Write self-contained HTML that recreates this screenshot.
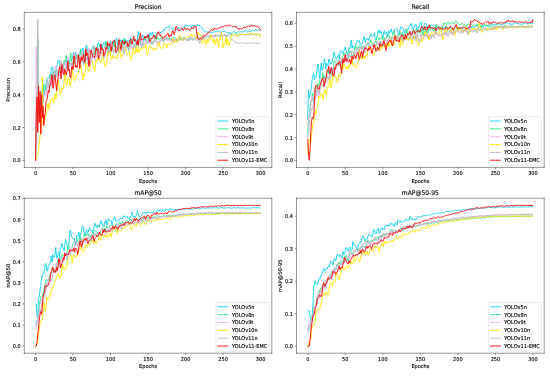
<!DOCTYPE html>
<html><head><meta charset="utf-8"><title>Training curves</title>
<style>html,body{margin:0;padding:0;background:#fff;width:550px;height:376px;overflow:hidden}svg{display:block}
text{font-family:"DejaVu Sans","Liberation Sans",sans-serif;stroke:#000;stroke-width:0.4;stroke-opacity:0.6;text-rendering:geometricPrecision}</style></head>
<body>
<svg width="550" height="376" preserveAspectRatio="none" viewBox="0 0 1100 702.80" version="1.1">
 
 <defs>
  <style type="text/css">*{stroke-linejoin: round; stroke-linecap: butt}</style>
 </defs>
 <g id="figure_1">
  <g id="patch_1">
   <path d="M 0 702.80 
L 1100 702.80 
L 1100 0 
L 0 0 
z
" style="fill: #ffffff"/>
  </g>
  <g id="axes_1">
   <g id="patch_2">
    <path d="M 48.6 312.89 
L 543.6 312.89 
L 543.6 23.17 
L 48.6 23.17 
z
" style="fill: #ffffff"/>
   </g>
   <g id="matplotlib.axis_1">
    <g id="xtick_1">
     <g id="line2d_1">
      
      <g>
       <path d="M 71.10 312.90 L 71.10 316.40" style="stroke: #000000; stroke-width: 0.8"/>
      </g>
     </g>
     <g id="text_1">
      <text style="font-size: 10px; font-family: 'DejaVu Sans'; text-anchor: middle" x="71.1" y="327.49" transform="rotate(-0 71.1 327.49)">0</text>
     </g>
    </g>
    <g id="xtick_2">
     <g id="line2d_2">
      <g>
       <path d="M 146.10 312.90 L 146.10 316.40" style="stroke: #000000; stroke-width: 0.8"/>
      </g>
     </g>
     <g id="text_2">
      <text style="font-size: 10px; font-family: 'DejaVu Sans'; text-anchor: middle" x="146.1" y="327.49" transform="rotate(-0 146.1 327.49)">50</text>
     </g>
    </g>
    <g id="xtick_3">
     <g id="line2d_3">
      <g>
       <path d="M 221.10 312.90 L 221.10 316.40" style="stroke: #000000; stroke-width: 0.8"/>
      </g>
     </g>
     <g id="text_3">
      <text style="font-size: 10px; font-family: 'DejaVu Sans'; text-anchor: middle" x="221.1" y="327.49" transform="rotate(-0 221.1 327.49)">100</text>
     </g>
    </g>
    <g id="xtick_4">
     <g id="line2d_4">
      <g>
       <path d="M 296.10 312.90 L 296.10 316.40" style="stroke: #000000; stroke-width: 0.8"/>
      </g>
     </g>
     <g id="text_4">
      <text style="font-size: 10px; font-family: 'DejaVu Sans'; text-anchor: middle" x="296.1" y="327.49" transform="rotate(-0 296.1 327.49)">150</text>
     </g>
    </g>
    <g id="xtick_5">
     <g id="line2d_5">
      <g>
       <path d="M 371.10 312.90 L 371.10 316.40" style="stroke: #000000; stroke-width: 0.8"/>
      </g>
     </g>
     <g id="text_5">
      <text style="font-size: 10px; font-family: 'DejaVu Sans'; text-anchor: middle" x="371.1" y="327.49" transform="rotate(-0 371.1 327.49)">200</text>
     </g>
    </g>
    <g id="xtick_6">
     <g id="line2d_6">
      <g>
       <path d="M 446.10 312.90 L 446.10 316.40" style="stroke: #000000; stroke-width: 0.8"/>
      </g>
     </g>
     <g id="text_6">
      <text style="font-size: 10px; font-family: 'DejaVu Sans'; text-anchor: middle" x="446.1" y="327.49" transform="rotate(-0 446.1 327.49)">250</text>
     </g>
    </g>
    <g id="xtick_7">
     <g id="line2d_7">
      <g>
       <path d="M 521.10 312.90 L 521.10 316.40" style="stroke: #000000; stroke-width: 0.8"/>
      </g>
     </g>
     <g id="text_7">
      <text style="font-size: 10px; font-family: 'DejaVu Sans'; text-anchor: middle" x="521.1" y="327.49" transform="rotate(-0 521.1 327.49)">300</text>
     </g>
    </g>
    <g id="text_8">
     <text style="font-size: 10px; font-family: 'DejaVu Sans'; text-anchor: middle" x="296.1" y="341.17" transform="rotate(-0 296.1 341.17)">Epochs</text>
    </g>
   </g>
   <g id="matplotlib.axis_2">
    <g id="ytick_1">
     <g id="line2d_8">
      
      <g>
       <path d="M 48.60 299.73 L 45.10 299.73" style="stroke: #000000; stroke-width: 0.8"/>
      </g>
     </g>
     <g id="text_9">
      <text style="font-size: 10px; font-family: 'DejaVu Sans'; text-anchor: end" x="41.6" y="303.52" transform="rotate(-0 41.6 303.52)">0.0</text>
     </g>
    </g>
    <g id="ytick_2">
     <g id="line2d_9">
      <g>
       <path d="M 48.60 238.33 L 45.10 238.33" style="stroke: #000000; stroke-width: 0.8"/>
      </g>
     </g>
     <g id="text_10">
      <text style="font-size: 10px; font-family: 'DejaVu Sans'; text-anchor: end" x="41.6" y="242.13" transform="rotate(-0 41.6 242.13)">0.2</text>
     </g>
    </g>
    <g id="ytick_3">
     <g id="line2d_10">
      <g>
       <path d="M 48.60 176.94 L 45.10 176.94" style="stroke: #000000; stroke-width: 0.8"/>
      </g>
     </g>
     <g id="text_11">
      <text style="font-size: 10px; font-family: 'DejaVu Sans'; text-anchor: end" x="41.6" y="180.73" transform="rotate(-0 41.6 180.73)">0.4</text>
     </g>
    </g>
    <g id="ytick_4">
     <g id="line2d_11">
      <g>
       <path d="M 48.60 115.55 L 45.10 115.55" style="stroke: #000000; stroke-width: 0.8"/>
      </g>
     </g>
     <g id="text_12">
      <text style="font-size: 10px; font-family: 'DejaVu Sans'; text-anchor: end" x="41.6" y="119.34" transform="rotate(-0 41.6 119.34)">0.6</text>
     </g>
    </g>
    <g id="ytick_5">
     <g id="line2d_12">
      <g>
       <path d="M 48.60 54.15 L 45.10 54.15" style="stroke: #000000; stroke-width: 0.8"/>
      </g>
     </g>
     <g id="text_13">
      <text style="font-size: 10px; font-family: 'DejaVu Sans'; text-anchor: end" x="41.6" y="57.95" transform="rotate(-0 41.6 57.95)">0.8</text>
     </g>
    </g>
    <g id="text_14">
     <text style="font-size: 10px; font-family: 'DejaVu Sans'; text-anchor: middle" x="19.61" y="168.03" transform="rotate(-90 19.61 168.03)">Precision</text>
    </g>
   </g>
   <g id="line2d_13">
    <path d="M 71.1 299.72 
L 72.6 232.19 
L 74.1 219.91 
L 75.6 212.38 
L 77.1 213.98 
L 80.1 190.12 
L 81.6 178.21 
L 83.1 170.88 
L 84.6 178.92 
L 86.1 181.10 
L 87.6 179.61 
L 89.1 173.97 
L 90.6 163.55 
L 92.1 157.21 
L 93.6 148.35 
L 95.1 145.93 
L 96.6 146.21 
L 98.1 144.68 
L 99.6 139.70 
L 101.1 145.01 
L 102.6 129.06 
L 104.1 124.77 
L 105.6 126.11 
L 107.1 137.60 
L 108.6 148.13 
L 110.1 144.58 
L 111.6 136.79 
L 113.1 123.91 
L 114.6 120.75 
L 116.1 113.97 
L 117.6 111.85 
L 119.1 115.96 
L 120.6 127.17 
L 122.1 125.28 
L 123.6 126.23 
L 125.1 125.66 
L 126.6 119.36 
L 128.1 119.11 
L 129.6 119.73 
L 131.1 120.21 
L 132.6 114.46 
L 134.1 110.14 
L 135.6 109.88 
L 137.1 114.11 
L 138.6 113.77 
L 140.1 111.36 
L 141.6 112.63 
L 143.1 112.04 
L 144.6 110.87 
L 146.1 101.69 
L 147.6 98.14 
L 149.1 104.78 
L 150.6 97.97 
L 152.1 103.05 
L 155.1 114.64 
L 156.6 114.21 
L 158.1 102.96 
L 159.6 103.44 
L 161.1 93.40 
L 162.6 96.27 
L 164.1 94.36 
L 165.6 89.51 
L 167.1 97.41 
L 168.6 115.83 
L 170.1 104.65 
L 171.6 87.63 
L 173.1 83.82 
L 174.6 92.09 
L 176.1 97.14 
L 177.6 94.24 
L 179.1 93.42 
L 180.6 97.27 
L 182.1 95.87 
L 183.6 92.61 
L 185.1 87.82 
L 186.6 85.39 
L 188.1 85.92 
L 189.6 91.05 
L 191.1 96.79 
L 192.6 93.03 
L 195.6 83.55 
L 197.1 79.34 
L 198.6 83.05 
L 200.1 87.24 
L 201.6 87.66 
L 203.1 83.23 
L 204.6 90.87 
L 206.1 83.83 
L 207.6 79.34 
L 209.1 80.97 
L 210.6 77.58 
L 212.1 85.99 
L 213.6 81.97 
L 215.1 80.51 
L 216.6 90.77 
L 218.1 91.40 
L 221.1 76.49 
L 222.6 79.72 
L 224.1 84.22 
L 225.6 82.15 
L 227.1 76.51 
L 228.6 78.00 
L 230.1 81.44 
L 231.6 78.79 
L 233.1 70.95 
L 234.6 79.24 
L 236.1 85.07 
L 237.6 82.98 
L 239.1 78.25 
L 240.6 77.55 
L 242.1 74.08 
L 243.6 81.69 
L 245.1 83.18 
L 246.6 76.45 
L 248.1 72.38 
L 249.6 71.47 
L 251.1 82.14 
L 252.6 78.84 
L 254.1 75.17 
L 255.6 76.17 
L 257.1 75.60 
L 258.6 77.46 
L 260.1 74.74 
L 261.6 70.67 
L 263.1 74.52 
L 264.6 76.43 
L 266.1 74.37 
L 267.6 73.48 
L 269.1 77.79 
L 270.6 78.17 
L 272.1 77.48 
L 273.6 82.24 
L 275.1 68.17 
L 276.6 58.66 
L 278.1 66.46 
L 279.6 76.03 
L 281.1 70.45 
L 282.6 68.08 
L 284.1 69.40 
L 285.6 65.00 
L 287.1 74.15 
L 288.6 74.81 
L 290.1 70.68 
L 291.6 71.46 
L 293.1 69.66 
L 294.6 66.29 
L 296.1 68.58 
L 297.6 71.39 
L 299.1 65.46 
L 300.6 60.92 
L 302.1 66.29 
L 303.6 64.33 
L 305.1 60.65 
L 306.6 67.72 
L 308.1 69.47 
L 309.6 67.88 
L 311.1 68.21 
L 312.6 62.26 
L 314.1 62.44 
L 315.6 60.78 
L 317.1 61.31 
L 320.1 61.30 
L 321.6 60.65 
L 323.1 59.25 
L 324.6 60.49 
L 327.6 55.17 
L 329.1 56.47 
L 330.6 52.02 
L 332.1 51.72 
L 333.6 51.59 
L 335.1 50.99 
L 336.6 48.86 
L 338.1 50.71 
L 339.6 49.63 
L 341.1 52.01 
L 342.6 53.53 
L 345.6 53.30 
L 347.1 55.09 
L 348.6 55.56 
L 350.1 55.24 
L 351.6 56.39 
L 354.6 54.45 
L 356.1 52.22 
L 357.6 50.67 
L 359.1 52.35 
L 360.6 53.41 
L 362.1 51.95 
L 365.1 54.37 
L 366.6 53.24 
L 368.1 51.46 
L 369.6 48.10 
L 371.1 45.94 
L 372.6 47.64 
L 374.1 48.79 
L 375.6 47.31 
L 377.1 47.53 
L 378.6 47.94 
L 380.1 48.90 
L 381.6 50.69 
L 383.1 49.55 
L 384.6 47.02 
L 386.1 47.24 
L 387.6 48.01 
L 389.1 48.21 
L 390.6 47.29 
L 392.1 47.65 
L 393.6 46.19 
L 395.1 46.15 
L 396.6 48.10 
L 398.1 47.77 
L 399.6 47.89 
L 401.1 48.59 
L 402.6 49.90 
L 404.1 52.24 
L 407.1 57.58 
L 408.6 58.26 
L 410.1 59.07 
L 411.6 59.45 
L 413.1 59.54 
L 414.6 59.97 
L 416.1 59.62 
L 417.6 59.94 
L 419.1 60.61 
L 420.6 61.04 
L 422.1 60.72 
L 423.6 60.14 
L 425.1 60.78 
L 426.6 59.99 
L 428.1 60.00 
L 429.6 59.62 
L 431.1 58.96 
L 432.6 58.60 
L 434.1 58.10 
L 435.6 57.76 
L 438.6 58.61 
L 440.1 59.34 
L 441.6 60.43 
L 443.1 60.25 
L 444.6 58.20 
L 446.1 59.11 
L 447.6 59.12 
L 449.1 58.18 
L 450.6 59.69 
L 452.1 60.02 
L 453.6 61.01 
L 455.1 61.70 
L 456.6 60.35 
L 458.1 60.76 
L 459.6 60.79 
L 461.1 61.56 
L 462.6 62.11 
L 464.1 61.83 
L 465.6 60.56 
L 467.1 58.81 
L 468.6 59.04 
L 470.1 60.73 
L 471.6 61.50 
L 473.1 60.99 
L 474.6 60.16 
L 476.1 60.15 
L 477.6 59.73 
L 479.1 60.11 
L 480.6 59.12 
L 482.1 59.73 
L 483.6 59.87 
L 486.6 59.24 
L 488.1 58.17 
L 489.6 58.38 
L 491.1 57.34 
L 492.6 57.15 
L 494.1 59.62 
L 495.6 60.29 
L 497.1 59.15 
L 498.6 58.43 
L 500.1 58.42 
L 501.6 58.69 
L 503.1 57.71 
L 504.6 56.36 
L 506.1 56.65 
L 507.6 58.50 
L 509.1 57.62 
L 510.6 55.73 
L 512.1 54.98 
L 513.6 56.88 
L 515.1 56.86 
L 516.6 55.54 
L 518.1 55.93 
L 519.6 56.74 
L 521.1 55.64 
L 521.1 55.64 
" clip-path="url(#p830c4c7120)" style="fill: none; stroke: #10d0f0; stroke-width: 1.75; stroke-linecap: square"/>
   </g>
   <g id="line2d_14">
    <path d="M 71.1 299.72 
L 72.6 238.33 
L 74.1 222.98 
L 75.6 72.56 
L 77.1 213.77 
L 78.6 210.63 
L 80.1 209.39 
L 81.6 210.62 
L 83.1 204.55 
L 84.6 203.78 
L 86.1 178.69 
L 87.6 156.80 
L 89.1 158.26 
L 90.6 168.20 
L 92.1 163.25 
L 93.6 166.16 
L 95.1 159.37 
L 96.6 155.65 
L 98.1 159.94 
L 99.6 160.64 
L 101.1 143.12 
L 102.6 138.25 
L 104.1 147.64 
L 105.6 136.16 
L 107.1 133.16 
L 108.6 147.50 
L 110.1 131.79 
L 111.6 132.75 
L 113.1 134.55 
L 114.6 130.31 
L 119.1 134.93 
L 120.6 133.05 
L 122.1 134.64 
L 123.6 130.01 
L 125.1 133.55 
L 126.6 131.71 
L 128.1 112.62 
L 129.6 117.34 
L 131.1 110.90 
L 132.6 103.09 
L 135.6 119.84 
L 137.1 123.43 
L 138.6 114.10 
L 140.1 110.87 
L 141.6 98.87 
L 143.1 114.21 
L 144.6 121.33 
L 146.1 126.87 
L 147.6 115.63 
L 149.1 118.38 
L 152.1 107.35 
L 153.6 105.38 
L 155.1 105.35 
L 156.6 109.37 
L 158.1 115.52 
L 159.6 106.74 
L 161.1 92.23 
L 162.6 100.46 
L 164.1 105.74 
L 165.6 100.86 
L 167.1 103.58 
L 168.6 114.29 
L 170.1 116.30 
L 171.6 102.12 
L 173.1 96.57 
L 174.6 98.57 
L 176.1 102.11 
L 177.6 95.43 
L 179.1 94.16 
L 180.6 96.58 
L 182.1 98.76 
L 183.6 99.71 
L 185.1 108.44 
L 186.6 98.22 
L 188.1 103.05 
L 189.6 96.24 
L 191.1 90.25 
L 192.6 97.15 
L 194.1 100.84 
L 195.6 90.66 
L 197.1 94.25 
L 198.6 99.32 
L 200.1 98.46 
L 201.6 91.80 
L 203.1 89.14 
L 204.6 93.58 
L 206.1 97.28 
L 207.6 91.70 
L 209.1 90.84 
L 210.6 80.63 
L 212.1 78.27 
L 213.6 79.37 
L 215.1 94.63 
L 216.6 97.12 
L 218.1 92.33 
L 219.6 98.83 
L 221.1 92.15 
L 222.6 88.84 
L 224.1 94.95 
L 225.6 88.09 
L 227.1 78.27 
L 228.6 87.87 
L 230.1 82.95 
L 231.6 86.05 
L 233.1 90.92 
L 234.6 88.36 
L 236.1 89.03 
L 237.6 88.38 
L 239.1 90.08 
L 240.6 89.13 
L 242.1 85.45 
L 243.6 77.55 
L 245.1 85.12 
L 246.6 91.09 
L 248.1 85.18 
L 249.6 72.36 
L 251.1 76.50 
L 252.6 85.74 
L 254.1 85.61 
L 255.6 86.86 
L 257.1 95.66 
L 258.6 84.48 
L 260.1 75.54 
L 261.6 80.28 
L 263.1 80.47 
L 264.6 78.34 
L 266.1 81.96 
L 267.6 82.22 
L 269.1 84.09 
L 270.6 81.99 
L 272.1 82.95 
L 273.6 85.69 
L 275.1 79.60 
L 276.6 74.36 
L 278.1 71.28 
L 279.6 77.78 
L 282.6 79.15 
L 284.1 85.56 
L 285.6 82.57 
L 287.1 77.81 
L 288.6 69.84 
L 290.1 69.12 
L 291.6 76.35 
L 293.1 78.13 
L 294.6 77.65 
L 296.1 74.23 
L 297.6 71.39 
L 299.1 68.10 
L 300.6 73.43 
L 302.1 76.68 
L 303.6 81.92 
L 305.1 79.01 
L 306.6 76.38 
L 308.1 78.00 
L 309.6 73.34 
L 311.1 67.87 
L 312.6 74.19 
L 314.1 73.99 
L 315.6 70.52 
L 317.1 74.09 
L 318.6 73.08 
L 320.1 73.30 
L 321.6 70.71 
L 323.1 69.72 
L 324.6 74.42 
L 326.1 76.71 
L 327.6 74.79 
L 329.1 71.11 
L 332.1 73.35 
L 333.6 70.14 
L 335.1 71.91 
L 336.6 72.39 
L 338.1 70.86 
L 339.6 74.35 
L 341.1 75.73 
L 342.6 71.98 
L 344.1 70.66 
L 345.6 70.18 
L 347.1 70.61 
L 348.6 70.04 
L 350.1 70.07 
L 351.6 72.43 
L 353.1 77.53 
L 354.6 78.45 
L 356.1 74.96 
L 357.6 69.22 
L 359.1 70.08 
L 360.6 74.62 
L 362.1 72.98 
L 363.6 75.40 
L 365.1 72.38 
L 366.6 69.79 
L 368.1 71.05 
L 369.6 70.62 
L 371.1 71.54 
L 372.6 75.19 
L 374.1 72.64 
L 375.6 72.76 
L 377.1 73.12 
L 378.6 73.96 
L 380.1 71.53 
L 381.6 71.15 
L 383.1 73.50 
L 384.6 74.81 
L 386.1 71.40 
L 387.6 71.36 
L 389.1 72.62 
L 390.6 71.63 
L 392.1 71.51 
L 393.6 72.69 
L 395.1 71.72 
L 396.6 72.72 
L 398.1 73.47 
L 399.6 73.44 
L 401.1 69.64 
L 402.6 68.11 
L 404.1 68.81 
L 405.6 70.98 
L 407.1 70.45 
L 408.6 70.37 
L 411.6 71.33 
L 413.1 69.61 
L 414.6 68.09 
L 416.1 69.36 
L 417.6 67.90 
L 419.1 68.16 
L 420.6 68.14 
L 422.1 67.70 
L 425.1 69.37 
L 426.6 68.69 
L 428.1 68.79 
L 429.6 67.23 
L 431.1 66.50 
L 432.6 66.83 
L 434.1 66.31 
L 435.6 67.16 
L 438.6 67.86 
L 440.1 66.93 
L 441.6 66.47 
L 443.1 66.80 
L 446.1 66.47 
L 447.6 66.48 
L 449.1 65.07 
L 450.6 65.86 
L 452.1 66.98 
L 453.6 67.02 
L 455.1 66.52 
L 456.6 65.36 
L 458.1 63.22 
L 459.6 65.28 
L 461.1 65.85 
L 462.6 63.51 
L 464.1 66.17 
L 465.6 65.64 
L 467.1 64.89 
L 468.6 64.47 
L 470.1 64.40 
L 471.6 62.39 
L 473.1 61.66 
L 474.6 63.69 
L 476.1 65.07 
L 477.6 64.63 
L 479.1 65.68 
L 480.6 65.89 
L 482.1 63.97 
L 483.6 64.93 
L 485.1 64.17 
L 486.6 64.93 
L 488.1 64.92 
L 489.6 64.50 
L 491.1 65.39 
L 492.6 64.83 
L 494.1 65.08 
L 495.6 64.46 
L 497.1 65.21 
L 498.6 64.29 
L 500.1 65.20 
L 501.6 64.21 
L 503.1 62.92 
L 504.6 63.63 
L 506.1 65.14 
L 509.1 63.77 
L 510.6 64.91 
L 512.1 65.42 
L 513.6 63.69 
L 515.1 64.74 
L 516.6 63.73 
L 518.1 65.32 
L 519.6 65.57 
L 521.1 64.71 
L 521.1 64.71 
" clip-path="url(#p830c4c7120)" style="fill: none; stroke: #30e880; stroke-width: 1.75; stroke-linecap: square"/>
   </g>
   <g id="line2d_15">
    <path d="M 71.1 299.72 
L 72.6 87.91 
L 74.1 213.77 
L 75.6 216.84 
L 77.1 215.63 
L 78.6 212.54 
L 80.1 212.95 
L 81.6 209.95 
L 83.1 196.29 
L 84.6 181.18 
L 86.1 176.61 
L 87.6 178.33 
L 89.1 172.31 
L 90.6 173.48 
L 92.1 178.89 
L 93.6 169.89 
L 95.1 165.18 
L 96.6 152.45 
L 98.1 151.59 
L 99.6 152.64 
L 101.1 146.95 
L 102.6 161.24 
L 104.1 149.90 
L 105.6 146.92 
L 107.1 154.55 
L 108.6 145.49 
L 110.1 123.70 
L 111.6 123.47 
L 113.1 132.42 
L 114.6 130.74 
L 116.1 130.89 
L 117.6 143.69 
L 119.1 138.53 
L 120.6 138.71 
L 122.1 132.37 
L 123.6 120.55 
L 125.1 131.73 
L 126.6 136.53 
L 128.1 117.47 
L 129.6 115.89 
L 131.1 116.33 
L 132.6 128.21 
L 134.1 124.30 
L 135.6 106.05 
L 137.1 119.02 
L 138.6 127.16 
L 140.1 122.73 
L 141.6 118.91 
L 143.1 126.72 
L 144.6 125.01 
L 146.1 114.59 
L 147.6 100.83 
L 149.1 101.59 
L 150.6 111.69 
L 152.1 119.15 
L 153.6 117.26 
L 155.1 116.78 
L 156.6 113.58 
L 158.1 104.82 
L 159.6 105.00 
L 161.1 116.36 
L 162.6 102.05 
L 164.1 97.17 
L 165.6 103.73 
L 167.1 115.26 
L 168.6 111.89 
L 170.1 106.25 
L 171.6 111.93 
L 173.1 114.04 
L 174.6 101.55 
L 176.1 100.99 
L 177.6 89.35 
L 180.6 103.88 
L 182.1 106.26 
L 183.6 109.53 
L 185.1 102.17 
L 186.6 94.17 
L 188.1 101.83 
L 189.6 114.23 
L 191.1 108.60 
L 192.6 96.55 
L 194.1 99.85 
L 195.6 95.19 
L 197.1 89.96 
L 198.6 93.77 
L 200.1 101.16 
L 201.6 93.57 
L 203.1 92.16 
L 204.6 102.51 
L 206.1 106.73 
L 207.6 97.64 
L 209.1 87.10 
L 210.6 86.49 
L 212.1 86.25 
L 213.6 87.32 
L 215.1 100.17 
L 216.6 101.98 
L 218.1 99.13 
L 219.6 95.66 
L 221.1 87.21 
L 222.6 80.49 
L 224.1 81.41 
L 227.1 92.38 
L 228.6 92.99 
L 230.1 94.95 
L 231.6 98.92 
L 233.1 96.64 
L 234.6 86.99 
L 236.1 87.17 
L 237.6 88.28 
L 239.1 97.98 
L 240.6 88.10 
L 242.1 84.93 
L 243.6 85.72 
L 245.1 84.61 
L 246.6 89.62 
L 248.1 87.98 
L 249.6 88.94 
L 251.1 92.13 
L 252.6 80.84 
L 254.1 83.04 
L 255.6 84.08 
L 257.1 86.73 
L 258.6 91.36 
L 260.1 93.24 
L 261.6 90.49 
L 263.1 79.31 
L 264.6 82.26 
L 266.1 83.08 
L 267.6 90.18 
L 269.1 86.27 
L 270.6 83.84 
L 272.1 84.39 
L 273.6 79.92 
L 275.1 84.13 
L 278.1 77.17 
L 279.6 74.95 
L 281.1 78.76 
L 282.6 85.39 
L 284.1 80.39 
L 285.6 75.98 
L 287.1 82.89 
L 288.6 84.81 
L 290.1 81.74 
L 291.6 75.30 
L 293.1 76.27 
L 294.6 82.38 
L 296.1 80.45 
L 297.6 77.44 
L 299.1 77.42 
L 300.6 81.78 
L 302.1 79.83 
L 303.6 77.65 
L 305.1 78.30 
L 306.6 77.24 
L 308.1 77.81 
L 309.6 77.75 
L 311.1 73.11 
L 314.1 81.24 
L 315.6 78.59 
L 317.1 77.51 
L 318.6 77.77 
L 321.6 73.92 
L 323.1 75.96 
L 324.6 74.53 
L 326.1 72.50 
L 327.6 73.52 
L 329.1 76.39 
L 330.6 72.22 
L 332.1 74.62 
L 333.6 73.28 
L 335.1 75.96 
L 336.6 76.01 
L 338.1 76.51 
L 339.6 77.53 
L 341.1 75.55 
L 342.6 73.12 
L 344.1 73.99 
L 345.6 77.53 
L 347.1 75.08 
L 348.6 76.28 
L 350.1 74.93 
L 353.1 74.91 
L 354.6 73.29 
L 356.1 76.60 
L 357.6 69.75 
L 359.1 66.36 
L 360.6 69.25 
L 362.1 73.11 
L 363.6 75.83 
L 365.1 72.20 
L 366.6 74.09 
L 368.1 74.49 
L 369.6 74.40 
L 371.1 71.04 
L 372.6 72.49 
L 374.1 75.00 
L 375.6 74.18 
L 377.1 74.83 
L 378.6 72.51 
L 380.1 73.86 
L 383.1 71.32 
L 384.6 72.49 
L 386.1 75.12 
L 387.6 74.62 
L 389.1 74.77 
L 390.6 69.58 
L 392.1 71.12 
L 393.6 76.61 
L 395.1 74.75 
L 396.6 69.10 
L 398.1 69.40 
L 399.6 71.43 
L 401.1 69.33 
L 402.6 69.62 
L 404.1 70.10 
L 405.6 70.12 
L 407.1 67.38 
L 408.6 69.63 
L 410.1 71.22 
L 411.6 70.44 
L 413.1 69.97 
L 414.6 68.26 
L 416.1 67.97 
L 417.6 69.23 
L 420.6 68.42 
L 422.1 68.46 
L 423.6 67.72 
L 425.1 69.19 
L 426.6 69.34 
L 428.1 68.98 
L 429.6 69.41 
L 431.1 67.45 
L 432.6 66.35 
L 434.1 67.11 
L 435.6 66.31 
L 437.1 66.86 
L 438.6 66.30 
L 440.1 67.53 
L 441.6 67.42 
L 443.1 69.27 
L 444.6 68.15 
L 446.1 66.65 
L 447.6 67.41 
L 449.1 65.10 
L 450.6 64.21 
L 452.1 67.50 
L 453.6 66.77 
L 455.1 65.74 
L 456.6 63.81 
L 458.1 62.90 
L 459.6 63.99 
L 461.1 63.61 
L 462.6 64.52 
L 464.1 66.48 
L 467.1 65.40 
L 468.6 64.89 
L 470.1 63.74 
L 471.6 65.85 
L 473.1 65.07 
L 474.6 65.01 
L 476.1 64.08 
L 477.6 65.45 
L 479.1 64.42 
L 480.6 63.94 
L 482.1 63.68 
L 483.6 63.88 
L 485.1 65.41 
L 486.6 66.55 
L 488.1 67.94 
L 489.6 67.00 
L 491.1 65.17 
L 492.6 65.60 
L 494.1 64.77 
L 495.6 63.78 
L 497.1 64.91 
L 498.6 64.65 
L 500.1 63.62 
L 501.6 64.18 
L 503.1 63.77 
L 504.6 64.02 
L 506.1 65.16 
L 507.6 64.65 
L 509.1 65.68 
L 510.6 65.13 
L 512.1 64.91 
L 513.6 65.11 
L 515.1 64.68 
L 518.1 65.12 
L 521.1 64.95 
L 521.1 64.95 
" clip-path="url(#p830c4c7120)" style="fill: none; stroke: #f0b0f0; stroke-width: 1.75; stroke-linecap: square"/>
   </g>
   <g id="line2d_16">
    <path d="M 71.1 299.72 
L 72.6 296.65 
L 74.1 290.51 
L 75.6 287.90 
L 77.1 282.11 
L 78.6 269.03 
L 80.1 254.05 
L 81.6 241.92 
L 83.1 240.63 
L 84.6 144.09 
L 86.1 231.52 
L 87.6 230.58 
L 90.6 217.76 
L 92.1 212.15 
L 93.6 208.14 
L 95.1 194.08 
L 96.6 193.27 
L 98.1 204.50 
L 99.6 194.65 
L 101.1 186.50 
L 102.6 184.43 
L 104.1 182.59 
L 105.6 186.09 
L 107.1 191.23 
L 108.6 186.98 
L 110.1 175.25 
L 111.6 185.02 
L 113.1 181.18 
L 114.6 154.21 
L 116.1 148.37 
L 120.6 176.63 
L 122.1 174.58 
L 123.6 163.61 
L 125.1 167.69 
L 126.6 164.84 
L 128.1 154.11 
L 129.6 135.62 
L 131.1 144.90 
L 132.6 158.85 
L 134.1 158.24 
L 135.6 146.43 
L 137.1 145.74 
L 138.6 148.65 
L 140.1 160.93 
L 141.6 158.79 
L 143.1 148.55 
L 144.6 130.66 
L 147.6 147.89 
L 149.1 151.72 
L 150.6 142.45 
L 152.1 144.69 
L 153.6 139.23 
L 155.1 139.84 
L 156.6 137.24 
L 158.1 129.49 
L 159.6 125.24 
L 161.1 121.56 
L 162.6 126.76 
L 164.1 141.01 
L 165.6 150.00 
L 167.1 137.28 
L 168.6 143.14 
L 170.1 137.33 
L 171.6 117.12 
L 173.1 119.60 
L 174.6 126.28 
L 176.1 130.21 
L 177.6 133.82 
L 179.1 130.95 
L 180.6 119.33 
L 182.1 115.69 
L 183.6 113.23 
L 185.1 114.42 
L 189.6 133.66 
L 191.1 119.22 
L 192.6 110.87 
L 194.1 114.88 
L 195.6 105.56 
L 198.6 112.64 
L 200.1 112.37 
L 201.6 116.78 
L 203.1 115.26 
L 204.6 104.92 
L 206.1 100.90 
L 207.6 113.17 
L 209.1 123.63 
L 210.6 124.77 
L 212.1 120.11 
L 213.6 112.78 
L 215.1 100.10 
L 216.6 97.85 
L 218.1 102.45 
L 219.6 93.81 
L 221.1 101.85 
L 222.6 111.18 
L 225.6 103.49 
L 227.1 108.97 
L 228.6 109.19 
L 230.1 106.23 
L 231.6 106.75 
L 233.1 110.15 
L 234.6 106.65 
L 236.1 99.85 
L 237.6 100.69 
L 239.1 91.62 
L 240.6 94.82 
L 242.1 108.23 
L 243.6 103.14 
L 245.1 103.92 
L 246.6 101.42 
L 248.1 90.58 
L 249.6 88.13 
L 251.1 88.47 
L 252.6 95.11 
L 254.1 102.27 
L 255.6 101.88 
L 257.1 98.56 
L 258.6 97.24 
L 260.1 106.19 
L 261.6 112.22 
L 263.1 108.03 
L 264.6 100.30 
L 266.1 88.44 
L 267.6 93.27 
L 269.1 101.44 
L 270.6 95.25 
L 272.1 86.99 
L 273.6 96.95 
L 275.1 98.81 
L 276.6 87.08 
L 278.1 98.12 
L 279.6 92.92 
L 281.1 90.74 
L 282.6 90.66 
L 284.1 93.92 
L 285.6 89.99 
L 287.1 87.63 
L 288.6 89.43 
L 290.1 89.62 
L 291.6 83.04 
L 293.1 96.04 
L 294.6 103.08 
L 296.1 98.32 
L 297.6 88.19 
L 299.1 85.43 
L 300.6 88.23 
L 302.1 87.66 
L 303.6 90.35 
L 305.1 92.16 
L 306.6 94.41 
L 308.1 89.26 
L 309.6 91.22 
L 311.1 91.53 
L 312.6 93.40 
L 314.1 89.08 
L 315.6 86.29 
L 317.1 81.71 
L 318.6 79.05 
L 320.1 88.39 
L 321.6 88.23 
L 323.1 90.74 
L 324.6 90.99 
L 326.1 88.82 
L 327.6 83.00 
L 329.1 80.40 
L 330.6 81.96 
L 332.1 84.15 
L 333.6 89.85 
L 335.1 83.39 
L 336.6 81.79 
L 338.1 82.41 
L 339.6 82.37 
L 341.1 82.75 
L 342.6 82.46 
L 344.1 79.30 
L 345.6 72.17 
L 348.6 79.07 
L 350.1 79.39 
L 351.6 75.19 
L 353.1 72.02 
L 354.6 79.66 
L 356.1 74.40 
L 357.6 69.88 
L 359.1 66.01 
L 360.6 67.06 
L 362.1 71.83 
L 363.6 76.09 
L 365.1 75.99 
L 366.6 72.30 
L 368.1 71.93 
L 369.6 72.05 
L 371.1 72.72 
L 372.6 69.34 
L 374.1 68.80 
L 375.6 67.89 
L 377.1 69.14 
L 378.6 70.85 
L 380.1 67.66 
L 381.6 63.49 
L 383.1 67.08 
L 384.6 68.96 
L 386.1 64.74 
L 387.6 65.90 
L 389.1 65.22 
L 390.6 69.58 
L 392.1 69.80 
L 393.6 71.55 
L 395.1 64.16 
L 396.6 59.91 
L 398.1 66.14 
L 399.6 64.93 
L 401.1 66.09 
L 402.6 66.10 
L 404.1 79.76 
L 405.6 80.91 
L 407.1 74.40 
L 408.6 74.04 
L 410.1 74.87 
L 411.6 83.00 
L 413.1 79.25 
L 414.6 73.36 
L 416.1 80.68 
L 417.6 76.01 
L 419.1 69.73 
L 420.6 73.45 
L 422.1 64.70 
L 425.1 73.36 
L 426.6 80.20 
L 428.1 73.15 
L 429.6 81.62 
L 431.1 83.31 
L 432.6 72.48 
L 434.1 72.08 
L 435.6 80.25 
L 437.1 87.66 
L 438.6 72.69 
L 440.1 74.34 
L 443.1 59.53 
L 444.6 67.06 
L 446.1 89.51 
L 447.6 84.84 
L 449.1 79.03 
L 450.6 79.51 
L 452.1 68.70 
L 453.6 84.84 
L 455.1 72.47 
L 456.6 83.31 
L 458.1 85.06 
L 459.6 78.51 
L 461.1 75.03 
L 462.6 66.44 
L 464.1 65.70 
L 465.6 66.44 
L 467.1 64.63 
L 468.6 63.56 
L 470.1 66.35 
L 471.6 67.91 
L 473.1 67.39 
L 474.6 67.50 
L 476.1 68.06 
L 477.6 63.47 
L 479.1 62.59 
L 480.6 63.03 
L 482.1 65.50 
L 485.1 64.00 
L 486.6 64.50 
L 488.1 64.01 
L 489.6 64.64 
L 491.1 64.41 
L 492.6 63.51 
L 494.1 64.57 
L 495.6 65.02 
L 497.1 64.21 
L 498.6 62.90 
L 500.1 61.20 
L 501.6 62.79 
L 503.1 61.35 
L 504.6 63.33 
L 506.1 65.02 
L 507.6 63.62 
L 509.1 64.30 
L 510.6 63.36 
L 512.1 63.60 
L 513.6 64.38 
L 515.1 63.72 
L 518.1 63.40 
L 519.6 65.42 
L 521.1 69.86 
L 521.1 69.86 
" clip-path="url(#p830c4c7120)" style="fill: none; stroke: #ffe600; stroke-width: 1.75; stroke-linecap: square"/>
   </g>
   <g id="line2d_17">
    <path d="M 71.1 299.72 
L 72.6 238.33 
L 74.1 207.63 
L 75.6 36.34 
L 77.1 207.63 
L 78.6 213.77 
L 80.1 209.45 
L 84.6 192.46 
L 86.1 192.16 
L 87.6 177.34 
L 90.6 168.51 
L 92.1 170.37 
L 93.6 162.20 
L 95.1 150.18 
L 96.6 160.46 
L 98.1 166.22 
L 99.6 150.42 
L 101.1 140.28 
L 102.6 144.60 
L 104.1 147.38 
L 105.6 146.72 
L 107.1 132.87 
L 108.6 134.68 
L 110.1 137.55 
L 111.6 136.71 
L 113.1 143.32 
L 114.6 133.90 
L 116.1 137.52 
L 117.6 137.68 
L 119.1 130.97 
L 120.6 126.24 
L 122.1 114.04 
L 123.6 123.12 
L 125.1 119.18 
L 126.6 125.02 
L 128.1 128.98 
L 129.6 131.70 
L 131.1 129.10 
L 134.1 119.62 
L 135.6 121.35 
L 137.1 127.24 
L 138.6 118.51 
L 140.1 116.43 
L 141.6 123.68 
L 143.1 118.05 
L 144.6 118.64 
L 146.1 113.83 
L 147.6 104.69 
L 149.1 112.30 
L 150.6 103.23 
L 152.1 100.49 
L 153.6 109.02 
L 155.1 111.86 
L 156.6 103.80 
L 158.1 112.65 
L 159.6 118.70 
L 161.1 119.10 
L 162.6 109.63 
L 164.1 117.44 
L 165.6 109.98 
L 167.1 122.51 
L 168.6 114.00 
L 170.1 93.81 
L 171.6 90.70 
L 173.1 99.17 
L 174.6 101.62 
L 176.1 120.28 
L 177.6 107.50 
L 179.1 108.59 
L 180.6 121.48 
L 182.1 115.70 
L 183.6 111.42 
L 186.6 94.99 
L 188.1 85.82 
L 189.6 91.14 
L 191.1 97.69 
L 192.6 103.66 
L 194.1 107.36 
L 195.6 102.13 
L 197.1 98.86 
L 198.6 98.25 
L 200.1 97.48 
L 201.6 99.80 
L 203.1 100.08 
L 204.6 93.96 
L 206.1 99.12 
L 207.6 108.54 
L 209.1 108.11 
L 210.6 99.22 
L 212.1 98.93 
L 213.6 96.65 
L 215.1 92.77 
L 216.6 98.32 
L 218.1 96.97 
L 219.6 93.23 
L 221.1 91.51 
L 222.6 92.42 
L 224.1 84.69 
L 225.6 87.34 
L 227.1 99.62 
L 228.6 92.50 
L 230.1 93.29 
L 231.6 97.38 
L 233.1 98.86 
L 234.6 99.17 
L 236.1 99.21 
L 237.6 88.77 
L 239.1 81.37 
L 240.6 82.30 
L 242.1 93.05 
L 243.6 96.01 
L 245.1 90.81 
L 246.6 89.55 
L 248.1 100.78 
L 249.6 97.45 
L 251.1 85.62 
L 252.6 88.42 
L 254.1 81.06 
L 255.6 85.96 
L 257.1 93.20 
L 260.1 80.02 
L 261.6 86.51 
L 263.1 88.21 
L 264.6 88.36 
L 266.1 90.05 
L 267.6 86.89 
L 269.1 84.50 
L 270.6 89.24 
L 272.1 85.16 
L 273.6 83.18 
L 275.1 76.54 
L 276.6 80.94 
L 278.1 82.94 
L 279.6 70.47 
L 281.1 78.83 
L 282.6 89.53 
L 284.1 87.63 
L 285.6 86.38 
L 287.1 82.82 
L 288.6 83.19 
L 290.1 81.81 
L 291.6 80.02 
L 294.6 79.65 
L 296.1 81.15 
L 297.6 74.71 
L 299.1 72.02 
L 300.6 73.49 
L 302.1 79.75 
L 303.6 80.92 
L 305.1 83.23 
L 306.6 80.23 
L 308.1 75.42 
L 309.6 71.30 
L 311.1 72.59 
L 312.6 77.84 
L 314.1 77.72 
L 315.6 78.52 
L 317.1 78.28 
L 318.6 76.89 
L 320.1 77.85 
L 321.6 76.86 
L 323.1 73.00 
L 324.6 73.09 
L 326.1 77.55 
L 327.6 77.94 
L 329.1 77.11 
L 330.6 70.93 
L 332.1 68.88 
L 333.6 71.48 
L 335.1 75.02 
L 336.6 74.35 
L 338.1 72.30 
L 339.6 72.51 
L 342.6 73.48 
L 344.1 78.81 
L 345.6 80.15 
L 347.1 75.07 
L 348.6 73.56 
L 353.1 74.04 
L 354.6 75.76 
L 356.1 74.90 
L 357.6 75.70 
L 359.1 76.33 
L 360.6 71.11 
L 362.1 70.96 
L 363.6 72.18 
L 365.1 72.04 
L 366.6 75.89 
L 368.1 74.10 
L 369.6 73.02 
L 372.6 74.02 
L 374.1 76.60 
L 375.6 74.16 
L 377.1 76.78 
L 378.6 74.11 
L 380.1 67.04 
L 381.6 70.40 
L 383.1 72.98 
L 384.6 73.94 
L 386.1 74.24 
L 387.6 74.38 
L 389.1 74.04 
L 390.6 70.42 
L 392.1 68.28 
L 393.6 66.94 
L 395.1 66.18 
L 396.6 71.00 
L 398.1 76.28 
L 399.6 81.16 
L 401.1 73.94 
L 402.6 71.13 
L 404.1 67.46 
L 405.6 66.47 
L 407.1 64.07 
L 408.6 66.58 
L 410.1 68.12 
L 411.6 67.71 
L 413.1 66.86 
L 414.6 65.72 
L 416.1 66.90 
L 417.6 69.43 
L 419.1 69.41 
L 420.6 67.56 
L 422.1 65.50 
L 425.1 66.00 
L 426.6 64.74 
L 428.1 66.20 
L 429.6 68.68 
L 431.1 64.03 
L 432.6 65.47 
L 434.1 67.62 
L 435.6 66.13 
L 437.1 67.38 
L 438.6 67.57 
L 440.1 66.09 
L 441.6 64.05 
L 443.1 66.31 
L 444.6 67.10 
L 446.1 67.22 
L 447.6 65.50 
L 449.1 64.46 
L 450.6 67.80 
L 452.1 68.10 
L 453.6 67.82 
L 455.1 68.09 
L 456.6 67.47 
L 458.1 67.95 
L 459.6 70.10 
L 461.1 71.93 
L 462.6 73.15 
L 464.1 73.99 
L 465.6 74.44 
L 467.1 76.01 
L 468.6 76.50 
L 470.1 78.34 
L 473.1 79.65 
L 474.6 79.92 
L 477.6 81.10 
L 479.1 80.83 
L 480.6 81.01 
L 482.1 80.25 
L 483.6 79.86 
L 485.1 79.27 
L 486.6 79.69 
L 488.1 80.89 
L 489.6 80.60 
L 491.1 80.94 
L 494.1 80.58 
L 495.6 81.03 
L 498.6 79.84 
L 500.1 80.85 
L 501.6 80.35 
L 503.1 79.98 
L 506.1 80.84 
L 507.6 80.77 
L 509.1 81.20 
L 510.6 81.05 
L 512.1 80.61 
L 513.6 81.15 
L 515.1 81.39 
L 518.1 80.32 
L 519.6 80.15 
L 521.1 81.01 
L 521.1 81.01 
" clip-path="url(#p830c4c7120)" style="fill: none; stroke: #b8b8b8; stroke-width: 1.75; stroke-linecap: square"/>
   </g>
   <g id="line2d_18">
    <path d="M 71.1 299.72 
L 72.6 207.63 
L 74.1 181.23 
L 75.6 247.54 
L 77.1 161.59 
L 78.6 229.12 
L 80.1 170.80 
L 81.6 250.61 
L 83.1 176.93 
L 84.6 219.91 
L 86.1 198.42 
L 87.6 235.26 
L 89.1 216.84 
L 90.6 210.70 
L 92.1 189.85 
L 93.6 187.94 
L 95.1 179.34 
L 96.6 168.54 
L 98.1 172.86 
L 99.6 160.19 
L 101.1 159.39 
L 104.1 139.68 
L 105.6 164.27 
L 107.1 165.05 
L 108.6 141.92 
L 110.1 140.53 
L 113.1 169.41 
L 114.6 155.01 
L 117.6 133.62 
L 119.1 124.86 
L 120.6 131.70 
L 122.1 147.69 
L 123.6 120.64 
L 125.1 128.02 
L 126.6 138.67 
L 128.1 139.60 
L 129.6 129.18 
L 131.1 134.91 
L 132.6 139.83 
L 134.1 132.63 
L 135.6 113.66 
L 137.1 132.29 
L 138.6 129.38 
L 140.1 143.93 
L 141.6 145.24 
L 143.1 126.75 
L 144.6 123.32 
L 146.1 130.56 
L 147.6 104.95 
L 149.1 104.63 
L 150.6 125.49 
L 152.1 121.86 
L 153.6 126.37 
L 155.1 125.21 
L 156.6 101.92 
L 158.1 108.52 
L 159.6 127.80 
L 161.1 112.45 
L 162.6 105.85 
L 164.1 113.10 
L 165.6 108.30 
L 167.1 100.75 
L 168.6 115.62 
L 170.1 116.91 
L 171.6 91.75 
L 173.1 104.39 
L 174.6 99.01 
L 176.1 101.90 
L 177.6 124.27 
L 179.1 122.35 
L 180.6 95.93 
L 182.1 93.11 
L 183.6 98.98 
L 185.1 105.63 
L 186.6 105.68 
L 188.1 107.92 
L 189.6 106.72 
L 191.1 94.50 
L 192.6 88.07 
L 194.1 94.25 
L 195.6 91.07 
L 197.1 110.63 
L 198.6 106.12 
L 200.1 102.13 
L 201.6 82.09 
L 203.1 93.27 
L 204.6 90.53 
L 206.1 92.32 
L 207.6 104.32 
L 209.1 103.07 
L 210.6 96.29 
L 212.1 88.17 
L 213.6 91.87 
L 215.1 77.99 
L 216.6 86.09 
L 218.1 84.35 
L 219.6 80.63 
L 221.1 90.88 
L 222.6 96.01 
L 224.1 83.38 
L 225.6 77.26 
L 227.1 75.78 
L 228.6 74.98 
L 230.1 79.09 
L 231.6 97.62 
L 233.1 96.07 
L 234.6 94.73 
L 236.1 88.16 
L 237.6 73.98 
L 239.1 74.37 
L 240.6 88.33 
L 242.1 92.54 
L 243.6 81.57 
L 245.1 75.66 
L 246.6 79.59 
L 248.1 83.16 
L 249.6 77.41 
L 251.1 76.37 
L 252.6 80.58 
L 254.1 78.14 
L 255.6 87.03 
L 257.1 86.36 
L 258.6 78.74 
L 260.1 75.32 
L 261.6 73.27 
L 263.1 81.08 
L 264.6 81.89 
L 266.1 72.39 
L 267.6 67.92 
L 269.1 76.65 
L 270.6 73.52 
L 272.1 77.32 
L 273.6 83.11 
L 275.1 75.44 
L 276.6 84.76 
L 278.1 73.14 
L 279.6 67.06 
L 281.1 62.28 
L 282.6 75.39 
L 284.1 72.21 
L 285.6 73.13 
L 287.1 72.68 
L 288.6 71.65 
L 290.1 67.14 
L 291.6 71.51 
L 293.1 68.56 
L 294.6 70.08 
L 296.1 64.39 
L 297.6 67.68 
L 299.1 77.11 
L 300.6 77.22 
L 302.1 73.04 
L 303.6 70.82 
L 305.1 72.55 
L 306.6 67.64 
L 308.1 65.29 
L 309.6 69.74 
L 311.1 71.44 
L 312.6 71.84 
L 314.1 65.00 
L 315.6 61.37 
L 317.1 59.02 
L 318.6 65.37 
L 320.1 64.24 
L 321.6 67.90 
L 323.1 67.51 
L 324.6 68.77 
L 326.1 72.45 
L 327.6 70.81 
L 329.1 67.51 
L 330.6 67.43 
L 332.1 66.86 
L 333.6 65.94 
L 335.1 62.04 
L 336.6 63.42 
L 338.1 69.36 
L 339.6 65.53 
L 341.1 66.12 
L 342.6 67.68 
L 344.1 60.40 
L 345.6 57.00 
L 347.1 62.48 
L 348.6 64.50 
L 350.1 58.74 
L 351.6 50.41 
L 353.1 49.37 
L 354.6 53.74 
L 356.1 56.17 
L 357.6 57.59 
L 359.1 55.43 
L 360.6 56.46 
L 362.1 55.08 
L 363.6 52.64 
L 366.6 57.02 
L 369.6 51.35 
L 371.1 52.85 
L 372.6 55.78 
L 374.1 53.93 
L 375.6 53.84 
L 377.1 54.10 
L 378.6 56.66 
L 380.1 57.18 
L 381.6 54.66 
L 383.1 50.92 
L 384.6 52.41 
L 386.1 54.10 
L 389.1 48.47 
L 390.6 50.31 
L 392.1 49.74 
L 393.6 63.28 
L 395.1 70.83 
L 396.6 71.79 
L 398.1 73.61 
L 399.6 72.70 
L 401.1 72.02 
L 402.6 72.95 
L 404.1 73.35 
L 405.6 71.89 
L 407.1 67.07 
L 408.6 67.12 
L 410.1 67.03 
L 411.6 64.95 
L 413.1 64.08 
L 414.6 61.52 
L 416.1 62.05 
L 419.1 59.99 
L 420.6 57.10 
L 422.1 55.86 
L 423.6 54.79 
L 425.1 56.85 
L 426.6 56.52 
L 428.1 53.20 
L 429.6 53.47 
L 431.1 53.50 
L 432.6 54.87 
L 434.1 54.55 
L 435.6 52.81 
L 437.1 52.38 
L 438.6 52.55 
L 440.1 51.99 
L 441.6 49.78 
L 443.1 50.44 
L 444.6 50.63 
L 446.1 48.77 
L 447.6 50.13 
L 449.1 48.19 
L 450.6 47.66 
L 452.1 48.60 
L 453.6 48.10 
L 455.1 47.99 
L 456.6 46.97 
L 458.1 47.82 
L 459.6 46.55 
L 461.1 47.31 
L 462.6 48.34 
L 464.1 49.96 
L 465.6 50.62 
L 467.1 49.47 
L 468.6 49.24 
L 470.1 50.00 
L 471.6 48.69 
L 473.1 51.95 
L 474.6 52.50 
L 476.1 53.46 
L 477.6 55.67 
L 479.1 53.22 
L 480.6 53.35 
L 482.1 54.53 
L 483.6 54.08 
L 485.1 52.57 
L 486.6 51.96 
L 488.1 50.94 
L 489.6 50.77 
L 491.1 51.36 
L 492.6 49.94 
L 494.1 50.40 
L 495.6 50.09 
L 497.1 48.78 
L 498.6 48.44 
L 500.1 50.06 
L 501.6 47.58 
L 503.1 46.39 
L 504.6 48.82 
L 506.1 48.22 
L 509.1 47.77 
L 510.6 49.03 
L 512.1 50.11 
L 513.6 48.77 
L 515.1 49.23 
L 516.6 50.09 
L 518.1 52.85 
L 521.1 56.33 
L 521.1 56.33 
" clip-path="url(#p830c4c7120)" style="fill: none; stroke: #ff0000; stroke-width: 1.75; stroke-linecap: square"/>
   </g>
   <g id="patch_3">
    <path d="M 48.6 312.89 
L 48.6 23.17 
" style="fill: none; stroke: #000000; stroke-width: 0.8; stroke-linejoin: miter; stroke-linecap: square"/>
   </g>
   <g id="patch_4">
    <path d="M 543.6 312.89 
L 543.6 23.17 
" style="fill: none; stroke: #000000; stroke-width: 0.8; stroke-linejoin: miter; stroke-linecap: square"/>
   </g>
   <g id="patch_5">
    <path d="M 48.6 312.89 
L 543.6 312.89 
" style="fill: none; stroke: #000000; stroke-width: 0.8; stroke-linejoin: miter; stroke-linecap: square"/>
   </g>
   <g id="patch_6">
    <path d="M 48.6 23.17 
L 543.6 23.17 
" style="fill: none; stroke: #000000; stroke-width: 0.8; stroke-linejoin: miter; stroke-linecap: square"/>
   </g>
   <g id="text_15">
    <text style="font-size: 12px; font-family: 'DejaVu Sans'; text-anchor: middle" x="296.1" y="17.17" transform="rotate(-0 296.1 17.17)">Precision</text>
   </g>
   <g id="legend_1">
    <g id="patch_7">
     <path d="M 433.90 309.11 
L 536.6 309.11 
Q 538.6 309.11 538.6 307.11 
L 538.6 220.04 
Q 538.6 218.04 536.6 218.04 
L 433.90 218.04 
Q 431.90 218.04 431.90 220.04 
L 431.90 307.11 
Q 431.90 309.11 433.90 309.11 
z
" style="fill: #ffffff; opacity: 0.8; stroke: #cccccc; stroke-linejoin: miter"/>
    </g>
    <g id="line2d_19">
     <path d="M 435.90 226.14 
L 445.90 226.14 
L 455.90 226.14 
" style="fill: none; stroke: #10d0f0; stroke-width: 1.75; stroke-linecap: square"/>
    </g>
    <g id="text_16">
     <text style="font-size: 10px; font-family: 'DejaVu Sans'; text-anchor: start" x="463.90" y="229.64" transform="rotate(-0 463.90 229.64)">YOLOv5n</text>
    </g>
    <g id="line2d_20">
     <path d="M 435.90 240.81 
L 445.90 240.81 
L 455.90 240.81 
" style="fill: none; stroke: #30e880; stroke-width: 1.75; stroke-linecap: square"/>
    </g>
    <g id="text_17">
     <text style="font-size: 10px; font-family: 'DejaVu Sans'; text-anchor: start" x="463.90" y="244.31" transform="rotate(-0 463.90 244.31)">YOLOv8n</text>
    </g>
    <g id="line2d_21">
     <path d="M 435.90 255.49 
L 445.90 255.49 
L 455.90 255.49 
" style="fill: none; stroke: #f0b0f0; stroke-width: 1.75; stroke-linecap: square"/>
    </g>
    <g id="text_18">
     <text style="font-size: 10px; font-family: 'DejaVu Sans'; text-anchor: start" x="463.90" y="258.99" transform="rotate(-0 463.90 258.99)">YOLOv9t</text>
    </g>
    <g id="line2d_22">
     <path d="M 435.90 270.17 
L 445.90 270.17 
L 455.90 270.17 
" style="fill: none; stroke: #ffe600; stroke-width: 1.75; stroke-linecap: square"/>
    </g>
    <g id="text_19">
     <text style="font-size: 10px; font-family: 'DejaVu Sans'; text-anchor: start" x="463.90" y="273.67" transform="rotate(-0 463.90 273.67)">YOLOv10n</text>
    </g>
    <g id="line2d_23">
     <path d="M 435.90 284.85 
L 445.90 284.85 
L 455.90 284.85 
" style="fill: none; stroke: #b8b8b8; stroke-width: 1.75; stroke-linecap: square"/>
    </g>
    <g id="text_20">
     <text style="font-size: 10px; font-family: 'DejaVu Sans'; text-anchor: start" x="463.90" y="288.35" transform="rotate(-0 463.90 288.35)">YOLOv11n</text>
    </g>
    <g id="line2d_24">
     <path d="M 435.90 299.53 
L 445.90 299.53 
L 455.90 299.53 
" style="fill: none; stroke: #ff0000; stroke-width: 1.75; stroke-linecap: square"/>
    </g>
    <g id="text_21">
     <text style="font-size: 10px; font-family: 'DejaVu Sans'; text-anchor: start" x="463.90" y="303.03" transform="rotate(-0 463.90 303.03)">YOLOv11-EMC</text>
    </g>
   </g>
  </g>
  <g id="axes_2">
   <g id="patch_8">
    <path d="M 593 312.89 
L 1088.4 312.89 
L 1088.4 23.17 
L 593 23.17 
z
" style="fill: #ffffff"/>
   </g>
   <g id="matplotlib.axis_3">
    <g id="xtick_8">
     <g id="line2d_25">
      <g>
       <path d="M 615.52 312.90 L 615.52 316.40" style="stroke: #000000; stroke-width: 0.8"/>
      </g>
     </g>
     <g id="text_22">
      <text style="font-size: 10px; font-family: 'DejaVu Sans'; text-anchor: middle" x="615.51" y="327.49" transform="rotate(-0 615.51 327.49)">0</text>
     </g>
    </g>
    <g id="xtick_9">
     <g id="line2d_26">
      <g>
       <path d="M 690.58 312.90 L 690.58 316.40" style="stroke: #000000; stroke-width: 0.8"/>
      </g>
     </g>
     <g id="text_23">
      <text style="font-size: 10px; font-family: 'DejaVu Sans'; text-anchor: middle" x="690.57" y="327.49" transform="rotate(-0 690.57 327.49)">50</text>
     </g>
    </g>
    <g id="xtick_10">
     <g id="line2d_27">
      <g>
       <path d="M 765.64 312.90 L 765.64 316.40" style="stroke: #000000; stroke-width: 0.8"/>
      </g>
     </g>
     <g id="text_24">
      <text style="font-size: 10px; font-family: 'DejaVu Sans'; text-anchor: middle" x="765.63" y="327.49" transform="rotate(-0 765.63 327.49)">100</text>
     </g>
    </g>
    <g id="xtick_11">
     <g id="line2d_28">
      <g>
       <path d="M 840.70 312.90 L 840.70 316.40" style="stroke: #000000; stroke-width: 0.8"/>
      </g>
     </g>
     <g id="text_25">
      <text style="font-size: 10px; font-family: 'DejaVu Sans'; text-anchor: middle" x="840.7" y="327.49" transform="rotate(-0 840.7 327.49)">150</text>
     </g>
    </g>
    <g id="xtick_12">
     <g id="line2d_29">
      <g>
       <path d="M 915.76 312.90 L 915.76 316.40" style="stroke: #000000; stroke-width: 0.8"/>
      </g>
     </g>
     <g id="text_26">
      <text style="font-size: 10px; font-family: 'DejaVu Sans'; text-anchor: middle" x="915.76" y="327.49" transform="rotate(-0 915.76 327.49)">200</text>
     </g>
    </g>
    <g id="xtick_13">
     <g id="line2d_30">
      <g>
       <path d="M 990.82 312.90 L 990.82 316.40" style="stroke: #000000; stroke-width: 0.8"/>
      </g>
     </g>
     <g id="text_27">
      <text style="font-size: 10px; font-family: 'DejaVu Sans'; text-anchor: middle" x="990.82" y="327.49" transform="rotate(-0 990.82 327.49)">250</text>
     </g>
    </g>
    <g id="xtick_14">
     <g id="line2d_31">
      <g>
       <path d="M 1065.88 312.90 L 1065.88 316.40" style="stroke: #000000; stroke-width: 0.8"/>
      </g>
     </g>
     <g id="text_28">
      <text style="font-size: 10px; font-family: 'DejaVu Sans'; text-anchor: middle" x="1065.88" y="327.49" transform="rotate(-0 1065.88 327.49)">300</text>
     </g>
    </g>
    <g id="text_29">
     <text style="font-size: 10px; font-family: 'DejaVu Sans'; text-anchor: middle" x="840.7" y="341.17" transform="rotate(-0 840.7 341.17)">Epochs</text>
    </g>
   </g>
   <g id="matplotlib.axis_4">
    <g id="ytick_6">
     <g id="line2d_32">
      <g>
       <path d="M 593.00 299.73 L 589.50 299.73" style="stroke: #000000; stroke-width: 0.8"/>
      </g>
     </g>
     <g id="text_30">
      <text style="font-size: 10px; font-family: 'DejaVu Sans'; text-anchor: end" x="586" y="303.52" transform="rotate(-0 586 303.52)">0.0</text>
     </g>
    </g>
    <g id="ytick_7">
     <g id="line2d_33">
      <g>
       <path d="M 593.00 257.04 L 589.50 257.04" style="stroke: #000000; stroke-width: 0.8"/>
      </g>
     </g>
     <g id="text_31">
      <text style="font-size: 10px; font-family: 'DejaVu Sans'; text-anchor: end" x="586" y="260.83" transform="rotate(-0 586 260.83)">0.1</text>
     </g>
    </g>
    <g id="ytick_8">
     <g id="line2d_34">
      <g>
       <path d="M 593.00 214.35 L 589.50 214.35" style="stroke: #000000; stroke-width: 0.8"/>
      </g>
     </g>
     <g id="text_32">
      <text style="font-size: 10px; font-family: 'DejaVu Sans'; text-anchor: end" x="586" y="218.15" transform="rotate(-0 586 218.15)">0.2</text>
     </g>
    </g>
    <g id="ytick_9">
     <g id="line2d_35">
      <g>
       <path d="M 593.00 171.67 L 589.50 171.67" style="stroke: #000000; stroke-width: 0.8"/>
      </g>
     </g>
     <g id="text_33">
      <text style="font-size: 10px; font-family: 'DejaVu Sans'; text-anchor: end" x="586" y="175.46" transform="rotate(-0 586 175.46)">0.3</text>
     </g>
    </g>
    <g id="ytick_10">
     <g id="line2d_36">
      <g>
       <path d="M 593.00 128.98 L 589.50 128.98" style="stroke: #000000; stroke-width: 0.8"/>
      </g>
     </g>
     <g id="text_34">
      <text style="font-size: 10px; font-family: 'DejaVu Sans'; text-anchor: end" x="586" y="132.77" transform="rotate(-0 586 132.77)">0.4</text>
     </g>
    </g>
    <g id="ytick_11">
     <g id="line2d_37">
      <g>
       <path d="M 593.00 86.29 L 589.50 86.29" style="stroke: #000000; stroke-width: 0.8"/>
      </g>
     </g>
     <g id="text_35">
      <text style="font-size: 10px; font-family: 'DejaVu Sans'; text-anchor: end" x="586" y="90.09" transform="rotate(-0 586 90.09)">0.5</text>
     </g>
    </g>
    <g id="ytick_12">
     <g id="line2d_38">
      <g>
       <path d="M 593.00 43.60 L 589.50 43.60" style="stroke: #000000; stroke-width: 0.8"/>
      </g>
     </g>
     <g id="text_36">
      <text style="font-size: 10px; font-family: 'DejaVu Sans'; text-anchor: end" x="586" y="47.40" transform="rotate(-0 586 47.40)">0.6</text>
     </g>
    </g>
    <g id="text_37">
     <text style="font-size: 10px; font-family: 'DejaVu Sans'; text-anchor: middle" x="564.01" y="168.03" transform="rotate(-90 564.01 168.03)">Recall</text>
    </g>
   </g>
   <g id="line2d_39">
    <path d="M 615.51 222.89 
L 617.01 167.39 
L 618.52 183.75 
L 620.02 175.93 
L 621.52 171.18 
L 623.02 159.96 
L 624.52 147.74 
L 626.02 140.69 
L 627.52 136.40 
L 629.02 148.91 
L 630.53 144.47 
L 632.03 143.52 
L 633.53 134.36 
L 635.03 122.74 
L 636.53 119.54 
L 638.03 134.91 
L 639.53 147.88 
L 641.03 129.94 
L 642.54 117.49 
L 644.04 131.84 
L 645.54 129.87 
L 647.04 122.52 
L 648.54 110.57 
L 650.04 115.27 
L 651.54 128.70 
L 653.04 117.65 
L 656.05 123.52 
L 657.55 110.23 
L 659.05 114.00 
L 660.55 118.96 
L 662.05 118.67 
L 663.55 118.90 
L 665.05 109.21 
L 666.55 109.54 
L 668.06 96.73 
L 669.56 102.66 
L 671.06 108.10 
L 672.56 111.11 
L 675.56 103.67 
L 677.06 102.52 
L 678.56 110.22 
L 680.07 96.91 
L 681.57 95.12 
L 683.07 94.71 
L 684.57 98.84 
L 686.07 100.82 
L 687.57 95.85 
L 689.07 90.25 
L 690.57 88.01 
L 692.08 94.41 
L 693.58 97.29 
L 695.08 100.51 
L 696.58 98.93 
L 698.08 88.99 
L 699.58 90.45 
L 701.08 84.54 
L 702.58 74.81 
L 704.08 89.76 
L 705.59 85.52 
L 707.09 86.65 
L 708.59 90.05 
L 710.09 90.80 
L 711.59 83.92 
L 713.09 80.38 
L 714.59 74.98 
L 716.09 75.14 
L 717.60 78.53 
L 719.10 75.95 
L 720.60 83.59 
L 722.10 82.47 
L 723.60 82.27 
L 725.10 79.62 
L 726.60 72.71 
L 728.10 67.87 
L 729.61 76.02 
L 731.11 79.33 
L 732.61 72.50 
L 734.11 73.43 
L 735.61 71.13 
L 737.11 75.77 
L 738.61 72.22 
L 740.11 66.61 
L 741.62 63.14 
L 743.12 67.93 
L 744.62 67.84 
L 746.12 67.60 
L 747.62 66.11 
L 749.12 61.10 
L 750.62 74.81 
L 752.12 74.66 
L 753.62 70.01 
L 756.63 56.57 
L 758.13 62.70 
L 759.63 57.34 
L 761.13 60.99 
L 762.63 58.68 
L 764.13 65.45 
L 765.63 71.04 
L 767.14 61.26 
L 768.64 57.58 
L 770.14 63.81 
L 771.64 62.21 
L 773.14 59.43 
L 774.64 69.20 
L 777.64 57.81 
L 779.15 61.87 
L 780.65 58.64 
L 782.15 54.15 
L 783.65 60.43 
L 785.15 63.54 
L 786.65 59.27 
L 788.15 57.68 
L 789.65 54.07 
L 791.16 53.55 
L 792.66 52.38 
L 794.16 53.31 
L 795.66 58.32 
L 797.16 64.50 
L 798.66 60.59 
L 801.66 49.97 
L 803.16 52.29 
L 804.67 51.15 
L 806.17 52.70 
L 807.67 57.04 
L 809.17 62.13 
L 810.67 54.78 
L 812.17 56.11 
L 813.67 54.15 
L 815.17 53.66 
L 816.68 54.94 
L 818.18 49.12 
L 819.68 48.97 
L 821.18 45.98 
L 822.68 43.66 
L 824.18 53.81 
L 825.68 52.13 
L 827.18 53.08 
L 828.69 50.26 
L 830.19 45.52 
L 831.69 46.72 
L 833.19 50.90 
L 834.69 57.34 
L 836.19 53.79 
L 837.69 49.67 
L 839.19 47.68 
L 840.7 41.95 
L 842.20 40.79 
L 843.70 50.64 
L 845.20 56.60 
L 846.70 57.00 
L 848.20 46.61 
L 849.70 43.03 
L 851.20 45.07 
L 852.70 44.80 
L 854.21 53.35 
L 855.71 49.98 
L 857.21 49.89 
L 858.71 51.75 
L 860.21 51.69 
L 861.71 47.43 
L 863.21 47.39 
L 864.71 46.70 
L 866.22 48.46 
L 867.72 49.12 
L 869.22 51.24 
L 870.72 52.89 
L 872.22 49.86 
L 873.72 49.89 
L 875.22 50.95 
L 876.72 51.09 
L 879.73 50.59 
L 881.23 51.43 
L 882.73 52.95 
L 884.23 55.03 
L 887.23 51.05 
L 888.73 51.88 
L 890.24 51.13 
L 891.74 48.24 
L 893.24 51.21 
L 894.74 51.23 
L 896.24 50.87 
L 897.74 54.14 
L 899.24 52.95 
L 900.74 48.86 
L 902.24 51.50 
L 903.75 52.98 
L 905.25 51.04 
L 906.75 53.74 
L 908.25 52.94 
L 909.75 51.79 
L 911.25 48.74 
L 912.75 51.43 
L 914.25 53.77 
L 915.76 52.16 
L 917.26 52.39 
L 918.76 52.19 
L 920.26 52.44 
L 921.76 53.29 
L 923.26 52.07 
L 924.76 53.25 
L 926.26 52.43 
L 927.77 51.25 
L 929.27 50.52 
L 930.77 51.76 
L 932.27 49.95 
L 933.77 50.11 
L 935.27 51.08 
L 936.77 50.66 
L 938.27 51.44 
L 939.78 49.71 
L 941.28 49.66 
L 942.78 51.94 
L 944.28 50.28 
L 945.78 49.97 
L 947.28 52.38 
L 948.78 50.94 
L 950.28 49.95 
L 951.78 48.17 
L 953.29 45.87 
L 954.79 47.24 
L 956.29 50.94 
L 957.79 51.43 
L 959.29 50.62 
L 960.79 49.03 
L 962.29 48.50 
L 963.79 49.54 
L 966.80 47.68 
L 968.30 45.60 
L 969.80 46.32 
L 971.30 47.93 
L 972.80 47.33 
L 974.30 48.84 
L 977.31 46.70 
L 978.81 46.35 
L 980.31 47.53 
L 981.81 47.46 
L 983.31 46.80 
L 984.81 45.49 
L 986.31 44.50 
L 987.81 46.29 
L 989.32 46.47 
L 990.82 45.04 
L 992.32 45.08 
L 993.82 45.83 
L 995.32 45.39 
L 996.82 44.21 
L 998.32 45.16 
L 999.82 45.09 
L 1001.32 46.62 
L 1002.83 46.52 
L 1004.33 44.69 
L 1005.83 44.83 
L 1007.33 44.80 
L 1008.83 44.31 
L 1010.33 44.22 
L 1011.83 42.77 
L 1013.33 41.57 
L 1014.84 43.67 
L 1017.84 45.32 
L 1019.34 43.38 
L 1020.84 44.77 
L 1022.34 45.20 
L 1023.84 46.29 
L 1025.34 45.22 
L 1026.85 44.60 
L 1028.35 43.63 
L 1029.85 42.43 
L 1031.35 42.91 
L 1032.85 44.00 
L 1034.35 44.43 
L 1035.85 43.29 
L 1037.35 44.60 
L 1040.36 44.57 
L 1041.86 45.80 
L 1043.36 45.56 
L 1044.86 44.99 
L 1049.36 42.98 
L 1050.86 42.88 
L 1052.37 43.79 
L 1053.87 44.25 
L 1055.37 44.47 
L 1056.87 44.25 
L 1058.37 43.73 
L 1059.87 42.94 
L 1061.37 43.57 
L 1062.87 44.41 
L 1064.38 43.14 
L 1065.88 44.29 
L 1065.88 44.29 
" clip-path="url(#p3be8a313bc)" style="fill: none; stroke: #10d0f0; stroke-width: 1.75; stroke-linecap: square"/>
   </g>
   <g id="line2d_40">
    <path d="M 615.51 248.50 
L 617.01 222.70 
L 618.52 214.35 
L 621.52 189.46 
L 623.02 189.63 
L 624.52 174.11 
L 626.02 189.44 
L 627.52 183.32 
L 629.02 167.55 
L 630.53 162.93 
L 632.03 166.33 
L 633.53 164.20 
L 635.03 156.25 
L 636.53 161.23 
L 638.03 156.94 
L 639.53 150.26 
L 641.03 153.83 
L 642.54 155.61 
L 644.04 147.34 
L 645.54 135.86 
L 647.04 146.62 
L 648.54 141.81 
L 650.04 155.39 
L 651.54 150.33 
L 653.04 139.43 
L 654.54 131.70 
L 656.05 131.43 
L 657.55 136.77 
L 659.05 140.08 
L 660.55 138.96 
L 662.05 126.46 
L 663.55 126.69 
L 665.05 129.41 
L 666.55 131.31 
L 668.06 113.08 
L 669.56 113.56 
L 671.06 116.72 
L 672.56 118.67 
L 674.06 122.91 
L 675.56 114.98 
L 677.06 112.09 
L 678.56 119.80 
L 680.07 123.59 
L 681.57 123.93 
L 683.07 113.57 
L 684.57 109.72 
L 686.07 104.86 
L 687.57 98.49 
L 689.07 101.92 
L 690.57 105.67 
L 692.08 97.51 
L 693.58 97.73 
L 695.08 99.90 
L 696.58 109.01 
L 698.08 99.22 
L 699.58 94.99 
L 701.08 96.21 
L 702.58 100.19 
L 704.08 105.51 
L 705.59 102.93 
L 707.09 103.73 
L 708.59 96.61 
L 710.09 88.28 
L 711.59 85.09 
L 713.09 90.58 
L 714.59 92.87 
L 716.09 89.59 
L 717.60 85.86 
L 719.10 85.42 
L 720.60 88.49 
L 722.10 90.08 
L 723.60 85.19 
L 725.10 89.17 
L 726.60 85.94 
L 728.10 88.86 
L 729.61 87.21 
L 731.11 84.96 
L 734.11 81.87 
L 735.61 79.72 
L 737.11 81.03 
L 738.61 81.80 
L 740.11 78.94 
L 741.62 74.85 
L 743.12 79.10 
L 744.62 84.00 
L 746.12 84.35 
L 747.62 80.17 
L 749.12 78.41 
L 750.62 78.27 
L 752.12 75.35 
L 753.62 68.49 
L 755.13 70.18 
L 756.63 72.51 
L 758.13 75.10 
L 759.63 70.77 
L 761.13 70.44 
L 762.63 71.36 
L 764.13 70.00 
L 765.63 74.90 
L 767.14 68.25 
L 770.14 74.43 
L 771.64 72.93 
L 773.14 68.59 
L 774.64 67.10 
L 776.14 64.80 
L 777.64 64.60 
L 779.15 69.11 
L 780.65 70.49 
L 782.15 69.04 
L 783.65 70.87 
L 785.15 66.69 
L 786.65 59.77 
L 788.15 57.02 
L 789.65 67.57 
L 791.16 66.37 
L 792.66 67.95 
L 794.16 68.25 
L 795.66 65.25 
L 797.16 63.66 
L 798.66 66.76 
L 800.16 60.40 
L 801.66 63.06 
L 803.16 67.05 
L 804.67 60.13 
L 806.17 62.99 
L 807.67 66.91 
L 809.17 64.89 
L 810.67 63.81 
L 812.17 62.55 
L 813.67 54.82 
L 815.17 62.51 
L 816.68 64.86 
L 818.18 60.16 
L 819.68 60.99 
L 821.18 64.77 
L 822.68 64.16 
L 824.18 60.27 
L 825.68 60.70 
L 827.18 54.67 
L 828.69 59.70 
L 830.19 58.19 
L 831.69 56.24 
L 833.19 53.32 
L 834.69 60.82 
L 836.19 62.11 
L 837.69 56.81 
L 839.19 60.67 
L 840.7 62.26 
L 842.20 59.94 
L 843.70 55.37 
L 845.20 61.83 
L 846.70 65.91 
L 848.20 56.13 
L 849.70 54.41 
L 852.70 60.75 
L 854.21 57.65 
L 855.71 62.41 
L 857.21 53.59 
L 860.21 56.39 
L 861.71 53.57 
L 863.21 51.57 
L 864.71 55.28 
L 867.72 57.54 
L 870.72 50.69 
L 872.22 45.05 
L 873.72 51.63 
L 875.22 52.55 
L 878.23 51.09 
L 879.73 51.44 
L 881.23 51.65 
L 882.73 53.78 
L 884.23 53.12 
L 885.73 47.74 
L 887.23 43.07 
L 888.73 44.22 
L 890.24 43.07 
L 891.74 45.43 
L 893.24 45.72 
L 894.74 42.23 
L 896.24 41.00 
L 897.74 43.64 
L 899.24 45.15 
L 900.74 43.14 
L 902.24 43.33 
L 903.75 42.53 
L 905.25 42.12 
L 906.75 44.04 
L 908.25 44.48 
L 909.75 40.80 
L 911.25 38.80 
L 912.75 39.21 
L 914.25 42.37 
L 915.76 43.37 
L 917.26 44.68 
L 918.76 45.48 
L 920.26 46.43 
L 921.76 45.74 
L 923.26 43.12 
L 924.76 45.07 
L 926.26 46.68 
L 927.77 46.08 
L 929.27 46.29 
L 930.77 48.06 
L 932.27 47.02 
L 933.77 47.42 
L 935.27 44.82 
L 936.77 43.57 
L 938.27 45.99 
L 939.78 45.43 
L 941.28 45.70 
L 942.78 44.85 
L 944.28 46.10 
L 945.78 48.22 
L 947.28 46.24 
L 948.78 47.41 
L 950.28 49.11 
L 951.78 47.18 
L 953.29 47.46 
L 954.79 46.30 
L 956.29 46.96 
L 957.79 46.29 
L 959.29 46.78 
L 960.79 47.04 
L 962.29 46.50 
L 963.79 48.88 
L 965.30 51.56 
L 966.80 49.23 
L 968.30 47.83 
L 969.80 47.06 
L 971.30 49.04 
L 972.80 47.77 
L 974.30 47.21 
L 975.80 48.17 
L 977.31 50.98 
L 978.81 49.87 
L 980.31 50.01 
L 981.81 47.73 
L 983.31 46.27 
L 984.81 47.79 
L 986.31 50.39 
L 987.81 50.13 
L 989.32 48.39 
L 990.82 48.62 
L 992.32 49.90 
L 993.82 47.89 
L 995.32 49.03 
L 996.82 50.76 
L 998.32 49.38 
L 999.82 50.59 
L 1001.32 48.30 
L 1002.83 49.71 
L 1004.33 50.14 
L 1005.83 52.61 
L 1007.33 49.40 
L 1008.83 48.87 
L 1010.33 46.95 
L 1011.83 48.20 
L 1014.84 51.23 
L 1016.34 51.28 
L 1017.84 50.44 
L 1019.34 48.96 
L 1020.84 49.69 
L 1022.34 48.10 
L 1023.84 48.63 
L 1025.34 49.68 
L 1026.85 48.20 
L 1028.35 49.79 
L 1029.85 49.77 
L 1031.35 50.92 
L 1032.85 49.67 
L 1034.35 49.02 
L 1035.85 49.62 
L 1037.35 49.49 
L 1038.86 50.49 
L 1040.36 49.64 
L 1041.86 49.05 
L 1043.36 48.88 
L 1044.86 48.91 
L 1046.36 49.57 
L 1047.86 48.43 
L 1049.36 50.60 
L 1050.86 51.62 
L 1052.37 50.15 
L 1053.87 49.42 
L 1055.37 47.99 
L 1056.87 48.46 
L 1058.37 50.21 
L 1059.87 50.60 
L 1061.37 48.87 
L 1062.87 48.88 
L 1064.38 50.08 
L 1065.88 49.83 
L 1065.88 49.83 
" clip-path="url(#p3be8a313bc)" style="fill: none; stroke: #30e880; stroke-width: 1.75; stroke-linecap: square"/>
   </g>
   <g id="line2d_41">
    <path d="M 615.51 235.69 
L 617.01 219.13 
L 618.52 214.35 
L 620.02 206.90 
L 621.52 203.02 
L 623.02 181.45 
L 624.52 179.66 
L 626.02 187.47 
L 627.52 186.26 
L 629.02 179.03 
L 630.53 166.69 
L 632.03 175.82 
L 633.53 181.26 
L 635.03 167.67 
L 636.53 162.06 
L 638.03 178.84 
L 639.53 173.85 
L 641.03 160.04 
L 642.54 151.47 
L 644.04 154.19 
L 645.54 156.60 
L 647.04 154.32 
L 648.54 150.23 
L 650.04 144.99 
L 653.04 154.61 
L 654.54 152.65 
L 656.05 149.81 
L 657.55 144.06 
L 659.05 139.41 
L 660.55 133.41 
L 662.05 128.28 
L 663.55 134.67 
L 665.05 128.55 
L 666.55 135.83 
L 668.06 131.86 
L 669.56 137.14 
L 671.06 128.46 
L 672.56 128.52 
L 674.06 122.55 
L 675.56 122.56 
L 677.06 120.86 
L 678.56 113.77 
L 680.07 117.80 
L 681.57 120.34 
L 683.07 114.83 
L 684.57 118.16 
L 686.07 115.62 
L 687.57 110.26 
L 689.07 109.23 
L 690.57 113.70 
L 692.08 109.76 
L 693.58 101.46 
L 695.08 104.94 
L 696.58 105.76 
L 698.08 105.31 
L 699.58 100.45 
L 701.08 98.20 
L 702.58 99.48 
L 704.08 102.12 
L 705.59 102.33 
L 707.09 101.94 
L 708.59 100.39 
L 710.09 95.53 
L 711.59 93.85 
L 713.09 93.63 
L 714.59 93.23 
L 716.09 90.81 
L 717.60 93.08 
L 719.10 107.04 
L 720.60 104.60 
L 722.10 93.61 
L 723.60 86.96 
L 725.10 88.61 
L 726.60 93.09 
L 728.10 94.21 
L 729.61 90.90 
L 731.11 86.29 
L 732.61 88.83 
L 734.11 92.26 
L 735.61 91.42 
L 737.11 86.31 
L 740.11 85.21 
L 741.62 89.13 
L 743.12 87.88 
L 744.62 84.02 
L 746.12 86.43 
L 747.62 89.94 
L 749.12 88.74 
L 750.62 84.12 
L 752.12 81.57 
L 753.62 80.11 
L 755.13 78.40 
L 756.63 82.25 
L 758.13 82.94 
L 759.63 78.23 
L 761.13 81.91 
L 762.63 77.86 
L 764.13 79.71 
L 765.63 83.60 
L 767.14 77.58 
L 768.64 75.28 
L 770.14 76.27 
L 771.64 75.21 
L 773.14 78.15 
L 774.64 77.51 
L 776.14 75.00 
L 777.64 76.23 
L 779.15 77.21 
L 780.65 76.38 
L 782.15 72.23 
L 783.65 72.59 
L 785.15 81.14 
L 786.65 85.41 
L 788.15 77.30 
L 789.65 73.35 
L 791.16 69.06 
L 792.66 70.38 
L 794.16 66.98 
L 795.66 67.14 
L 797.16 72.52 
L 798.66 70.44 
L 800.16 72.86 
L 801.66 72.56 
L 803.16 72.99 
L 804.67 70.40 
L 806.17 73.11 
L 807.67 76.91 
L 809.17 69.32 
L 810.67 69.93 
L 812.17 71.80 
L 813.67 75.25 
L 815.17 74.12 
L 816.68 71.45 
L 818.18 67.24 
L 819.68 65.70 
L 821.18 64.82 
L 822.68 60.33 
L 824.18 68.80 
L 825.68 75.72 
L 827.18 68.88 
L 830.19 71.47 
L 831.69 68.60 
L 833.19 73.10 
L 834.69 70.09 
L 836.19 67.37 
L 837.69 65.97 
L 839.19 65.13 
L 840.7 66.70 
L 842.20 65.10 
L 843.70 74.01 
L 845.20 74.89 
L 846.70 70.49 
L 848.20 68.60 
L 849.70 67.18 
L 851.20 64.30 
L 852.70 65.96 
L 854.21 63.42 
L 855.71 69.81 
L 857.21 72.36 
L 858.71 64.22 
L 860.21 62.77 
L 861.71 69.16 
L 863.21 70.26 
L 864.71 67.77 
L 866.22 66.95 
L 867.72 65.02 
L 869.22 61.96 
L 870.72 64.53 
L 872.22 60.39 
L 875.22 64.38 
L 876.72 62.90 
L 878.23 64.71 
L 881.23 67.46 
L 882.73 68.10 
L 884.23 66.56 
L 885.73 64.14 
L 887.23 61.22 
L 888.73 60.30 
L 890.24 64.35 
L 891.74 66.87 
L 893.24 63.97 
L 894.74 63.59 
L 896.24 61.77 
L 897.74 58.58 
L 899.24 57.26 
L 900.74 59.41 
L 902.24 58.78 
L 903.75 60.71 
L 905.25 64.94 
L 906.75 62.16 
L 908.25 62.69 
L 909.75 61.81 
L 911.25 56.70 
L 912.75 58.75 
L 914.25 60.34 
L 915.76 59.48 
L 917.26 58.83 
L 918.76 57.64 
L 920.26 57.09 
L 921.76 59.49 
L 923.26 59.15 
L 924.76 60.26 
L 926.26 61.08 
L 927.77 59.68 
L 929.27 55.78 
L 930.77 57.94 
L 932.27 55.97 
L 933.77 58.76 
L 935.27 60.12 
L 936.77 57.88 
L 938.27 54.44 
L 939.78 54.25 
L 941.28 57.37 
L 942.78 58.27 
L 944.28 56.24 
L 945.78 58.06 
L 947.28 56.91 
L 948.78 56.77 
L 950.28 57.34 
L 951.78 55.51 
L 953.29 56.54 
L 954.79 55.45 
L 956.29 53.12 
L 957.79 56.05 
L 959.29 54.54 
L 960.79 55.06 
L 962.29 55.88 
L 963.79 57.12 
L 965.30 56.53 
L 966.80 54.74 
L 968.30 55.89 
L 969.80 56.53 
L 971.30 52.74 
L 972.80 52.80 
L 974.30 53.77 
L 975.80 54.27 
L 977.31 54.11 
L 978.81 53.60 
L 980.31 51.46 
L 981.81 51.53 
L 983.31 54.50 
L 984.81 53.91 
L 986.31 54.66 
L 987.81 51.96 
L 989.32 48.04 
L 990.82 50.01 
L 992.32 50.13 
L 993.82 50.48 
L 995.32 52.40 
L 996.82 52.51 
L 998.32 50.82 
L 999.82 50.96 
L 1001.32 50.08 
L 1002.83 49.61 
L 1004.33 47.29 
L 1005.83 47.06 
L 1007.33 49.94 
L 1008.83 51.63 
L 1011.83 52.25 
L 1014.84 51.39 
L 1016.34 50.26 
L 1017.84 49.90 
L 1020.84 47.23 
L 1022.34 48.58 
L 1023.84 49.42 
L 1025.34 49.96 
L 1026.85 51.56 
L 1028.35 51.00 
L 1029.85 49.33 
L 1031.35 51.11 
L 1032.85 50.24 
L 1034.35 50.30 
L 1035.85 48.44 
L 1038.86 49.78 
L 1040.36 49.43 
L 1041.86 48.95 
L 1043.36 50.96 
L 1044.86 51.50 
L 1046.36 50.69 
L 1047.86 50.59 
L 1049.36 49.78 
L 1050.86 50.74 
L 1052.37 50.34 
L 1053.87 51.43 
L 1055.37 50.59 
L 1056.87 50.88 
L 1058.37 52.11 
L 1059.87 49.66 
L 1061.37 50.07 
L 1062.87 49.12 
L 1064.38 49.81 
L 1065.88 51.25 
L 1065.88 51.25 
" clip-path="url(#p3be8a313bc)" style="fill: none; stroke: #f0b0f0; stroke-width: 1.75; stroke-linecap: square"/>
   </g>
   <g id="line2d_42">
    <path d="M 615.51 286.92 
L 617.01 271.39 
L 618.52 258.66 
L 620.02 262.45 
L 621.52 268.38 
L 623.02 251.76 
L 624.52 242.00 
L 626.02 229.51 
L 627.52 228.28 
L 629.02 218.83 
L 630.53 207.70 
L 632.03 212.53 
L 633.53 202.88 
L 635.03 200.71 
L 636.53 190.76 
L 638.03 179.46 
L 639.53 183.21 
L 641.03 178.19 
L 642.54 174.30 
L 644.04 175.01 
L 645.54 184.89 
L 647.04 186.17 
L 648.54 169.05 
L 650.04 166.52 
L 651.54 172.63 
L 653.04 177.75 
L 654.54 161.91 
L 656.05 161.07 
L 657.55 163.23 
L 659.05 146.97 
L 660.55 150.62 
L 662.05 164.66 
L 663.55 160.10 
L 665.05 142.80 
L 666.55 140.05 
L 668.06 144.06 
L 669.56 144.48 
L 671.06 143.03 
L 672.56 145.42 
L 674.06 151.22 
L 675.56 153.93 
L 677.06 139.73 
L 680.07 143.37 
L 681.57 135.20 
L 683.07 133.58 
L 684.57 119.64 
L 686.07 129.28 
L 687.57 118.82 
L 689.07 120.62 
L 690.57 127.45 
L 692.08 127.61 
L 693.58 127.98 
L 695.08 123.32 
L 696.58 129.68 
L 698.08 121.09 
L 699.58 125.25 
L 701.08 118.76 
L 702.58 109.18 
L 704.08 107.69 
L 705.59 121.66 
L 707.09 118.54 
L 708.59 120.70 
L 710.09 125.47 
L 713.09 125.78 
L 716.09 115.05 
L 717.60 102.03 
L 719.10 91.67 
L 720.60 103.40 
L 722.10 102.38 
L 723.60 111.23 
L 725.10 102.22 
L 726.60 109.97 
L 728.10 104.67 
L 729.61 110.03 
L 731.11 103.70 
L 732.61 100.31 
L 734.11 103.90 
L 735.61 94.53 
L 737.11 87.00 
L 738.61 89.20 
L 740.11 88.73 
L 741.62 89.10 
L 743.12 96.77 
L 744.62 97.97 
L 746.12 103.78 
L 747.62 105.20 
L 749.12 99.50 
L 750.62 94.56 
L 752.12 84.87 
L 753.62 84.50 
L 755.13 88.24 
L 756.63 93.87 
L 758.13 95.63 
L 759.63 95.30 
L 761.13 84.28 
L 762.63 88.56 
L 764.13 91.49 
L 765.63 84.61 
L 767.14 82.04 
L 770.14 88.43 
L 771.64 81.65 
L 773.14 85.45 
L 774.64 88.22 
L 776.14 79.47 
L 777.64 87.76 
L 779.15 84.19 
L 780.65 71.66 
L 782.15 80.71 
L 783.65 84.66 
L 785.15 80.73 
L 786.65 85.46 
L 788.15 82.83 
L 789.65 77.21 
L 791.16 68.06 
L 792.66 66.90 
L 794.16 73.02 
L 795.66 74.71 
L 797.16 76.96 
L 798.66 83.52 
L 800.16 88.30 
L 801.66 74.23 
L 803.16 70.72 
L 804.67 83.47 
L 806.17 80.23 
L 807.67 72.56 
L 809.17 69.41 
L 810.67 72.90 
L 812.17 74.28 
L 813.67 71.14 
L 815.17 69.95 
L 816.68 76.00 
L 818.18 72.95 
L 819.68 65.45 
L 821.18 68.24 
L 822.68 74.54 
L 824.18 82.62 
L 825.68 78.16 
L 827.18 67.61 
L 828.69 72.00 
L 830.19 65.24 
L 831.69 65.88 
L 833.19 69.38 
L 834.69 80.76 
L 836.19 82.01 
L 837.69 84.90 
L 839.19 74.97 
L 840.7 73.20 
L 842.20 73.73 
L 843.70 78.67 
L 845.20 76.19 
L 846.70 68.31 
L 848.20 67.84 
L 849.70 59.22 
L 851.20 63.59 
L 852.70 61.91 
L 854.21 64.21 
L 855.71 63.17 
L 857.21 75.17 
L 858.71 73.77 
L 860.21 66.54 
L 861.71 62.84 
L 863.21 60.27 
L 864.71 62.00 
L 866.22 63.28 
L 867.72 65.27 
L 869.22 62.33 
L 870.72 57.25 
L 872.22 58.17 
L 873.72 60.63 
L 875.22 64.12 
L 876.72 61.96 
L 878.23 62.32 
L 879.73 56.96 
L 881.23 50.32 
L 884.23 68.70 
L 885.73 73.88 
L 887.23 66.43 
L 888.73 59.88 
L 890.24 54.52 
L 891.74 56.28 
L 893.24 59.07 
L 894.74 58.45 
L 896.24 50.87 
L 897.74 53.99 
L 899.24 53.10 
L 902.24 62.18 
L 903.75 53.37 
L 905.25 51.42 
L 906.75 58.60 
L 908.25 63.50 
L 909.75 66.56 
L 911.25 57.50 
L 914.25 49.55 
L 915.76 58.87 
L 917.26 55.21 
L 918.76 53.82 
L 920.26 56.72 
L 921.76 54.97 
L 923.26 53.87 
L 924.76 61.24 
L 926.26 58.36 
L 927.77 55.09 
L 929.27 58.63 
L 930.77 54.33 
L 932.27 49.33 
L 933.77 51.94 
L 935.27 52.96 
L 936.77 58.25 
L 938.27 62.72 
L 939.78 58.42 
L 941.28 55.31 
L 942.78 55.01 
L 944.28 53.24 
L 945.78 56.09 
L 947.28 54.46 
L 948.78 54.08 
L 950.28 54.38 
L 951.78 56.79 
L 953.29 53.72 
L 954.79 54.90 
L 956.29 54.68 
L 957.79 43.27 
L 959.29 46.03 
L 960.79 52.60 
L 962.29 57.33 
L 963.79 60.70 
L 965.30 56.74 
L 966.80 53.50 
L 968.30 55.41 
L 969.80 54.49 
L 971.30 52.33 
L 972.80 52.95 
L 974.30 52.27 
L 975.80 56.23 
L 977.31 53.60 
L 978.81 56.29 
L 980.31 54.06 
L 981.81 52.27 
L 983.31 56.21 
L 984.81 54.86 
L 986.31 52.94 
L 987.81 54.75 
L 989.32 51.46 
L 990.82 51.26 
L 992.32 55.93 
L 993.82 51.01 
L 995.32 49.85 
L 996.82 53.79 
L 998.32 48.73 
L 999.82 50.46 
L 1001.32 51.58 
L 1002.83 53.09 
L 1004.33 55.16 
L 1005.83 55.14 
L 1007.33 52.94 
L 1008.83 48.79 
L 1010.33 51.65 
L 1011.83 52.86 
L 1013.33 53.06 
L 1014.84 51.36 
L 1016.34 52.22 
L 1017.84 52.26 
L 1019.34 51.83 
L 1020.84 52.07 
L 1022.34 51.56 
L 1023.84 52.03 
L 1025.34 53.07 
L 1026.85 51.13 
L 1028.35 49.74 
L 1029.85 49.86 
L 1031.35 51.56 
L 1032.85 52.65 
L 1034.35 50.84 
L 1035.85 50.95 
L 1037.35 52.14 
L 1038.86 50.06 
L 1040.36 48.73 
L 1041.86 51.04 
L 1044.86 50.55 
L 1046.36 49.91 
L 1047.86 50.01 
L 1049.36 51.27 
L 1050.86 52.91 
L 1052.37 51.49 
L 1055.37 48.97 
L 1056.87 48.61 
L 1058.37 48.69 
L 1059.87 48.95 
L 1061.37 50.41 
L 1064.38 48.69 
L 1065.88 49.89 
L 1065.88 49.89 
" clip-path="url(#p3be8a313bc)" style="fill: none; stroke: #ffe600; stroke-width: 1.75; stroke-linecap: square"/>
   </g>
   <g id="line2d_43">
    <path d="M 615.51 257.04 
L 617.01 248.80 
L 618.52 229.42 
L 620.02 222.89 
L 621.52 210.10 
L 623.02 203.03 
L 624.52 204.27 
L 626.02 199.13 
L 627.52 189.58 
L 629.02 181.87 
L 630.53 185.28 
L 632.03 178.37 
L 633.53 166.88 
L 635.03 167.56 
L 636.53 173.40 
L 638.03 174.41 
L 639.53 167.78 
L 641.03 154.93 
L 642.54 158.44 
L 644.04 161.24 
L 645.54 158.18 
L 647.04 161.92 
L 648.54 156.25 
L 650.04 153.84 
L 651.54 145.52 
L 653.04 144.59 
L 654.54 142.91 
L 656.05 147.90 
L 657.55 147.48 
L 659.05 140.75 
L 660.55 146.64 
L 662.05 144.36 
L 663.55 135.35 
L 665.05 139.39 
L 666.55 138.68 
L 668.06 124.14 
L 669.56 129.16 
L 671.06 125.34 
L 672.56 119.06 
L 674.06 118.94 
L 675.56 121.83 
L 677.06 122.13 
L 678.56 123.17 
L 680.07 115.42 
L 681.57 109.06 
L 683.07 116.47 
L 684.57 120.16 
L 686.07 114.86 
L 687.57 113.42 
L 690.57 98.84 
L 693.58 112.66 
L 695.08 110.37 
L 696.58 101.56 
L 698.08 103.07 
L 699.58 105.82 
L 701.08 107.19 
L 702.58 99.44 
L 704.08 95.22 
L 705.59 95.29 
L 707.09 101.87 
L 708.59 98.23 
L 711.59 99.10 
L 713.09 93.95 
L 714.59 87.88 
L 716.09 94.59 
L 717.60 98.37 
L 719.10 88.28 
L 720.60 90.47 
L 722.10 89.84 
L 723.60 92.03 
L 725.10 90.16 
L 726.60 92.30 
L 728.10 94.99 
L 729.61 99.07 
L 731.11 95.07 
L 732.61 87.17 
L 734.11 86.00 
L 735.61 78.60 
L 737.11 86.14 
L 738.61 85.19 
L 740.11 83.88 
L 741.62 86.08 
L 743.12 85.02 
L 744.62 84.33 
L 746.12 80.99 
L 747.62 81.05 
L 749.12 83.65 
L 750.62 87.62 
L 752.12 85.57 
L 753.62 76.44 
L 756.63 84.44 
L 758.13 84.18 
L 759.63 77.04 
L 761.13 78.30 
L 762.63 77.99 
L 764.13 85.11 
L 765.63 82.19 
L 767.14 87.38 
L 768.64 77.70 
L 770.14 70.36 
L 771.64 73.43 
L 773.14 78.28 
L 774.64 82.38 
L 776.14 77.89 
L 777.64 71.04 
L 779.15 71.85 
L 780.65 74.02 
L 782.15 75.33 
L 783.65 69.80 
L 785.15 71.83 
L 786.65 72.92 
L 788.15 69.62 
L 789.65 64.67 
L 791.16 66.39 
L 792.66 77.29 
L 794.16 76.34 
L 795.66 67.67 
L 797.16 70.19 
L 798.66 78.20 
L 800.16 69.86 
L 801.66 63.56 
L 803.16 66.56 
L 804.67 73.16 
L 806.17 77.35 
L 807.67 74.91 
L 809.17 69.21 
L 810.67 68.37 
L 812.17 68.78 
L 813.67 67.37 
L 815.17 66.58 
L 816.68 71.15 
L 818.18 72.56 
L 819.68 72.28 
L 821.18 64.74 
L 822.68 65.05 
L 824.18 69.78 
L 825.68 71.90 
L 827.18 70.13 
L 828.69 60.64 
L 830.19 65.34 
L 831.69 76.21 
L 834.69 57.73 
L 836.19 69.98 
L 837.69 77.91 
L 839.19 78.98 
L 840.7 70.23 
L 842.20 63.14 
L 843.70 64.22 
L 845.20 66.46 
L 846.70 66.64 
L 848.20 64.59 
L 849.70 67.89 
L 851.20 64.73 
L 854.21 69.75 
L 855.71 69.51 
L 857.21 67.33 
L 858.71 65.42 
L 860.21 65.42 
L 861.71 72.62 
L 863.21 68.02 
L 864.71 64.16 
L 866.22 68.57 
L 867.72 71.08 
L 869.22 69.75 
L 870.72 60.03 
L 872.22 56.28 
L 873.72 62.85 
L 875.22 66.26 
L 876.72 66.67 
L 878.23 67.88 
L 879.73 66.88 
L 881.23 64.77 
L 882.73 65.10 
L 884.23 64.29 
L 885.73 61.72 
L 887.23 64.30 
L 888.73 61.99 
L 890.24 60.42 
L 891.74 64.43 
L 893.24 59.87 
L 894.74 64.54 
L 896.24 67.77 
L 897.74 63.96 
L 899.24 63.71 
L 900.74 56.64 
L 902.24 57.87 
L 903.75 64.00 
L 905.25 65.31 
L 906.75 58.52 
L 908.25 59.83 
L 909.75 59.57 
L 911.25 59.57 
L 912.75 57.15 
L 914.25 55.44 
L 915.76 56.44 
L 917.26 60.79 
L 918.76 62.35 
L 920.26 62.41 
L 921.76 61.30 
L 923.26 56.95 
L 924.76 61.86 
L 926.26 61.23 
L 927.77 54.77 
L 929.27 57.47 
L 930.77 57.75 
L 932.27 56.63 
L 933.77 60.01 
L 935.27 65.53 
L 936.77 60.80 
L 938.27 54.16 
L 939.78 51.95 
L 941.28 57.06 
L 944.28 59.26 
L 945.78 60.18 
L 947.28 59.38 
L 948.78 59.08 
L 950.28 54.93 
L 951.78 57.93 
L 953.29 61.98 
L 954.79 60.52 
L 956.29 53.14 
L 957.79 55.22 
L 959.29 57.80 
L 960.79 56.01 
L 962.29 54.92 
L 963.79 53.36 
L 965.30 52.77 
L 966.80 54.83 
L 968.30 56.04 
L 969.80 53.11 
L 971.30 53.97 
L 972.80 56.50 
L 974.30 56.55 
L 975.80 56.99 
L 977.31 55.27 
L 978.81 53.89 
L 980.31 53.56 
L 981.81 55.55 
L 983.31 55.46 
L 984.81 50.72 
L 986.31 50.32 
L 987.81 53.24 
L 989.32 52.92 
L 990.82 52.33 
L 992.32 49.19 
L 993.82 48.15 
L 995.32 48.28 
L 996.82 50.82 
L 998.32 51.09 
L 999.82 52.33 
L 1001.32 51.05 
L 1002.83 48.88 
L 1004.33 52.75 
L 1005.83 48.39 
L 1007.33 50.06 
L 1008.83 52.61 
L 1010.33 49.93 
L 1011.83 49.19 
L 1013.33 48.33 
L 1014.84 51.10 
L 1016.34 50.43 
L 1019.34 50.50 
L 1020.84 49.29 
L 1022.34 50.02 
L 1023.84 50.34 
L 1025.34 49.96 
L 1026.85 48.90 
L 1028.35 48.87 
L 1029.85 50.11 
L 1031.35 50.72 
L 1032.85 50.19 
L 1034.35 50.92 
L 1035.85 50.36 
L 1037.35 49.11 
L 1038.86 49.11 
L 1040.36 50.67 
L 1041.86 50.57 
L 1043.36 50.16 
L 1044.86 50.38 
L 1046.36 50.16 
L 1049.36 49.22 
L 1050.86 50.35 
L 1052.37 49.94 
L 1053.87 50.54 
L 1055.37 50.53 
L 1056.87 50.76 
L 1058.37 51.55 
L 1059.87 50.76 
L 1061.37 51.06 
L 1062.87 49.86 
L 1064.38 49.70 
L 1065.88 50.15 
L 1065.88 50.15 
" clip-path="url(#p3be8a313bc)" style="fill: none; stroke: #b8b8b8; stroke-width: 1.75; stroke-linecap: square"/>
   </g>
   <g id="line2d_44">
    <path d="M 615.51 260.45 
L 617.01 289.66 
L 618.52 299.72 
L 620.02 282.39 
L 621.52 248.23 
L 623.02 227.47 
L 624.52 219.48 
L 626.02 221.69 
L 627.52 215.13 
L 629.02 191.02 
L 630.53 163.63 
L 632.03 159.46 
L 633.53 159.76 
L 635.03 165.04 
L 636.53 165.23 
L 638.03 167.29 
L 639.53 161.26 
L 641.03 155.73 
L 642.54 152.76 
L 644.04 147.83 
L 645.54 145.24 
L 647.04 153.83 
L 648.54 161.73 
L 650.04 153.59 
L 651.54 147.54 
L 653.04 142.77 
L 654.54 130.20 
L 656.05 132.22 
L 657.55 123.62 
L 659.05 137.73 
L 660.55 137.57 
L 662.05 126.66 
L 663.55 127.28 
L 665.05 136.40 
L 666.55 141.90 
L 668.06 141.86 
L 669.56 126.74 
L 671.06 129.36 
L 672.56 120.16 
L 674.06 120.44 
L 675.56 118.23 
L 677.06 120.49 
L 678.56 115.65 
L 680.07 115.43 
L 683.07 136.99 
L 684.57 120.85 
L 686.07 109.35 
L 687.57 117.30 
L 689.07 113.98 
L 690.57 102.82 
L 692.08 114.83 
L 693.58 109.77 
L 695.08 110.86 
L 696.58 116.55 
L 698.08 115.03 
L 699.58 110.72 
L 701.08 120.17 
L 702.58 117.55 
L 704.08 104.80 
L 705.59 110.26 
L 707.09 110.35 
L 708.59 102.55 
L 710.09 103.37 
L 711.59 109.49 
L 713.09 104.92 
L 714.59 98.35 
L 716.09 98.11 
L 717.60 107.22 
L 719.10 110.87 
L 720.60 105.28 
L 722.10 97.97 
L 723.60 95.54 
L 725.10 107.13 
L 728.10 93.15 
L 729.61 88.85 
L 731.11 89.24 
L 732.61 91.69 
L 734.11 93.25 
L 735.61 95.34 
L 737.11 89.72 
L 738.61 93.09 
L 740.11 87.41 
L 741.62 89.68 
L 743.12 99.20 
L 744.62 99.54 
L 747.62 84.00 
L 749.12 84.40 
L 752.12 96.15 
L 753.62 92.39 
L 755.13 88.24 
L 756.63 93.99 
L 758.13 91.17 
L 759.63 81.30 
L 761.13 84.17 
L 762.63 86.45 
L 764.13 82.91 
L 765.63 83.97 
L 767.14 76.13 
L 768.64 78.11 
L 770.14 85.91 
L 771.64 94.39 
L 773.14 88.54 
L 774.64 80.56 
L 776.14 81.31 
L 777.64 78.55 
L 779.15 75.23 
L 780.65 77.58 
L 782.15 75.58 
L 783.65 83.42 
L 785.15 85.22 
L 786.65 77.53 
L 788.15 74.66 
L 789.65 67.84 
L 791.16 68.64 
L 792.66 76.87 
L 794.16 76.87 
L 795.66 75.52 
L 797.16 75.21 
L 798.66 78.41 
L 800.16 69.59 
L 801.66 69.25 
L 803.16 67.98 
L 804.67 64.89 
L 806.17 68.95 
L 807.67 73.57 
L 809.17 71.26 
L 810.67 64.23 
L 812.17 72.43 
L 813.67 66.41 
L 815.17 62.34 
L 816.68 65.52 
L 818.18 63.69 
L 819.68 58.49 
L 821.18 63.66 
L 822.68 64.64 
L 824.18 65.06 
L 825.68 57.75 
L 827.18 56.46 
L 828.69 58.05 
L 830.19 62.96 
L 831.69 59.58 
L 833.19 58.39 
L 834.69 58.38 
L 836.19 58.05 
L 837.69 56.29 
L 839.19 59.80 
L 840.7 58.89 
L 842.20 50.37 
L 843.70 48.99 
L 845.20 50.97 
L 846.70 54.99 
L 848.20 54.96 
L 849.70 49.25 
L 851.20 52.84 
L 852.70 56.76 
L 854.21 56.11 
L 855.71 50.07 
L 857.21 52.80 
L 858.71 46.52 
L 860.21 52.47 
L 861.71 53.15 
L 863.21 51.45 
L 864.71 51.30 
L 866.22 53.97 
L 867.72 52.21 
L 869.22 51.75 
L 870.72 53.52 
L 872.22 57.56 
L 873.72 52.52 
L 875.22 51.88 
L 876.72 50.01 
L 878.23 54.60 
L 879.73 53.67 
L 881.23 53.17 
L 882.73 51.01 
L 884.23 52.16 
L 885.73 55.42 
L 887.23 55.25 
L 888.73 53.25 
L 890.24 54.28 
L 891.74 51.17 
L 893.24 51.61 
L 894.74 54.53 
L 896.24 54.06 
L 897.74 52.71 
L 900.74 49.26 
L 902.24 50.20 
L 903.75 51.64 
L 906.75 56.55 
L 911.25 46.51 
L 912.75 45.80 
L 914.25 52.20 
L 915.76 52.58 
L 917.26 54.09 
L 918.76 51.50 
L 920.26 51.94 
L 921.76 52.95 
L 923.26 53.76 
L 924.76 52.51 
L 926.26 50.10 
L 927.77 50.09 
L 930.77 52.50 
L 932.27 54.55 
L 933.77 52.20 
L 935.27 53.95 
L 936.77 52.84 
L 938.27 50.88 
L 939.78 51.35 
L 941.28 39.55 
L 942.78 40.88 
L 944.28 40.37 
L 945.78 40.73 
L 947.28 38.09 
L 948.78 36.34 
L 950.28 38.36 
L 951.78 38.72 
L 953.29 38.04 
L 954.79 38.99 
L 956.29 41.66 
L 957.79 41.39 
L 959.29 42.47 
L 960.79 43.27 
L 962.29 43.03 
L 963.79 45.02 
L 965.30 45.68 
L 966.80 43.82 
L 968.30 43.23 
L 969.80 42.11 
L 971.30 40.81 
L 972.80 41.16 
L 974.30 40.84 
L 975.80 40.35 
L 977.31 40.74 
L 978.81 45.45 
L 980.31 43.04 
L 981.81 41.51 
L 983.31 43.82 
L 984.81 43.42 
L 986.31 40.98 
L 987.81 40.42 
L 989.32 42.14 
L 990.82 41.66 
L 992.32 43.35 
L 993.82 42.97 
L 995.32 44.08 
L 996.82 42.15 
L 998.32 42.39 
L 999.82 43.20 
L 1001.32 43.69 
L 1002.83 41.74 
L 1004.33 41.80 
L 1005.83 42.68 
L 1007.33 43.76 
L 1008.83 41.70 
L 1010.33 42.40 
L 1013.33 39.86 
L 1014.84 40.31 
L 1016.34 37.33 
L 1017.84 40.13 
L 1019.34 41.06 
L 1020.84 39.36 
L 1022.34 40.24 
L 1023.84 39.48 
L 1025.34 38.36 
L 1026.85 41.72 
L 1028.35 39.75 
L 1029.85 40.79 
L 1031.35 40.50 
L 1032.85 41.53 
L 1034.35 41.24 
L 1035.85 40.59 
L 1037.35 41.50 
L 1038.86 40.54 
L 1040.36 41.86 
L 1041.86 41.59 
L 1043.36 42.02 
L 1044.86 40.93 
L 1046.36 41.04 
L 1047.86 42.18 
L 1049.36 41.06 
L 1050.86 39.79 
L 1052.37 40.49 
L 1053.87 42.88 
L 1055.37 42.87 
L 1056.87 42.22 
L 1058.37 42.73 
L 1059.87 41.87 
L 1061.37 42.04 
L 1062.87 40.02 
L 1064.38 41.71 
L 1065.88 36.39 
L 1065.88 36.39 
" clip-path="url(#p3be8a313bc)" style="fill: none; stroke: #ff0000; stroke-width: 1.75; stroke-linecap: square"/>
   </g>
   <g id="patch_9">
    <path d="M 593 312.89 
L 593 23.17 
" style="fill: none; stroke: #000000; stroke-width: 0.8; stroke-linejoin: miter; stroke-linecap: square"/>
   </g>
   <g id="patch_10">
    <path d="M 1088.4 312.89 
L 1088.4 23.17 
" style="fill: none; stroke: #000000; stroke-width: 0.8; stroke-linejoin: miter; stroke-linecap: square"/>
   </g>
   <g id="patch_11">
    <path d="M 593 312.89 
L 1088.4 312.89 
" style="fill: none; stroke: #000000; stroke-width: 0.8; stroke-linejoin: miter; stroke-linecap: square"/>
   </g>
   <g id="patch_12">
    <path d="M 593 23.17 
L 1088.4 23.17 
" style="fill: none; stroke: #000000; stroke-width: 0.8; stroke-linejoin: miter; stroke-linecap: square"/>
   </g>
   <g id="text_38">
    <text style="font-size: 12px; font-family: 'DejaVu Sans'; text-anchor: middle" x="840.7" y="17.17" transform="rotate(-0 840.7 17.17)">Recall</text>
   </g>
   <g id="legend_2">
    <g id="patch_13">
     <path d="M 978.70 309.11 
L 1081.4 309.11 
Q 1083.4 309.11 1083.4 307.11 
L 1083.4 220.04 
Q 1083.4 218.04 1081.4 218.04 
L 978.70 218.04 
Q 976.70 218.04 976.70 220.04 
L 976.70 307.11 
Q 976.70 309.11 978.70 309.11 
z
" style="fill: #ffffff; opacity: 0.8; stroke: #cccccc; stroke-linejoin: miter"/>
    </g>
    <g id="line2d_45">
     <path d="M 980.70 226.14 
L 990.70 226.14 
L 1000.70 226.14 
" style="fill: none; stroke: #10d0f0; stroke-width: 1.75; stroke-linecap: square"/>
    </g>
    <g id="text_39">
     <text style="font-size: 10px; font-family: 'DejaVu Sans'; text-anchor: start" x="1008.70" y="229.64" transform="rotate(-0 1008.70 229.64)">YOLOv5n</text>
    </g>
    <g id="line2d_46">
     <path d="M 980.70 240.81 
L 990.70 240.81 
L 1000.70 240.81 
" style="fill: none; stroke: #30e880; stroke-width: 1.75; stroke-linecap: square"/>
    </g>
    <g id="text_40">
     <text style="font-size: 10px; font-family: 'DejaVu Sans'; text-anchor: start" x="1008.70" y="244.31" transform="rotate(-0 1008.70 244.31)">YOLOv8n</text>
    </g>
    <g id="line2d_47">
     <path d="M 980.70 255.49 
L 990.70 255.49 
L 1000.70 255.49 
" style="fill: none; stroke: #f0b0f0; stroke-width: 1.75; stroke-linecap: square"/>
    </g>
    <g id="text_41">
     <text style="font-size: 10px; font-family: 'DejaVu Sans'; text-anchor: start" x="1008.70" y="258.99" transform="rotate(-0 1008.70 258.99)">YOLOv9t</text>
    </g>
    <g id="line2d_48">
     <path d="M 980.70 270.17 
L 990.70 270.17 
L 1000.70 270.17 
" style="fill: none; stroke: #ffe600; stroke-width: 1.75; stroke-linecap: square"/>
    </g>
    <g id="text_42">
     <text style="font-size: 10px; font-family: 'DejaVu Sans'; text-anchor: start" x="1008.70" y="273.67" transform="rotate(-0 1008.70 273.67)">YOLOv10n</text>
    </g>
    <g id="line2d_49">
     <path d="M 980.70 284.85 
L 990.70 284.85 
L 1000.70 284.85 
" style="fill: none; stroke: #b8b8b8; stroke-width: 1.75; stroke-linecap: square"/>
    </g>
    <g id="text_43">
     <text style="font-size: 10px; font-family: 'DejaVu Sans'; text-anchor: start" x="1008.70" y="288.35" transform="rotate(-0 1008.70 288.35)">YOLOv11n</text>
    </g>
    <g id="line2d_50">
     <path d="M 980.70 299.53 
L 990.70 299.53 
L 1000.70 299.53 
" style="fill: none; stroke: #ff0000; stroke-width: 1.75; stroke-linecap: square"/>
    </g>
    <g id="text_44">
     <text style="font-size: 10px; font-family: 'DejaVu Sans'; text-anchor: start" x="1008.70" y="303.03" transform="rotate(-0 1008.70 303.03)">YOLOv11-EMC</text>
    </g>
   </g>
  </g>
  <g id="axes_3">
   <g id="patch_14">
    <path d="M 48.6 660.18 
L 543.6 660.18 
L 543.6 370.65 
L 48.6 370.65 
z
" style="fill: #ffffff"/>
   </g>
   <g id="matplotlib.axis_5">
    <g id="xtick_15">
     <g id="line2d_51">
      <g>
       <path d="M 71.10 660.19 L 71.10 663.69" style="stroke: #000000; stroke-width: 0.8"/>
      </g>
     </g>
     <g id="text_45">
      <text style="font-size: 10px; font-family: 'DejaVu Sans'; text-anchor: middle" x="71.1" y="674.78" transform="rotate(-0 71.1 674.78)">0</text>
     </g>
    </g>
    <g id="xtick_16">
     <g id="line2d_52">
      <g>
       <path d="M 146.10 660.19 L 146.10 663.69" style="stroke: #000000; stroke-width: 0.8"/>
      </g>
     </g>
     <g id="text_46">
      <text style="font-size: 10px; font-family: 'DejaVu Sans'; text-anchor: middle" x="146.1" y="674.78" transform="rotate(-0 146.1 674.78)">50</text>
     </g>
    </g>
    <g id="xtick_17">
     <g id="line2d_53">
      <g>
       <path d="M 221.10 660.19 L 221.10 663.69" style="stroke: #000000; stroke-width: 0.8"/>
      </g>
     </g>
     <g id="text_47">
      <text style="font-size: 10px; font-family: 'DejaVu Sans'; text-anchor: middle" x="221.1" y="674.78" transform="rotate(-0 221.1 674.78)">100</text>
     </g>
    </g>
    <g id="xtick_18">
     <g id="line2d_54">
      <g>
       <path d="M 296.10 660.19 L 296.10 663.69" style="stroke: #000000; stroke-width: 0.8"/>
      </g>
     </g>
     <g id="text_48">
      <text style="font-size: 10px; font-family: 'DejaVu Sans'; text-anchor: middle" x="296.1" y="674.78" transform="rotate(-0 296.1 674.78)">150</text>
     </g>
    </g>
    <g id="xtick_19">
     <g id="line2d_55">
      <g>
       <path d="M 371.10 660.19 L 371.10 663.69" style="stroke: #000000; stroke-width: 0.8"/>
      </g>
     </g>
     <g id="text_49">
      <text style="font-size: 10px; font-family: 'DejaVu Sans'; text-anchor: middle" x="371.1" y="674.78" transform="rotate(-0 371.1 674.78)">200</text>
     </g>
    </g>
    <g id="xtick_20">
     <g id="line2d_56">
      <g>
       <path d="M 446.10 660.19 L 446.10 663.69" style="stroke: #000000; stroke-width: 0.8"/>
      </g>
     </g>
     <g id="text_50">
      <text style="font-size: 10px; font-family: 'DejaVu Sans'; text-anchor: middle" x="446.1" y="674.78" transform="rotate(-0 446.1 674.78)">250</text>
     </g>
    </g>
    <g id="xtick_21">
     <g id="line2d_57">
      <g>
       <path d="M 521.10 660.19 L 521.10 663.69" style="stroke: #000000; stroke-width: 0.8"/>
      </g>
     </g>
     <g id="text_51">
      <text style="font-size: 10px; font-family: 'DejaVu Sans'; text-anchor: middle" x="521.1" y="674.78" transform="rotate(-0 521.1 674.78)">300</text>
     </g>
    </g>
    <g id="text_52">
     <text style="font-size: 10px; font-family: 'DejaVu Sans'; text-anchor: middle" x="296.1" y="688.46" transform="rotate(-0 296.1 688.46)">Epochs</text>
    </g>
   </g>
   <g id="matplotlib.axis_6">
    <g id="ytick_13">
     <g id="line2d_58">
      <g>
       <path d="M 48.60 647.03 L 45.10 647.03" style="stroke: #000000; stroke-width: 0.8"/>
      </g>
     </g>
     <g id="text_53">
      <text style="font-size: 10px; font-family: 'DejaVu Sans'; text-anchor: end" x="41.6" y="650.82" transform="rotate(-0 41.6 650.82)">0.0</text>
     </g>
    </g>
    <g id="ytick_14">
     <g id="line2d_59">
      <g>
       <path d="M 48.60 607.56 L 45.10 607.56" style="stroke: #000000; stroke-width: 0.8"/>
      </g>
     </g>
     <g id="text_54">
      <text style="font-size: 10px; font-family: 'DejaVu Sans'; text-anchor: end" x="41.6" y="611.36" transform="rotate(-0 41.6 611.36)">0.1</text>
     </g>
    </g>
    <g id="ytick_15">
     <g id="line2d_60">
      <g>
       <path d="M 48.60 568.10 L 45.10 568.10" style="stroke: #000000; stroke-width: 0.8"/>
      </g>
     </g>
     <g id="text_55">
      <text style="font-size: 10px; font-family: 'DejaVu Sans'; text-anchor: end" x="41.6" y="571.90" transform="rotate(-0 41.6 571.90)">0.2</text>
     </g>
    </g>
    <g id="ytick_16">
     <g id="line2d_61">
      <g>
       <path d="M 48.60 528.64 L 45.10 528.64" style="stroke: #000000; stroke-width: 0.8"/>
      </g>
     </g>
     <g id="text_56">
      <text style="font-size: 10px; font-family: 'DejaVu Sans'; text-anchor: end" x="41.6" y="532.43" transform="rotate(-0 41.6 532.43)">0.3</text>
     </g>
    </g>
    <g id="ytick_17">
     <g id="line2d_62">
      <g>
       <path d="M 48.60 489.18 L 45.10 489.18" style="stroke: #000000; stroke-width: 0.8"/>
      </g>
     </g>
     <g id="text_57">
      <text style="font-size: 10px; font-family: 'DejaVu Sans'; text-anchor: end" x="41.6" y="492.97" transform="rotate(-0 41.6 492.97)">0.4</text>
     </g>
    </g>
    <g id="ytick_18">
     <g id="line2d_63">
      <g>
       <path d="M 48.60 449.72 L 45.10 449.72" style="stroke: #000000; stroke-width: 0.8"/>
      </g>
     </g>
     <g id="text_58">
      <text style="font-size: 10px; font-family: 'DejaVu Sans'; text-anchor: end" x="41.6" y="453.51" transform="rotate(-0 41.6 453.51)">0.5</text>
     </g>
    </g>
    <g id="ytick_19">
     <g id="line2d_64">
      <g>
       <path d="M 48.60 410.25 L 45.10 410.25" style="stroke: #000000; stroke-width: 0.8"/>
      </g>
     </g>
     <g id="text_59">
      <text style="font-size: 10px; font-family: 'DejaVu Sans'; text-anchor: end" x="41.6" y="414.05" transform="rotate(-0 41.6 414.05)">0.6</text>
     </g>
    </g>
    <g id="ytick_20">
     <g id="line2d_65">
      <g>
       <path d="M 48.60 370.79 L 45.10 370.79" style="stroke: #000000; stroke-width: 0.8"/>
      </g>
     </g>
     <g id="text_60">
      <text style="font-size: 10px; font-family: 'DejaVu Sans'; text-anchor: end" x="41.6" y="374.59" transform="rotate(-0 41.6 374.59)">0.7</text>
     </g>
    </g>
    <g id="text_61">
     <text style="font-size: 10px; font-family: 'DejaVu Sans'; text-anchor: middle" x="19.61" y="515.42" transform="rotate(-90 19.61 515.42)">mAP@50</text>
    </g>
   </g>
   <g id="line2d_66">
    <path d="M 71.1 568.10 
L 72.6 568.10 
L 74.1 593.17 
L 75.6 589.43 
L 77.1 559.82 
L 78.6 553.12 
L 80.1 540.68 
L 81.6 535.29 
L 83.1 516.96 
L 84.6 518.48 
L 86.1 510.72 
L 87.6 511.79 
L 89.1 504.11 
L 90.6 492.81 
L 92.1 492.64 
L 93.6 506.25 
L 95.1 506.33 
L 96.6 495.78 
L 98.1 495.11 
L 99.6 492.46 
L 101.1 488.66 
L 102.6 478.93 
L 104.1 489.59 
L 105.6 476.26 
L 107.1 479.88 
L 108.6 480.68 
L 110.1 473.96 
L 111.6 462.67 
L 113.1 481.86 
L 114.6 482.22 
L 116.1 474.32 
L 117.6 470.17 
L 119.1 481.43 
L 120.6 466.07 
L 122.1 462.39 
L 123.6 454.95 
L 125.1 460.92 
L 126.6 465.21 
L 128.1 468.74 
L 129.6 457.58 
L 131.1 447.63 
L 132.6 451.45 
L 134.1 456.88 
L 135.6 466.52 
L 137.1 461.44 
L 138.6 448.77 
L 140.1 429.95 
L 141.6 434.79 
L 143.1 440.84 
L 144.6 444.42 
L 146.1 445.67 
L 147.6 446.68 
L 149.1 444.87 
L 150.6 457.72 
L 152.1 450.79 
L 153.6 440.41 
L 155.1 442.96 
L 158.1 433.98 
L 159.6 447.00 
L 161.1 437.88 
L 162.6 434.16 
L 164.1 423.23 
L 165.6 421.87 
L 167.1 429.94 
L 168.6 434.77 
L 170.1 440.55 
L 171.6 435.36 
L 173.1 429.28 
L 174.6 435.54 
L 176.1 434.22 
L 177.6 429.17 
L 179.1 425.41 
L 180.6 429.83 
L 182.1 431.48 
L 183.6 429.87 
L 185.1 434.60 
L 186.6 429.47 
L 188.1 422.67 
L 189.6 416.86 
L 191.1 420.52 
L 192.6 425.17 
L 194.1 421.32 
L 195.6 425.17 
L 197.1 420.84 
L 198.6 423.83 
L 200.1 418.53 
L 201.6 411.98 
L 203.1 418.04 
L 204.6 417.81 
L 206.1 423.32 
L 207.6 424.75 
L 209.1 415.21 
L 210.6 416.62 
L 212.1 411.42 
L 213.6 420.41 
L 215.1 418.93 
L 216.6 408.24 
L 218.1 410.62 
L 219.6 412.56 
L 221.1 410.96 
L 222.6 412.43 
L 224.1 419.77 
L 225.6 413.80 
L 227.1 412.35 
L 228.6 406.01 
L 230.1 406.93 
L 231.6 411.95 
L 233.1 414.13 
L 234.6 412.43 
L 236.1 412.53 
L 237.6 411.33 
L 239.1 411.27 
L 240.6 407.54 
L 242.1 408.13 
L 245.1 408.23 
L 246.6 404.89 
L 248.1 403.08 
L 249.6 405.91 
L 251.1 405.76 
L 252.6 404.45 
L 254.1 404.11 
L 255.6 407.61 
L 257.1 409.84 
L 258.6 409.88 
L 260.1 406.21 
L 261.6 404.00 
L 263.1 400.63 
L 264.6 396.40 
L 266.1 405.59 
L 267.6 405.31 
L 269.1 403.53 
L 270.6 406.88 
L 275.1 393.92 
L 276.6 399.83 
L 278.1 405.03 
L 279.6 404.74 
L 282.6 403.63 
L 284.1 401.32 
L 285.6 397.56 
L 287.1 397.68 
L 290.1 397.30 
L 291.6 399.52 
L 293.1 400.19 
L 294.6 396.61 
L 296.1 396.93 
L 297.6 396.91 
L 299.1 397.19 
L 300.6 397.14 
L 302.1 396.78 
L 303.6 397.68 
L 305.1 398.24 
L 306.6 396.00 
L 308.1 394.87 
L 309.6 396.54 
L 311.1 396.30 
L 312.6 396.36 
L 314.1 393.05 
L 315.6 392.71 
L 317.1 394.54 
L 318.6 394.16 
L 320.1 391.71 
L 321.6 393.75 
L 323.1 395.37 
L 324.6 394.66 
L 326.1 391.68 
L 327.6 393.03 
L 329.1 395.50 
L 330.6 391.91 
L 332.1 390.72 
L 333.6 391.39 
L 335.1 392.74 
L 336.6 392.47 
L 338.1 391.80 
L 339.6 391.78 
L 341.1 389.70 
L 342.6 392.41 
L 344.1 391.42 
L 347.1 392.01 
L 348.6 392.15 
L 350.1 391.77 
L 351.6 391.52 
L 353.1 391.45 
L 354.6 391.96 
L 356.1 390.84 
L 357.6 390.86 
L 359.1 391.28 
L 360.6 392.37 
L 363.6 391.42 
L 365.1 390.31 
L 366.6 389.98 
L 368.1 390.54 
L 369.6 391.26 
L 371.1 390.98 
L 372.6 390.51 
L 374.1 389.77 
L 375.6 389.70 
L 377.1 390.34 
L 378.6 389.89 
L 380.1 391.02 
L 381.6 391.49 
L 383.1 391.08 
L 384.6 390.79 
L 386.1 390.99 
L 387.6 389.74 
L 389.1 388.65 
L 390.6 388.88 
L 392.1 390.05 
L 395.1 388.83 
L 396.6 389.19 
L 398.1 389.10 
L 399.6 388.81 
L 401.1 389.56 
L 402.6 389.55 
L 404.1 388.82 
L 405.6 388.51 
L 407.1 388.45 
L 408.6 388.56 
L 410.1 390.10 
L 411.6 389.14 
L 413.1 388.86 
L 414.6 388.09 
L 416.1 388.77 
L 419.1 389.01 
L 420.6 388.28 
L 422.1 388.37 
L 423.6 388.90 
L 425.1 388.97 
L 426.6 388.63 
L 428.1 387.96 
L 431.1 388.68 
L 432.6 387.86 
L 434.1 389.13 
L 435.6 388.48 
L 437.1 388.61 
L 438.6 389.12 
L 440.1 388.72 
L 441.6 388.72 
L 443.1 387.63 
L 444.6 387.83 
L 446.1 388.43 
L 447.6 389.65 
L 449.1 388.83 
L 450.6 388.86 
L 453.6 388.43 
L 455.1 387.86 
L 456.6 388.25 
L 458.1 389.19 
L 459.6 388.05 
L 461.1 388.31 
L 462.6 389.28 
L 464.1 389.54 
L 465.6 388.56 
L 468.6 387.55 
L 470.1 388.80 
L 471.6 389.20 
L 473.1 388.58 
L 474.6 387.43 
L 476.1 387.54 
L 477.6 388.86 
L 479.1 388.66 
L 480.6 388.71 
L 483.6 388.59 
L 485.1 387.65 
L 486.6 388.34 
L 488.1 388.69 
L 489.6 388.65 
L 492.6 388.80 
L 494.1 389.13 
L 495.6 389.23 
L 497.1 388.55 
L 498.6 388.61 
L 501.6 389.06 
L 503.1 388.86 
L 504.6 387.80 
L 506.1 388.11 
L 507.6 388.09 
L 509.1 387.73 
L 510.6 388.44 
L 512.1 388.80 
L 516.6 388.25 
L 518.1 389.15 
L 519.6 388.94 
L 521.1 388.60 
L 521.1 388.60 
" clip-path="url(#pecb8b56a60)" style="fill: none; stroke: #10d0f0; stroke-width: 1.75; stroke-linecap: square"/>
   </g>
   <g id="line2d_67">
    <path d="M 71.1 607.56 
L 72.6 601.23 
L 74.1 599.67 
L 75.6 595.54 
L 77.1 590.09 
L 80.1 562.02 
L 81.6 556.21 
L 83.1 552.97 
L 84.6 554.68 
L 86.1 547.27 
L 87.6 543.94 
L 89.1 535.53 
L 92.1 524.05 
L 93.6 522.47 
L 95.1 527.16 
L 96.6 523.42 
L 98.1 518.75 
L 99.6 513.07 
L 101.1 513.67 
L 102.6 507.96 
L 104.1 507.21 
L 105.6 501.51 
L 107.1 506.16 
L 108.6 508.25 
L 110.1 506.20 
L 111.6 502.23 
L 113.1 495.91 
L 114.6 490.09 
L 116.1 486.91 
L 117.6 488.74 
L 119.1 489.00 
L 120.6 480.49 
L 122.1 483.21 
L 123.6 477.02 
L 125.1 475.25 
L 126.6 478.67 
L 128.1 478.53 
L 129.6 475.03 
L 131.1 476.48 
L 132.6 476.20 
L 134.1 470.67 
L 135.6 461.09 
L 137.1 458.62 
L 138.6 465.80 
L 140.1 470.81 
L 141.6 467.43 
L 143.1 469.33 
L 144.6 460.04 
L 146.1 455.03 
L 147.6 452.69 
L 149.1 450.64 
L 150.6 454.06 
L 152.1 453.36 
L 153.6 454.92 
L 155.1 448.83 
L 156.6 445.94 
L 158.1 448.00 
L 159.6 454.28 
L 161.1 444.24 
L 162.6 451.51 
L 164.1 446.52 
L 165.6 446.94 
L 167.1 444.59 
L 168.6 439.98 
L 170.1 436.99 
L 171.6 440.79 
L 173.1 436.57 
L 174.6 438.00 
L 176.1 440.71 
L 177.6 436.66 
L 179.1 440.17 
L 180.6 444.54 
L 182.1 438.93 
L 183.6 439.04 
L 185.1 440.45 
L 186.6 436.78 
L 188.1 431.37 
L 189.6 430.23 
L 191.1 432.31 
L 192.6 432.34 
L 194.1 433.81 
L 195.6 436.06 
L 197.1 436.04 
L 198.6 435.37 
L 200.1 435.37 
L 201.6 430.58 
L 203.1 430.18 
L 204.6 426.57 
L 206.1 426.38 
L 207.6 429.07 
L 209.1 426.45 
L 210.6 431.46 
L 212.1 427.88 
L 213.6 421.97 
L 215.1 423.55 
L 216.6 425.65 
L 218.1 423.65 
L 219.6 423.13 
L 221.1 421.27 
L 222.6 421.14 
L 224.1 420.74 
L 225.6 420.54 
L 227.1 423.26 
L 228.6 423.82 
L 230.1 423.78 
L 231.6 419.71 
L 233.1 418.18 
L 234.6 421.37 
L 236.1 422.12 
L 237.6 419.10 
L 239.1 414.69 
L 240.6 415.97 
L 242.1 419.79 
L 243.6 417.68 
L 245.1 413.19 
L 246.6 416.37 
L 248.1 419.16 
L 249.6 416.25 
L 251.1 416.19 
L 252.6 411.70 
L 254.1 412.19 
L 255.6 412.96 
L 257.1 413.98 
L 258.6 412.26 
L 260.1 411.47 
L 261.6 409.87 
L 263.1 413.93 
L 264.6 416.48 
L 266.1 415.82 
L 267.6 412.42 
L 269.1 412.25 
L 270.6 411.39 
L 272.1 408.83 
L 273.6 408.85 
L 275.1 410.40 
L 276.6 409.55 
L 278.1 409.59 
L 279.6 410.17 
L 281.1 409.06 
L 282.6 410.87 
L 284.1 413.86 
L 285.6 412.57 
L 287.1 408.38 
L 288.6 405.90 
L 290.1 406.33 
L 291.6 405.30 
L 293.1 405.39 
L 294.6 405.88 
L 296.1 408.35 
L 297.6 407.64 
L 299.1 407.48 
L 300.6 407.87 
L 302.1 407.00 
L 303.6 405.02 
L 305.1 406.38 
L 306.6 406.34 
L 308.1 405.95 
L 309.6 404.19 
L 311.1 405.15 
L 312.6 405.87 
L 314.1 406.81 
L 315.6 405.19 
L 317.1 403.19 
L 318.6 404.65 
L 320.1 406.35 
L 321.6 405.42 
L 323.1 403.95 
L 324.6 404.84 
L 326.1 404.46 
L 327.6 402.49 
L 329.1 402.63 
L 330.6 404.16 
L 332.1 403.03 
L 333.6 402.29 
L 335.1 403.17 
L 336.6 403.59 
L 338.1 403.27 
L 339.6 403.59 
L 341.1 403.15 
L 342.6 404.20 
L 344.1 404.12 
L 345.6 402.22 
L 347.1 403.08 
L 348.6 402.47 
L 350.1 402.10 
L 351.6 403.46 
L 353.1 401.83 
L 354.6 400.85 
L 356.1 401.42 
L 357.6 401.80 
L 359.1 401.45 
L 360.6 401.36 
L 362.1 400.90 
L 363.6 400.96 
L 365.1 400.30 
L 369.6 401.21 
L 372.6 401.46 
L 374.1 400.32 
L 375.6 399.34 
L 377.1 399.69 
L 378.6 400.25 
L 380.1 399.98 
L 381.6 400.98 
L 383.1 400.21 
L 384.6 399.94 
L 386.1 400.49 
L 387.6 399.89 
L 389.1 399.57 
L 390.6 399.70 
L 392.1 400.29 
L 393.6 400.57 
L 395.1 400.51 
L 396.6 399.96 
L 398.1 398.85 
L 399.6 398.49 
L 401.1 399.73 
L 402.6 400.26 
L 404.1 399.48 
L 405.6 399.22 
L 407.1 399.70 
L 408.6 399.51 
L 410.1 399.45 
L 413.1 398.66 
L 414.6 399.00 
L 416.1 399.70 
L 417.6 399.83 
L 419.1 399.11 
L 420.6 399.26 
L 422.1 398.81 
L 423.6 399.43 
L 425.1 399.64 
L 426.6 398.68 
L 428.1 398.64 
L 429.6 399.86 
L 431.1 399.35 
L 432.6 399.03 
L 435.6 399.23 
L 437.1 399.09 
L 438.6 398.76 
L 440.1 398.67 
L 441.6 399.60 
L 443.1 399.04 
L 444.6 397.71 
L 446.1 398.19 
L 447.6 399.10 
L 449.1 399.40 
L 450.6 398.90 
L 452.1 398.91 
L 453.6 398.76 
L 455.1 399.21 
L 456.6 399.38 
L 459.6 397.81 
L 464.1 399.09 
L 465.6 399.98 
L 467.1 398.69 
L 468.6 397.91 
L 470.1 397.59 
L 471.6 398.01 
L 473.1 398.55 
L 474.6 399.62 
L 476.1 399.10 
L 477.6 399.52 
L 479.1 398.77 
L 482.1 398.04 
L 483.6 397.97 
L 485.1 398.16 
L 486.6 397.90 
L 488.1 398.77 
L 489.6 398.99 
L 491.1 399.62 
L 492.6 399.15 
L 494.1 398.02 
L 495.6 398.46 
L 497.1 399.08 
L 498.6 398.58 
L 500.1 397.65 
L 501.6 397.49 
L 504.6 399.04 
L 506.1 398.72 
L 507.6 398.67 
L 509.1 398.27 
L 510.6 397.68 
L 512.1 398.43 
L 513.6 398.99 
L 515.1 398.38 
L 516.6 398.51 
L 518.1 398.81 
L 521.1 398.22 
L 521.1 398.22 
" clip-path="url(#pecb8b56a60)" style="fill: none; stroke: #30e880; stroke-width: 1.75; stroke-linecap: square"/>
   </g>
   <g id="line2d_68">
    <path d="M 71.1 607.56 
L 72.6 603.90 
L 74.1 603.61 
L 75.6 589.14 
L 77.1 588.63 
L 78.6 582.57 
L 80.1 569.44 
L 83.1 561.30 
L 84.6 558.73 
L 86.1 555.54 
L 87.6 551.39 
L 89.1 542.15 
L 90.6 548.54 
L 93.6 532.90 
L 95.1 524.55 
L 96.6 518.49 
L 98.1 517.54 
L 99.6 519.20 
L 101.1 517.10 
L 102.6 516.49 
L 104.1 510.72 
L 105.6 507.03 
L 107.1 510.99 
L 108.6 507.27 
L 110.1 503.89 
L 111.6 500.07 
L 113.1 490.69 
L 114.6 500.34 
L 116.1 494.13 
L 117.6 491.47 
L 119.1 487.37 
L 120.6 490.33 
L 122.1 488.13 
L 123.6 488.13 
L 125.1 489.77 
L 126.6 488.66 
L 128.1 479.40 
L 129.6 471.28 
L 131.1 474.82 
L 132.6 478.89 
L 134.1 475.18 
L 137.1 473.84 
L 138.6 467.02 
L 140.1 466.17 
L 141.6 470.94 
L 143.1 465.33 
L 144.6 463.47 
L 146.1 465.63 
L 147.6 464.25 
L 149.1 455.12 
L 150.6 449.88 
L 152.1 450.19 
L 153.6 458.51 
L 155.1 459.65 
L 156.6 457.20 
L 158.1 455.40 
L 159.6 456.86 
L 161.1 456.71 
L 162.6 448.99 
L 164.1 445.24 
L 165.6 450.38 
L 167.1 452.46 
L 168.6 450.69 
L 170.1 454.13 
L 171.6 448.10 
L 173.1 446.10 
L 174.6 448.03 
L 176.1 441.78 
L 177.6 442.79 
L 179.1 442.02 
L 180.6 441.51 
L 182.1 440.45 
L 183.6 446.40 
L 185.1 444.51 
L 186.6 445.30 
L 188.1 439.85 
L 189.6 437.81 
L 191.1 439.00 
L 192.6 435.05 
L 194.1 439.82 
L 195.6 443.35 
L 197.1 438.88 
L 198.6 435.72 
L 200.1 433.81 
L 201.6 428.73 
L 203.1 429.02 
L 204.6 427.15 
L 206.1 429.54 
L 207.6 435.51 
L 209.1 437.49 
L 210.6 440.75 
L 212.1 434.51 
L 213.6 426.56 
L 215.1 431.86 
L 216.6 432.01 
L 218.1 427.68 
L 219.6 424.43 
L 221.1 428.01 
L 222.6 427.37 
L 224.1 426.56 
L 225.6 427.09 
L 227.1 426.74 
L 228.6 426.08 
L 230.1 424.90 
L 231.6 424.21 
L 233.1 419.79 
L 234.6 423.31 
L 236.1 426.23 
L 237.6 421.86 
L 239.1 423.25 
L 240.6 419.23 
L 242.1 421.97 
L 243.6 421.28 
L 245.1 419.69 
L 246.6 417.61 
L 248.1 416.80 
L 249.6 419.17 
L 251.1 422.20 
L 252.6 419.06 
L 254.1 419.14 
L 255.6 420.51 
L 258.6 415.46 
L 260.1 414.71 
L 261.6 413.25 
L 263.1 415.06 
L 264.6 416.64 
L 266.1 417.21 
L 267.6 415.69 
L 269.1 416.89 
L 270.6 415.11 
L 272.1 415.03 
L 273.6 414.65 
L 275.1 413.24 
L 276.6 411.54 
L 278.1 411.82 
L 281.1 415.24 
L 282.6 413.60 
L 284.1 413.57 
L 285.6 412.02 
L 287.1 409.93 
L 288.6 408.77 
L 290.1 409.14 
L 291.6 409.91 
L 293.1 412.60 
L 294.6 410.76 
L 297.6 409.46 
L 299.1 409.84 
L 300.6 409.32 
L 302.1 407.91 
L 303.6 407.39 
L 305.1 408.77 
L 306.6 407.34 
L 308.1 407.45 
L 309.6 406.90 
L 311.1 407.35 
L 312.6 407.22 
L 314.1 406.94 
L 317.1 408.74 
L 318.6 407.64 
L 320.1 405.55 
L 321.6 406.41 
L 323.1 405.62 
L 324.6 404.44 
L 326.1 405.20 
L 327.6 404.38 
L 329.1 404.52 
L 330.6 405.85 
L 332.1 404.78 
L 333.6 404.17 
L 335.1 405.14 
L 336.6 404.83 
L 338.1 404.28 
L 339.6 405.62 
L 342.6 404.99 
L 344.1 404.11 
L 345.6 402.75 
L 347.1 401.56 
L 348.6 401.91 
L 350.1 402.70 
L 351.6 403.92 
L 353.1 404.21 
L 354.6 402.46 
L 356.1 400.96 
L 359.1 402.29 
L 360.6 401.53 
L 362.1 401.46 
L 365.1 401.80 
L 366.6 401.38 
L 368.1 402.13 
L 369.6 402.03 
L 371.1 400.41 
L 372.6 400.57 
L 374.1 399.93 
L 375.6 399.12 
L 377.1 399.43 
L 378.6 400.26 
L 380.1 399.67 
L 381.6 400.06 
L 383.1 399.81 
L 384.6 399.02 
L 386.1 399.71 
L 387.6 401.20 
L 389.1 400.69 
L 390.6 399.19 
L 392.1 398.17 
L 393.6 398.11 
L 395.1 398.89 
L 396.6 399.24 
L 398.1 399.36 
L 399.6 399.64 
L 401.1 398.41 
L 402.6 397.92 
L 404.1 398.33 
L 405.6 398.27 
L 407.1 398.41 
L 408.6 398.20 
L 411.6 398.22 
L 413.1 397.27 
L 414.6 397.57 
L 416.1 398.87 
L 417.6 399.52 
L 419.1 398.09 
L 420.6 397.28 
L 422.1 397.82 
L 423.6 397.65 
L 425.1 397.90 
L 426.6 398.60 
L 428.1 398.59 
L 431.1 398.19 
L 434.1 396.88 
L 437.1 397.92 
L 438.6 397.69 
L 440.1 398.20 
L 441.6 398.53 
L 443.1 398.34 
L 444.6 397.66 
L 446.1 397.25 
L 447.6 397.36 
L 449.1 397.70 
L 452.1 397.89 
L 453.6 397.29 
L 455.1 398.02 
L 456.6 398.31 
L 458.1 397.91 
L 459.6 398.23 
L 461.1 397.86 
L 462.6 397.18 
L 464.1 397.44 
L 465.6 398.23 
L 467.1 397.89 
L 468.6 397.97 
L 470.1 398.39 
L 471.6 397.90 
L 474.6 397.58 
L 476.1 397.80 
L 477.6 397.24 
L 479.1 397.39 
L 480.6 397.33 
L 482.1 397.89 
L 483.6 397.15 
L 488.1 397.60 
L 489.6 398.20 
L 491.1 398.33 
L 494.1 397.56 
L 495.6 397.36 
L 497.1 397.80 
L 498.6 397.60 
L 500.1 398.19 
L 501.6 397.63 
L 503.1 397.39 
L 506.1 397.35 
L 507.6 397.49 
L 509.1 396.91 
L 510.6 397.04 
L 512.1 397.44 
L 513.6 397.58 
L 516.6 398.25 
L 518.1 397.93 
L 519.6 397.46 
L 521.1 397.77 
L 521.1 397.77 
" clip-path="url(#pecb8b56a60)" style="fill: none; stroke: #f0b0f0; stroke-width: 1.75; stroke-linecap: square"/>
   </g>
   <g id="line2d_69">
    <path d="M 71.1 647.02 
L 72.6 647.02 
L 74.1 642.07 
L 80.1 606.28 
L 81.6 600.81 
L 83.1 597.71 
L 84.6 597.39 
L 86.1 583.62 
L 87.6 566.75 
L 89.1 568.73 
L 90.6 581.52 
L 92.1 573.25 
L 93.6 555.77 
L 95.1 559.04 
L 96.6 557.32 
L 98.1 558.07 
L 99.6 557.89 
L 101.1 547.06 
L 102.6 540.81 
L 104.1 540.65 
L 105.6 539.93 
L 107.1 536.33 
L 108.6 529.24 
L 110.1 525.77 
L 111.6 523.55 
L 113.1 515.90 
L 114.6 513.07 
L 116.1 511.24 
L 117.6 514.39 
L 119.1 521.71 
L 120.6 515.49 
L 122.1 516.78 
L 123.6 504.41 
L 125.1 493.53 
L 126.6 496.99 
L 128.1 504.40 
L 129.6 501.67 
L 131.1 503.22 
L 132.6 499.12 
L 134.1 492.68 
L 135.6 485.27 
L 137.1 484.96 
L 138.6 481.81 
L 140.1 478.02 
L 141.6 476.29 
L 143.1 480.39 
L 144.6 491.78 
L 146.1 480.90 
L 147.6 476.21 
L 149.1 479.81 
L 150.6 480.06 
L 152.1 479.99 
L 153.6 479.78 
L 155.1 475.84 
L 156.6 472.91 
L 158.1 464.44 
L 159.6 464.68 
L 161.1 465.52 
L 162.6 455.99 
L 164.1 468.36 
L 165.6 470.59 
L 167.1 470.58 
L 168.6 467.69 
L 170.1 461.10 
L 171.6 457.15 
L 174.6 462.28 
L 176.1 458.64 
L 177.6 456.46 
L 179.1 456.80 
L 180.6 456.87 
L 182.1 449.71 
L 183.6 450.72 
L 185.1 449.92 
L 186.6 452.75 
L 188.1 454.96 
L 189.6 449.00 
L 191.1 452.46 
L 192.6 455.61 
L 194.1 451.42 
L 195.6 448.77 
L 197.1 448.63 
L 198.6 440.88 
L 200.1 442.74 
L 201.6 449.52 
L 203.1 437.40 
L 204.6 439.06 
L 206.1 441.36 
L 207.6 439.14 
L 209.1 442.20 
L 210.6 440.59 
L 212.1 443.45 
L 213.6 438.57 
L 215.1 438.01 
L 216.6 443.83 
L 218.1 441.92 
L 219.6 435.34 
L 221.1 439.29 
L 222.6 443.72 
L 224.1 434.31 
L 225.6 430.32 
L 227.1 428.78 
L 228.6 431.01 
L 230.1 429.36 
L 231.6 425.71 
L 233.1 435.14 
L 234.6 436.17 
L 236.1 426.98 
L 237.6 430.78 
L 239.1 431.25 
L 240.6 432.86 
L 243.6 430.52 
L 245.1 427.05 
L 246.6 424.64 
L 248.1 426.35 
L 249.6 425.44 
L 251.1 423.05 
L 252.6 423.19 
L 254.1 424.03 
L 255.6 422.12 
L 257.1 419.03 
L 258.6 416.22 
L 260.1 420.03 
L 261.6 428.12 
L 263.1 428.82 
L 264.6 425.13 
L 266.1 421.81 
L 267.6 416.26 
L 269.1 419.26 
L 270.6 419.75 
L 272.1 423.71 
L 273.6 418.92 
L 275.1 415.23 
L 276.6 414.89 
L 278.1 419.10 
L 279.6 421.19 
L 281.1 421.44 
L 284.1 416.19 
L 285.6 416.93 
L 287.1 413.43 
L 288.6 414.95 
L 290.1 418.68 
L 291.6 420.67 
L 293.1 416.98 
L 294.6 413.79 
L 296.1 411.06 
L 297.6 413.85 
L 299.1 412.84 
L 300.6 412.84 
L 302.1 414.94 
L 303.6 414.13 
L 305.1 412.06 
L 306.6 411.95 
L 308.1 410.27 
L 309.6 409.52 
L 311.1 413.05 
L 312.6 411.88 
L 314.1 408.53 
L 315.6 410.25 
L 317.1 411.68 
L 318.6 409.27 
L 320.1 409.16 
L 321.6 411.37 
L 323.1 410.28 
L 324.6 409.64 
L 326.1 410.20 
L 327.6 410.18 
L 329.1 408.53 
L 330.6 407.61 
L 332.1 408.03 
L 333.6 409.68 
L 335.1 409.05 
L 336.6 406.15 
L 338.1 405.04 
L 341.1 410.58 
L 342.6 408.26 
L 344.1 407.22 
L 345.6 405.97 
L 347.1 403.82 
L 348.6 405.57 
L 350.1 405.86 
L 351.6 404.88 
L 353.1 405.60 
L 354.6 405.84 
L 356.1 406.36 
L 357.6 405.13 
L 359.1 405.75 
L 360.6 405.98 
L 362.1 404.48 
L 363.6 403.59 
L 365.1 404.14 
L 366.6 404.24 
L 368.1 404.46 
L 369.6 402.71 
L 371.1 402.97 
L 372.6 403.50 
L 374.1 403.20 
L 377.1 403.97 
L 378.6 402.24 
L 380.1 402.51 
L 381.6 402.31 
L 383.1 403.29 
L 384.6 403.79 
L 386.1 402.50 
L 387.6 402.75 
L 389.1 402.27 
L 390.6 401.33 
L 392.1 401.54 
L 395.1 401.34 
L 396.6 400.96 
L 398.1 401.09 
L 399.6 400.52 
L 401.1 400.53 
L 402.6 401.48 
L 404.1 401.40 
L 405.6 401.91 
L 407.1 401.71 
L 410.1 400.69 
L 411.6 400.70 
L 413.1 400.90 
L 414.6 399.86 
L 416.1 400.63 
L 417.6 401.01 
L 419.1 400.67 
L 420.6 399.98 
L 423.6 400.04 
L 425.1 400.48 
L 426.6 399.77 
L 428.1 399.97 
L 429.6 400.65 
L 432.6 400.97 
L 434.1 401.00 
L 435.6 400.74 
L 437.1 400.00 
L 438.6 399.78 
L 440.1 399.94 
L 441.6 398.88 
L 443.1 398.64 
L 446.1 399.29 
L 449.1 400.03 
L 450.6 400.93 
L 452.1 400.93 
L 453.6 399.85 
L 455.1 399.28 
L 456.6 399.31 
L 458.1 400.69 
L 459.6 400.53 
L 461.1 399.50 
L 462.6 399.58 
L 464.1 399.25 
L 465.6 399.53 
L 467.1 400.37 
L 468.6 399.48 
L 470.1 399.71 
L 471.6 398.98 
L 473.1 398.97 
L 474.6 399.62 
L 476.1 399.27 
L 477.6 399.61 
L 479.1 400.24 
L 480.6 399.30 
L 482.1 399.48 
L 483.6 399.92 
L 485.1 399.43 
L 486.6 399.33 
L 488.1 398.45 
L 489.6 399.33 
L 491.1 399.76 
L 492.6 398.52 
L 494.1 398.11 
L 495.6 398.70 
L 497.1 399.42 
L 498.6 399.42 
L 500.1 399.82 
L 501.6 398.99 
L 504.6 399.83 
L 506.1 399.18 
L 507.6 399.75 
L 510.6 399.25 
L 512.1 399.39 
L 513.6 399.94 
L 516.6 398.08 
L 518.1 398.65 
L 519.6 399.39 
L 521.1 399.28 
L 521.1 399.28 
" clip-path="url(#pecb8b56a60)" style="fill: none; stroke: #ffe600; stroke-width: 1.75; stroke-linecap: square"/>
   </g>
   <g id="line2d_70">
    <path d="M 71.1 615.45 
L 72.6 609.48 
L 74.1 607.56 
L 75.6 604.47 
L 77.1 591.73 
L 78.6 586.44 
L 80.1 578.69 
L 81.6 582.30 
L 83.1 572.47 
L 84.6 558.67 
L 86.1 557.13 
L 87.6 556.45 
L 89.1 548.63 
L 92.1 536.18 
L 93.6 529.01 
L 95.1 533.54 
L 96.6 532.34 
L 98.1 520.81 
L 99.6 523.13 
L 101.1 526.58 
L 102.6 521.22 
L 104.1 520.84 
L 105.6 513.70 
L 107.1 504.70 
L 108.6 502.63 
L 110.1 502.41 
L 111.6 508.04 
L 113.1 507.55 
L 114.6 496.51 
L 116.1 497.26 
L 117.6 496.60 
L 119.1 488.66 
L 120.6 484.72 
L 122.1 487.20 
L 123.6 488.14 
L 125.1 489.38 
L 126.6 481.79 
L 128.1 479.06 
L 129.6 476.60 
L 131.1 474.73 
L 132.6 477.83 
L 134.1 486.73 
L 135.6 473.98 
L 137.1 475.43 
L 138.6 470.18 
L 140.1 474.83 
L 141.6 471.07 
L 143.1 469.97 
L 144.6 468.45 
L 146.1 466.00 
L 147.6 465.53 
L 149.1 461.46 
L 150.6 458.36 
L 152.1 456.83 
L 153.6 455.77 
L 155.1 459.22 
L 156.6 457.65 
L 158.1 449.31 
L 159.6 453.24 
L 161.1 453.48 
L 162.6 445.11 
L 164.1 452.81 
L 165.6 454.95 
L 168.6 449.54 
L 170.1 450.00 
L 171.6 450.21 
L 173.1 449.47 
L 174.6 446.02 
L 176.1 446.81 
L 177.6 445.05 
L 179.1 445.57 
L 180.6 448.72 
L 182.1 450.05 
L 183.6 445.53 
L 185.1 442.09 
L 186.6 440.36 
L 188.1 436.03 
L 189.6 441.11 
L 191.1 438.15 
L 192.6 435.74 
L 194.1 442.07 
L 195.6 442.20 
L 197.1 435.82 
L 198.6 436.53 
L 200.1 439.00 
L 201.6 438.21 
L 203.1 439.10 
L 204.6 436.70 
L 206.1 433.25 
L 207.6 433.99 
L 209.1 431.31 
L 210.6 428.94 
L 212.1 430.09 
L 213.6 432.58 
L 215.1 432.75 
L 216.6 430.81 
L 218.1 427.53 
L 219.6 427.00 
L 221.1 427.61 
L 222.6 431.82 
L 224.1 432.37 
L 225.6 430.28 
L 227.1 427.02 
L 228.6 425.61 
L 230.1 422.40 
L 231.6 422.12 
L 233.1 428.32 
L 234.6 427.73 
L 236.1 423.23 
L 237.6 419.44 
L 239.1 421.18 
L 240.6 426.03 
L 242.1 426.95 
L 243.6 426.74 
L 245.1 421.26 
L 246.6 415.26 
L 249.6 420.17 
L 251.1 419.89 
L 252.6 415.62 
L 254.1 419.29 
L 255.6 420.73 
L 257.1 419.77 
L 258.6 419.42 
L 260.1 420.02 
L 261.6 417.65 
L 263.1 416.85 
L 264.6 415.00 
L 266.1 415.08 
L 267.6 419.95 
L 269.1 418.13 
L 270.6 415.17 
L 273.6 415.26 
L 275.1 416.68 
L 276.6 416.48 
L 279.6 413.16 
L 281.1 411.13 
L 282.6 410.43 
L 284.1 410.01 
L 285.6 408.86 
L 287.1 409.86 
L 288.6 412.23 
L 290.1 411.71 
L 291.6 413.47 
L 294.6 410.64 
L 296.1 411.14 
L 297.6 412.05 
L 299.1 409.98 
L 300.6 408.65 
L 302.1 409.72 
L 303.6 409.49 
L 305.1 408.68 
L 308.1 406.01 
L 309.6 408.36 
L 311.1 408.51 
L 312.6 409.06 
L 314.1 409.11 
L 315.6 407.39 
L 317.1 404.31 
L 318.6 405.14 
L 320.1 407.71 
L 321.6 406.88 
L 323.1 406.68 
L 324.6 406.28 
L 326.1 405.70 
L 327.6 404.88 
L 329.1 404.80 
L 330.6 405.04 
L 332.1 405.45 
L 333.6 405.71 
L 336.6 405.57 
L 338.1 404.09 
L 339.6 403.51 
L 341.1 404.54 
L 342.6 403.92 
L 344.1 403.94 
L 345.6 404.23 
L 347.1 404.24 
L 348.6 403.67 
L 350.1 404.18 
L 351.6 404.10 
L 353.1 403.12 
L 354.6 402.57 
L 356.1 402.97 
L 357.6 402.33 
L 359.1 401.30 
L 360.6 401.22 
L 363.6 403.09 
L 365.1 401.34 
L 366.6 400.77 
L 368.1 400.62 
L 369.6 400.71 
L 371.1 400.33 
L 372.6 401.30 
L 374.1 401.23 
L 378.6 398.91 
L 380.1 399.45 
L 381.6 399.20 
L 383.1 399.46 
L 386.1 398.60 
L 387.6 399.47 
L 389.1 400.12 
L 390.6 400.52 
L 392.1 398.84 
L 393.6 397.72 
L 395.1 397.24 
L 396.6 398.10 
L 398.1 398.62 
L 399.6 397.94 
L 401.1 397.55 
L 402.6 398.57 
L 404.1 398.73 
L 405.6 398.47 
L 407.1 398.88 
L 408.6 397.69 
L 411.6 397.38 
L 413.1 398.08 
L 414.6 398.35 
L 416.1 397.01 
L 417.6 396.67 
L 419.1 396.94 
L 420.6 397.99 
L 422.1 397.67 
L 423.6 397.00 
L 425.1 397.10 
L 426.6 398.19 
L 428.1 398.68 
L 429.6 398.12 
L 431.1 398.24 
L 432.6 398.06 
L 434.1 397.40 
L 435.6 397.07 
L 438.6 397.59 
L 440.1 397.48 
L 441.6 397.81 
L 443.1 397.31 
L 444.6 396.66 
L 446.1 397.94 
L 447.6 398.56 
L 449.1 398.09 
L 452.1 397.92 
L 453.6 397.22 
L 455.1 396.89 
L 456.6 397.22 
L 458.1 398.10 
L 459.6 397.54 
L 461.1 397.76 
L 462.6 397.29 
L 465.6 397.30 
L 467.1 396.99 
L 468.6 397.22 
L 470.1 398.36 
L 471.6 398.52 
L 473.1 397.91 
L 474.6 397.44 
L 476.1 397.62 
L 479.1 397.79 
L 480.6 397.43 
L 482.1 398.05 
L 483.6 397.78 
L 485.1 397.25 
L 486.6 397.81 
L 489.6 397.81 
L 491.1 396.93 
L 492.6 396.71 
L 495.6 397.44 
L 497.1 398.47 
L 500.1 398.21 
L 503.1 397.02 
L 504.6 397.24 
L 506.1 397.07 
L 507.6 397.74 
L 509.1 397.38 
L 510.6 397.25 
L 512.1 398.19 
L 513.6 397.49 
L 515.1 397.65 
L 516.6 397.56 
L 518.1 397.68 
L 519.6 397.92 
L 521.1 397.76 
L 521.1 397.76 
" clip-path="url(#pecb8b56a60)" style="fill: none; stroke: #b8b8b8; stroke-width: 1.75; stroke-linecap: square"/>
   </g>
   <g id="line2d_71">
    <path d="M 71.1 647.02 
L 72.6 647.02 
L 74.1 639.44 
L 75.6 624.29 
L 78.6 599.02 
L 80.1 587.59 
L 81.6 582.26 
L 83.1 587.47 
L 84.6 574.00 
L 86.1 555.37 
L 87.6 548.71 
L 89.1 544.86 
L 90.6 533.15 
L 92.1 535.40 
L 93.6 534.49 
L 95.1 534.44 
L 96.6 533.28 
L 98.1 528.73 
L 99.6 526.07 
L 101.1 510.85 
L 102.6 507.42 
L 105.6 498.82 
L 107.1 506.75 
L 108.6 509.05 
L 110.1 505.76 
L 111.6 509.26 
L 113.1 499.64 
L 114.6 505.71 
L 116.1 498.57 
L 117.6 483.22 
L 119.1 484.99 
L 120.6 500.66 
L 122.1 497.28 
L 123.6 492.58 
L 125.1 489.74 
L 126.6 481.54 
L 128.1 485.44 
L 129.6 473.39 
L 131.1 478.56 
L 132.6 474.53 
L 134.1 475.75 
L 135.6 476.05 
L 137.1 475.64 
L 138.6 469.07 
L 140.1 466.41 
L 141.6 467.62 
L 143.1 469.35 
L 144.6 467.10 
L 146.1 469.04 
L 147.6 464.16 
L 149.1 471.24 
L 150.6 464.60 
L 152.1 463.76 
L 153.6 465.89 
L 155.1 475.38 
L 156.6 468.75 
L 158.1 461.46 
L 159.6 451.33 
L 161.1 450.48 
L 162.6 461.67 
L 164.1 460.09 
L 165.6 450.37 
L 167.1 451.11 
L 168.6 446.26 
L 170.1 448.51 
L 171.6 445.90 
L 173.1 444.29 
L 174.6 452.22 
L 176.1 455.52 
L 177.6 450.15 
L 179.1 450.17 
L 180.6 448.27 
L 183.6 445.51 
L 185.1 440.56 
L 186.6 442.39 
L 188.1 451.31 
L 189.6 446.42 
L 191.1 444.01 
L 192.6 442.78 
L 194.1 439.50 
L 195.6 441.66 
L 197.1 438.38 
L 198.6 433.78 
L 200.1 437.46 
L 201.6 439.38 
L 203.1 439.79 
L 204.6 436.90 
L 206.1 429.52 
L 207.6 434.18 
L 209.1 428.43 
L 210.6 431.41 
L 212.1 433.40 
L 213.6 433.69 
L 215.1 433.27 
L 216.6 432.13 
L 218.1 432.19 
L 219.6 432.54 
L 221.1 429.10 
L 222.6 427.08 
L 224.1 428.63 
L 225.6 422.59 
L 227.1 424.69 
L 228.6 427.93 
L 230.1 423.41 
L 231.6 423.05 
L 234.6 427.50 
L 236.1 428.59 
L 237.6 424.56 
L 239.1 424.31 
L 240.6 421.02 
L 242.1 421.08 
L 243.6 420.97 
L 245.1 418.79 
L 246.6 419.85 
L 248.1 422.08 
L 249.6 416.91 
L 252.6 415.64 
L 254.1 415.00 
L 255.6 416.49 
L 257.1 415.22 
L 258.6 417.92 
L 260.1 416.38 
L 261.6 416.53 
L 263.1 417.27 
L 264.6 416.54 
L 266.1 413.83 
L 267.6 409.81 
L 269.1 408.01 
L 270.6 413.02 
L 272.1 408.77 
L 273.6 408.99 
L 275.1 412.31 
L 276.6 414.32 
L 278.1 410.93 
L 281.1 408.71 
L 282.6 407.08 
L 284.1 407.00 
L 285.6 407.18 
L 287.1 405.08 
L 288.6 404.24 
L 290.1 409.12 
L 291.6 409.55 
L 293.1 403.90 
L 294.6 403.81 
L 296.1 401.96 
L 297.6 403.01 
L 299.1 406.69 
L 300.6 408.60 
L 302.1 404.70 
L 303.6 401.20 
L 305.1 402.50 
L 306.6 401.54 
L 308.1 398.19 
L 309.6 399.95 
L 311.1 399.70 
L 312.6 400.48 
L 314.1 397.02 
L 315.6 399.65 
L 317.1 400.05 
L 318.6 400.29 
L 320.1 399.27 
L 321.6 398.54 
L 323.1 398.74 
L 324.6 398.60 
L 327.6 399.77 
L 329.1 399.11 
L 332.1 397.14 
L 333.6 399.67 
L 335.1 398.92 
L 336.6 395.97 
L 338.1 394.46 
L 339.6 395.13 
L 341.1 395.09 
L 342.6 396.46 
L 344.1 396.22 
L 345.6 395.58 
L 347.1 395.24 
L 348.6 395.81 
L 350.1 393.69 
L 351.6 392.78 
L 353.1 394.08 
L 354.6 392.24 
L 356.1 392.35 
L 357.6 392.86 
L 359.1 391.69 
L 362.1 391.05 
L 363.6 390.95 
L 365.1 390.46 
L 368.1 389.85 
L 369.6 390.01 
L 371.1 389.75 
L 374.1 388.92 
L 375.6 390.06 
L 377.1 390.18 
L 380.1 389.07 
L 381.6 388.62 
L 383.1 388.91 
L 384.6 388.38 
L 386.1 387.58 
L 387.6 388.05 
L 389.1 388.72 
L 390.6 388.99 
L 393.6 388.05 
L 395.1 387.33 
L 396.6 387.18 
L 398.1 388.00 
L 399.6 387.81 
L 401.1 387.08 
L 402.6 386.21 
L 404.1 386.24 
L 405.6 386.46 
L 407.1 386.97 
L 408.6 386.77 
L 410.1 385.47 
L 411.6 386.40 
L 413.1 387.02 
L 414.6 387.03 
L 416.1 386.77 
L 417.6 386.79 
L 419.1 385.71 
L 420.6 385.76 
L 422.1 385.40 
L 425.1 385.47 
L 426.6 386.03 
L 428.1 386.11 
L 429.6 385.18 
L 431.1 384.84 
L 432.6 385.89 
L 434.1 385.99 
L 435.6 384.24 
L 437.1 384.00 
L 438.6 385.02 
L 440.1 385.37 
L 441.6 384.82 
L 443.1 384.70 
L 444.6 383.92 
L 446.1 384.14 
L 447.6 385.43 
L 449.1 385.31 
L 450.6 384.64 
L 452.1 384.30 
L 453.6 383.83 
L 456.6 383.88 
L 458.1 384.89 
L 459.6 384.33 
L 461.1 384.28 
L 464.1 384.36 
L 467.1 383.91 
L 470.1 384.08 
L 471.6 383.91 
L 473.1 384.73 
L 474.6 384.45 
L 476.1 383.81 
L 479.1 384.46 
L 482.1 383.87 
L 483.6 383.92 
L 485.1 384.34 
L 486.6 383.81 
L 491.1 383.81 
L 492.6 384.19 
L 494.1 384.70 
L 495.6 384.18 
L 497.1 383.88 
L 498.6 383.98 
L 500.1 383.81 
L 501.6 383.81 
L 503.1 384.06 
L 504.6 383.81 
L 506.1 383.81 
L 507.6 384.22 
L 509.1 383.81 
L 510.6 384.38 
L 512.1 384.67 
L 513.6 383.81 
L 521.1 383.91 
L 521.1 383.91 
" clip-path="url(#pecb8b56a60)" style="fill: none; stroke: #ff0000; stroke-width: 1.75; stroke-linecap: square"/>
   </g>
   <g id="patch_15">
    <path d="M 48.6 660.18 
L 48.6 370.65 
" style="fill: none; stroke: #000000; stroke-width: 0.8; stroke-linejoin: miter; stroke-linecap: square"/>
   </g>
   <g id="patch_16">
    <path d="M 543.6 660.18 
L 543.6 370.65 
" style="fill: none; stroke: #000000; stroke-width: 0.8; stroke-linejoin: miter; stroke-linecap: square"/>
   </g>
   <g id="patch_17">
    <path d="M 48.6 660.18 
L 543.6 660.18 
" style="fill: none; stroke: #000000; stroke-width: 0.8; stroke-linejoin: miter; stroke-linecap: square"/>
   </g>
   <g id="patch_18">
    <path d="M 48.6 370.65 
L 543.6 370.65 
" style="fill: none; stroke: #000000; stroke-width: 0.8; stroke-linejoin: miter; stroke-linecap: square"/>
   </g>
   <g id="text_62">
    <text style="font-size: 12px; font-family: 'DejaVu Sans'; text-anchor: middle" x="296.1" y="364.65" transform="rotate(-0 296.1 364.65)">mAP@50</text>
   </g>
   <g id="legend_3">
    <g id="patch_19">
     <path d="M 433.90 656.40 
L 536.6 656.40 
Q 538.6 656.40 538.6 654.40 
L 538.6 567.33 
Q 538.6 565.33 536.6 565.33 
L 433.90 565.33 
Q 431.90 565.33 431.90 567.33 
L 431.90 654.40 
Q 431.90 656.40 433.90 656.40 
z
" style="fill: #ffffff; opacity: 0.8; stroke: #cccccc; stroke-linejoin: miter"/>
    </g>
    <g id="line2d_72">
     <path d="M 435.90 573.43 
L 445.90 573.43 
L 455.90 573.43 
" style="fill: none; stroke: #10d0f0; stroke-width: 1.75; stroke-linecap: square"/>
    </g>
    <g id="text_63">
     <text style="font-size: 10px; font-family: 'DejaVu Sans'; text-anchor: start" x="463.90" y="576.93" transform="rotate(-0 463.90 576.93)">YOLOv5n</text>
    </g>
    <g id="line2d_73">
     <path d="M 435.90 588.10 
L 445.90 588.10 
L 455.90 588.10 
" style="fill: none; stroke: #30e880; stroke-width: 1.75; stroke-linecap: square"/>
    </g>
    <g id="text_64">
     <text style="font-size: 10px; font-family: 'DejaVu Sans'; text-anchor: start" x="463.90" y="591.60" transform="rotate(-0 463.90 591.60)">YOLOv8n</text>
    </g>
    <g id="line2d_74">
     <path d="M 435.90 602.78 
L 445.90 602.78 
L 455.90 602.78 
" style="fill: none; stroke: #f0b0f0; stroke-width: 1.75; stroke-linecap: square"/>
    </g>
    <g id="text_65">
     <text style="font-size: 10px; font-family: 'DejaVu Sans'; text-anchor: start" x="463.90" y="606.28" transform="rotate(-0 463.90 606.28)">YOLOv9t</text>
    </g>
    <g id="line2d_75">
     <path d="M 435.90 617.46 
L 445.90 617.46 
L 455.90 617.46 
" style="fill: none; stroke: #ffe600; stroke-width: 1.75; stroke-linecap: square"/>
    </g>
    <g id="text_66">
     <text style="font-size: 10px; font-family: 'DejaVu Sans'; text-anchor: start" x="463.90" y="620.96" transform="rotate(-0 463.90 620.96)">YOLOv10n</text>
    </g>
    <g id="line2d_76">
     <path d="M 435.90 632.14 
L 445.90 632.14 
L 455.90 632.14 
" style="fill: none; stroke: #b8b8b8; stroke-width: 1.75; stroke-linecap: square"/>
    </g>
    <g id="text_67">
     <text style="font-size: 10px; font-family: 'DejaVu Sans'; text-anchor: start" x="463.90" y="635.64" transform="rotate(-0 463.90 635.64)">YOLOv11n</text>
    </g>
    <g id="line2d_77">
     <path d="M 435.90 646.82 
L 445.90 646.82 
L 455.90 646.82 
" style="fill: none; stroke: #ff0000; stroke-width: 1.75; stroke-linecap: square"/>
    </g>
    <g id="text_68">
     <text style="font-size: 10px; font-family: 'DejaVu Sans'; text-anchor: start" x="463.90" y="650.32" transform="rotate(-0 463.90 650.32)">YOLOv11-EMC</text>
    </g>
   </g>
  </g>
  <g id="axes_4">
   <g id="patch_20">
    <path d="M 593 660.18 
L 1088.4 660.18 
L 1088.4 370.65 
L 593 370.65 
z
" style="fill: #ffffff"/>
   </g>
   <g id="matplotlib.axis_7">
    <g id="xtick_22">
     <g id="line2d_78">
      <g>
       <path d="M 615.52 660.19 L 615.52 663.69" style="stroke: #000000; stroke-width: 0.8"/>
      </g>
     </g>
     <g id="text_69">
      <text style="font-size: 10px; font-family: 'DejaVu Sans'; text-anchor: middle" x="615.51" y="674.78" transform="rotate(-0 615.51 674.78)">0</text>
     </g>
    </g>
    <g id="xtick_23">
     <g id="line2d_79">
      <g>
       <path d="M 690.58 660.19 L 690.58 663.69" style="stroke: #000000; stroke-width: 0.8"/>
      </g>
     </g>
     <g id="text_70">
      <text style="font-size: 10px; font-family: 'DejaVu Sans'; text-anchor: middle" x="690.57" y="674.78" transform="rotate(-0 690.57 674.78)">50</text>
     </g>
    </g>
    <g id="xtick_24">
     <g id="line2d_80">
      <g>
       <path d="M 765.64 660.19 L 765.64 663.69" style="stroke: #000000; stroke-width: 0.8"/>
      </g>
     </g>
     <g id="text_71">
      <text style="font-size: 10px; font-family: 'DejaVu Sans'; text-anchor: middle" x="765.63" y="674.78" transform="rotate(-0 765.63 674.78)">100</text>
     </g>
    </g>
    <g id="xtick_25">
     <g id="line2d_81">
      <g>
       <path d="M 840.70 660.19 L 840.70 663.69" style="stroke: #000000; stroke-width: 0.8"/>
      </g>
     </g>
     <g id="text_72">
      <text style="font-size: 10px; font-family: 'DejaVu Sans'; text-anchor: middle" x="840.7" y="674.78" transform="rotate(-0 840.7 674.78)">150</text>
     </g>
    </g>
    <g id="xtick_26">
     <g id="line2d_82">
      <g>
       <path d="M 915.76 660.19 L 915.76 663.69" style="stroke: #000000; stroke-width: 0.8"/>
      </g>
     </g>
     <g id="text_73">
      <text style="font-size: 10px; font-family: 'DejaVu Sans'; text-anchor: middle" x="915.76" y="674.78" transform="rotate(-0 915.76 674.78)">200</text>
     </g>
    </g>
    <g id="xtick_27">
     <g id="line2d_83">
      <g>
       <path d="M 990.82 660.19 L 990.82 663.69" style="stroke: #000000; stroke-width: 0.8"/>
      </g>
     </g>
     <g id="text_74">
      <text style="font-size: 10px; font-family: 'DejaVu Sans'; text-anchor: middle" x="990.82" y="674.78" transform="rotate(-0 990.82 674.78)">250</text>
     </g>
    </g>
    <g id="xtick_28">
     <g id="line2d_84">
      <g>
       <path d="M 1065.88 660.19 L 1065.88 663.69" style="stroke: #000000; stroke-width: 0.8"/>
      </g>
     </g>
     <g id="text_75">
      <text style="font-size: 10px; font-family: 'DejaVu Sans'; text-anchor: middle" x="1065.88" y="674.78" transform="rotate(-0 1065.88 674.78)">300</text>
     </g>
    </g>
    <g id="text_76">
     <text style="font-size: 10px; font-family: 'DejaVu Sans'; text-anchor: middle" x="840.7" y="688.46" transform="rotate(-0 840.7 688.46)">Epochs</text>
    </g>
   </g>
   <g id="matplotlib.axis_8">
    <g id="ytick_21">
     <g id="line2d_85">
      <g>
       <path d="M 593.00 647.03 L 589.50 647.03" style="stroke: #000000; stroke-width: 0.8"/>
      </g>
     </g>
     <g id="text_77">
      <text style="font-size: 10px; font-family: 'DejaVu Sans'; text-anchor: end" x="586" y="650.82" transform="rotate(-0 586 650.82)">0.0</text>
     </g>
    </g>
    <g id="ytick_22">
     <g id="line2d_86">
      <g>
       <path d="M 593.00 586.31 L 589.50 586.31" style="stroke: #000000; stroke-width: 0.8"/>
      </g>
     </g>
     <g id="text_78">
      <text style="font-size: 10px; font-family: 'DejaVu Sans'; text-anchor: end" x="586" y="590.10" transform="rotate(-0 586 590.10)">0.1</text>
     </g>
    </g>
    <g id="ytick_23">
     <g id="line2d_87">
      <g>
       <path d="M 593.00 525.59 L 589.50 525.59" style="stroke: #000000; stroke-width: 0.8"/>
      </g>
     </g>
     <g id="text_79">
      <text style="font-size: 10px; font-family: 'DejaVu Sans'; text-anchor: end" x="586" y="529.39" transform="rotate(-0 586 529.39)">0.2</text>
     </g>
    </g>
    <g id="ytick_24">
     <g id="line2d_88">
      <g>
       <path d="M 593.00 464.87 L 589.50 464.87" style="stroke: #000000; stroke-width: 0.8"/>
      </g>
     </g>
     <g id="text_80">
      <text style="font-size: 10px; font-family: 'DejaVu Sans'; text-anchor: end" x="586" y="468.67" transform="rotate(-0 586 468.67)">0.3</text>
     </g>
    </g>
    <g id="ytick_25">
     <g id="line2d_89">
      <g>
       <path d="M 593.00 404.16 L 589.50 404.16" style="stroke: #000000; stroke-width: 0.8"/>
      </g>
     </g>
     <g id="text_81">
      <text style="font-size: 10px; font-family: 'DejaVu Sans'; text-anchor: end" x="586" y="407.95" transform="rotate(-0 586 407.95)">0.4</text>
     </g>
    </g>
    <g id="text_82">
     <text style="font-size: 10px; font-family: 'DejaVu Sans'; text-anchor: middle" x="564.01" y="515.42" transform="rotate(-90 564.01 515.42)">mAP@50-95</text>
    </g>
   </g>
   <g id="line2d_90">
    <path d="M 615.51 580.23 
L 617.01 580.78 
L 618.52 580.70 
L 620.02 591.20 
L 621.52 596.00 
L 623.02 599.34 
L 624.52 587.91 
L 627.52 539.97 
L 629.02 528.98 
L 630.53 524.51 
L 632.03 531.02 
L 633.53 531.97 
L 635.03 532.26 
L 638.03 520.17 
L 639.53 521.61 
L 642.54 514.29 
L 645.54 508.14 
L 647.04 501.56 
L 648.54 503.53 
L 650.04 506.87 
L 651.54 504.30 
L 653.04 500.92 
L 654.54 502.50 
L 656.05 499.03 
L 657.55 496.32 
L 659.05 498.80 
L 660.55 488.57 
L 662.05 487.18 
L 663.55 488.95 
L 665.05 494.82 
L 666.55 494.73 
L 668.06 483.49 
L 669.56 482.32 
L 671.06 487.21 
L 672.56 484.84 
L 674.06 475.44 
L 675.56 475.22 
L 677.06 477.66 
L 678.56 479.81 
L 680.07 476.03 
L 681.57 477.67 
L 683.07 482.04 
L 684.57 482.81 
L 686.07 470.22 
L 687.57 474.86 
L 689.07 475.93 
L 690.57 468.38 
L 692.08 462.97 
L 693.58 462.92 
L 695.08 468.32 
L 696.58 469.33 
L 698.08 464.63 
L 699.58 461.37 
L 701.08 466.24 
L 702.58 469.32 
L 704.08 467.05 
L 705.59 451.39 
L 707.09 454.81 
L 708.59 457.73 
L 710.09 459.13 
L 711.59 460.82 
L 713.09 463.82 
L 714.59 465.80 
L 716.09 461.22 
L 717.60 455.28 
L 719.10 453.34 
L 720.60 451.11 
L 722.10 453.21 
L 723.60 445.45 
L 725.10 444.63 
L 726.60 440.88 
L 729.61 450.99 
L 731.11 448.01 
L 732.61 448.88 
L 734.11 447.15 
L 737.11 438.23 
L 738.61 438.81 
L 740.11 438.54 
L 741.62 440.55 
L 743.12 443.42 
L 744.62 440.87 
L 746.12 435.83 
L 747.62 428.50 
L 749.12 431.43 
L 750.62 435.65 
L 752.12 437.21 
L 753.62 432.70 
L 755.13 428.58 
L 756.63 426.26 
L 758.13 436.51 
L 759.63 435.59 
L 761.13 429.94 
L 762.63 426.51 
L 764.13 425.66 
L 765.63 429.41 
L 767.14 426.87 
L 768.64 429.40 
L 770.14 423.42 
L 771.64 420.38 
L 773.14 422.05 
L 774.64 422.53 
L 776.14 420.14 
L 777.64 422.88 
L 779.15 421.89 
L 780.65 416.74 
L 782.15 417.23 
L 783.65 419.36 
L 785.15 418.30 
L 786.65 421.94 
L 788.15 423.87 
L 789.65 417.80 
L 791.16 415.48 
L 792.66 420.22 
L 794.16 421.15 
L 795.66 410.95 
L 797.16 411.93 
L 798.66 414.47 
L 800.16 415.83 
L 801.66 413.18 
L 803.16 413.55 
L 804.67 416.29 
L 807.67 413.30 
L 809.17 413.27 
L 810.67 409.55 
L 812.17 410.17 
L 813.67 412.42 
L 815.17 410.87 
L 816.68 413.29 
L 818.18 412.34 
L 819.68 404.67 
L 821.18 405.69 
L 822.68 410.00 
L 824.18 411.38 
L 825.68 408.49 
L 827.18 410.72 
L 828.69 409.91 
L 830.19 409.23 
L 831.69 411.79 
L 833.19 409.48 
L 834.69 406.33 
L 836.19 404.27 
L 837.69 405.13 
L 839.19 404.37 
L 840.7 405.63 
L 842.20 405.96 
L 843.70 405.71 
L 845.20 403.31 
L 846.70 402.61 
L 848.20 403.22 
L 849.70 402.56 
L 851.20 403.43 
L 852.70 402.91 
L 854.21 403.23 
L 855.71 401.86 
L 857.21 402.36 
L 858.71 401.74 
L 860.21 400.85 
L 861.71 400.52 
L 863.21 400.98 
L 864.71 400.09 
L 866.22 399.64 
L 867.72 399.52 
L 869.22 399.79 
L 870.72 399.31 
L 872.22 399.08 
L 873.72 399.32 
L 875.22 398.13 
L 876.72 398.22 
L 878.23 398.13 
L 879.73 397.60 
L 881.23 398.07 
L 882.73 396.31 
L 884.23 397.25 
L 885.73 396.09 
L 887.23 397.56 
L 888.73 397.89 
L 890.24 396.87 
L 891.74 394.87 
L 893.24 395.68 
L 894.74 395.40 
L 896.24 394.61 
L 897.74 395.52 
L 900.74 395.14 
L 902.24 393.95 
L 906.75 394.69 
L 908.25 393.93 
L 909.75 394.20 
L 911.25 393.97 
L 912.75 394.46 
L 914.25 392.87 
L 915.76 392.53 
L 917.26 392.85 
L 918.76 392.47 
L 921.76 392.83 
L 923.26 392.65 
L 924.76 392.24 
L 927.77 391.58 
L 929.27 392.47 
L 930.77 392.57 
L 932.27 391.53 
L 933.77 391.94 
L 935.27 392.71 
L 936.77 392.03 
L 938.27 390.38 
L 939.78 389.83 
L 942.78 390.60 
L 944.28 390.32 
L 945.78 390.58 
L 947.28 389.56 
L 948.78 389.36 
L 950.28 390.00 
L 951.78 391.06 
L 953.29 391.26 
L 954.79 389.59 
L 956.29 389.51 
L 957.79 389.67 
L 959.29 389.46 
L 960.79 389.14 
L 962.29 389.95 
L 963.79 388.97 
L 965.30 388.42 
L 966.80 388.41 
L 968.30 388.77 
L 969.80 389.84 
L 971.30 388.90 
L 972.80 388.22 
L 974.30 387.86 
L 977.31 387.75 
L 978.81 387.99 
L 980.31 387.34 
L 983.31 387.04 
L 984.81 387.33 
L 986.31 388.06 
L 987.81 388.10 
L 989.32 388.30 
L 990.82 388.14 
L 992.32 387.16 
L 996.82 387.36 
L 998.32 386.47 
L 1001.32 386.46 
L 1002.83 386.75 
L 1004.33 387.17 
L 1005.83 388.07 
L 1007.33 387.84 
L 1008.83 386.92 
L 1010.33 386.42 
L 1011.83 386.94 
L 1014.84 387.24 
L 1017.84 387.00 
L 1019.34 387.07 
L 1020.84 386.88 
L 1022.34 387.10 
L 1025.34 387.09 
L 1032.85 386.44 
L 1034.35 386.74 
L 1035.85 387.38 
L 1037.35 387.50 
L 1038.86 387.01 
L 1040.36 387.20 
L 1041.86 387.24 
L 1043.36 386.57 
L 1044.86 386.68 
L 1046.36 387.46 
L 1049.36 386.62 
L 1050.86 386.22 
L 1052.37 386.09 
L 1053.87 386.69 
L 1055.37 387.49 
L 1056.87 387.44 
L 1059.87 386.29 
L 1061.37 386.51 
L 1064.38 386.30 
L 1065.88 387.20 
L 1065.88 387.20 
" clip-path="url(#pb3a19cb6d7)" style="fill: none; stroke: #10d0f0; stroke-width: 1.75; stroke-linecap: square"/>
   </g>
   <g id="line2d_91">
    <path d="M 615.51 616.66 
L 617.01 609.28 
L 618.52 610.59 
L 620.02 609.54 
L 621.52 605.20 
L 623.02 595.15 
L 624.52 593.10 
L 626.02 590.46 
L 627.52 583.34 
L 629.02 572.73 
L 630.53 572.62 
L 632.03 568.23 
L 633.53 558.90 
L 635.03 555.08 
L 636.53 556.65 
L 638.03 548.86 
L 639.53 544.21 
L 641.03 538.84 
L 642.54 539.19 
L 644.04 542.00 
L 645.54 532.94 
L 647.04 531.99 
L 648.54 529.75 
L 650.04 534.02 
L 651.54 532.72 
L 653.04 526.38 
L 654.54 522.54 
L 656.05 520.59 
L 657.55 522.99 
L 659.05 515.80 
L 660.55 514.00 
L 662.05 512.89 
L 663.55 508.14 
L 665.05 506.24 
L 666.55 507.27 
L 668.06 506.03 
L 669.56 501.81 
L 671.06 505.81 
L 672.56 503.05 
L 674.06 494.15 
L 675.56 497.30 
L 677.06 490.88 
L 678.56 491.70 
L 680.07 493.42 
L 681.57 488.65 
L 683.07 486.29 
L 684.57 487.88 
L 686.07 489.14 
L 687.57 483.31 
L 689.07 479.60 
L 690.57 482.65 
L 692.08 477.28 
L 693.58 478.32 
L 695.08 486.83 
L 696.58 488.57 
L 698.08 480.37 
L 699.58 474.59 
L 701.08 474.61 
L 702.58 473.35 
L 704.08 472.75 
L 705.59 473.19 
L 707.09 470.63 
L 708.59 467.77 
L 710.09 470.01 
L 711.59 467.49 
L 713.09 467.49 
L 714.59 467.13 
L 716.09 466.30 
L 717.60 467.03 
L 719.10 464.57 
L 720.60 463.33 
L 722.10 463.21 
L 723.60 459.63 
L 725.10 459.47 
L 726.60 461.58 
L 728.10 460.05 
L 729.61 463.31 
L 731.11 459.83 
L 732.61 458.14 
L 734.11 457.31 
L 735.61 449.28 
L 737.11 452.43 
L 738.61 454.33 
L 740.11 453.33 
L 741.62 452.11 
L 743.12 448.33 
L 744.62 448.42 
L 746.12 450.98 
L 747.62 449.13 
L 749.12 449.03 
L 750.62 449.66 
L 752.12 445.17 
L 753.62 443.99 
L 755.13 445.08 
L 756.63 441.92 
L 758.13 444.53 
L 759.63 445.50 
L 761.13 439.68 
L 762.63 444.01 
L 764.13 443.41 
L 765.63 437.39 
L 767.14 437.41 
L 768.64 440.67 
L 770.14 442.47 
L 771.64 439.93 
L 773.14 437.93 
L 774.64 439.69 
L 776.14 437.80 
L 777.64 437.77 
L 780.65 429.73 
L 782.15 428.14 
L 783.65 429.54 
L 785.15 433.10 
L 786.65 435.25 
L 788.15 434.95 
L 789.65 433.35 
L 791.16 433.08 
L 792.66 430.50 
L 794.16 432.94 
L 795.66 433.18 
L 797.16 432.06 
L 798.66 429.72 
L 800.16 428.20 
L 801.66 427.15 
L 803.16 427.26 
L 804.67 428.51 
L 806.17 430.65 
L 807.67 426.40 
L 809.17 427.74 
L 810.67 426.12 
L 812.17 422.93 
L 813.67 424.36 
L 815.17 426.69 
L 816.68 425.55 
L 818.18 425.21 
L 819.68 425.42 
L 821.18 424.21 
L 822.68 422.25 
L 824.18 425.48 
L 825.68 423.03 
L 827.18 423.43 
L 828.69 423.18 
L 831.69 423.22 
L 833.19 423.09 
L 834.69 422.16 
L 836.19 421.43 
L 837.69 421.23 
L 839.19 421.86 
L 840.7 421.84 
L 842.20 421.63 
L 843.70 419.82 
L 845.20 419.85 
L 846.70 419.57 
L 848.20 417.65 
L 849.70 417.75 
L 851.20 419.51 
L 852.70 419.04 
L 854.21 416.76 
L 855.71 416.39 
L 857.21 418.73 
L 858.71 418.47 
L 860.21 417.85 
L 861.71 419.13 
L 863.21 417.40 
L 864.71 416.06 
L 866.22 417.66 
L 867.72 419.01 
L 869.22 416.62 
L 870.72 413.98 
L 872.22 414.53 
L 873.72 414.92 
L 875.22 417.02 
L 878.23 414.88 
L 879.73 414.75 
L 881.23 413.75 
L 882.73 414.12 
L 884.23 414.83 
L 885.73 413.50 
L 888.73 412.71 
L 890.24 412.08 
L 891.74 412.92 
L 893.24 413.26 
L 894.74 413.12 
L 896.24 412.09 
L 897.74 412.54 
L 899.24 412.72 
L 900.74 411.68 
L 902.24 411.53 
L 905.25 412.16 
L 906.75 412.16 
L 908.25 412.97 
L 909.75 411.32 
L 911.25 410.18 
L 912.75 410.21 
L 914.25 410.61 
L 915.76 410.31 
L 917.26 411.28 
L 918.76 411.18 
L 920.26 411.70 
L 921.76 411.36 
L 923.26 410.00 
L 924.76 410.14 
L 926.26 409.20 
L 927.77 409.09 
L 929.27 409.48 
L 930.77 410.04 
L 935.27 408.58 
L 936.77 409.17 
L 939.78 408.67 
L 941.28 408.88 
L 942.78 408.35 
L 945.78 408.16 
L 947.28 407.65 
L 948.78 408.10 
L 950.28 407.25 
L 951.78 407.87 
L 953.29 408.30 
L 954.79 408.21 
L 957.79 407.00 
L 959.29 407.26 
L 960.79 407.71 
L 962.29 407.76 
L 965.30 406.44 
L 966.80 407.17 
L 968.30 407.12 
L 969.80 406.69 
L 971.30 406.79 
L 972.80 405.95 
L 974.30 404.91 
L 975.80 404.78 
L 977.31 405.43 
L 978.81 406.73 
L 980.31 406.77 
L 981.81 405.24 
L 983.31 404.26 
L 984.81 405.37 
L 986.31 405.80 
L 987.81 405.21 
L 989.32 405.52 
L 990.82 405.05 
L 992.32 404.94 
L 993.82 404.47 
L 995.32 404.42 
L 996.82 404.17 
L 998.32 405.09 
L 999.82 405.19 
L 1001.32 404.38 
L 1002.83 404.11 
L 1004.33 404.31 
L 1005.83 405.05 
L 1007.33 405.22 
L 1008.83 404.66 
L 1011.83 404.50 
L 1013.33 405.06 
L 1014.84 405.10 
L 1016.34 404.59 
L 1017.84 405.05 
L 1019.34 403.93 
L 1020.84 404.03 
L 1022.34 404.57 
L 1023.84 404.67 
L 1025.34 404.60 
L 1026.85 404.17 
L 1028.35 404.25 
L 1029.85 404.61 
L 1031.35 404.20 
L 1032.85 404.35 
L 1037.35 404.07 
L 1040.36 404.36 
L 1041.86 404.72 
L 1043.36 403.87 
L 1044.86 404.03 
L 1046.36 404.34 
L 1047.86 404.22 
L 1049.36 403.51 
L 1050.86 403.80 
L 1052.37 404.72 
L 1053.87 405.04 
L 1055.37 404.25 
L 1056.87 403.85 
L 1058.37 403.98 
L 1059.87 404.22 
L 1061.37 404.86 
L 1062.87 404.17 
L 1064.38 403.90 
L 1065.88 404.01 
L 1065.88 404.01 
" clip-path="url(#pb3a19cb6d7)" style="fill: none; stroke: #30e880; stroke-width: 1.75; stroke-linecap: square"/>
   </g>
   <g id="line2d_92">
    <path d="M 615.51 616.66 
L 617.01 606.16 
L 618.52 610.59 
L 620.02 601.93 
L 621.52 597.44 
L 623.02 601.06 
L 624.52 595.00 
L 626.02 590.82 
L 627.52 587.49 
L 629.02 578.64 
L 630.53 568.98 
L 632.03 568.08 
L 633.53 559.57 
L 635.03 558.15 
L 636.53 551.84 
L 638.03 550.58 
L 639.53 547.53 
L 641.03 546.22 
L 642.54 542.04 
L 644.04 536.97 
L 645.54 532.79 
L 647.04 533.15 
L 648.54 535.77 
L 650.04 538.83 
L 651.54 541.44 
L 653.04 532.77 
L 654.54 526.30 
L 656.05 521.26 
L 657.55 518.88 
L 659.05 518.17 
L 660.55 515.79 
L 662.05 521.18 
L 663.55 516.43 
L 665.05 514.33 
L 666.55 503.79 
L 669.56 508.09 
L 671.06 508.65 
L 672.56 500.29 
L 674.06 500.11 
L 675.56 498.72 
L 677.06 497.72 
L 678.56 495.33 
L 680.07 495.81 
L 681.57 493.93 
L 683.07 495.24 
L 684.57 490.42 
L 686.07 490.66 
L 687.57 490.71 
L 689.07 491.77 
L 690.57 488.61 
L 692.08 485.18 
L 693.58 480.50 
L 695.08 481.58 
L 696.58 481.96 
L 698.08 477.67 
L 699.58 482.52 
L 701.08 479.73 
L 702.58 479.37 
L 704.08 479.42 
L 705.59 474.05 
L 707.09 472.78 
L 708.59 470.63 
L 710.09 467.04 
L 711.59 469.18 
L 713.09 469.09 
L 714.59 471.50 
L 716.09 468.67 
L 717.60 467.76 
L 719.10 469.97 
L 720.60 468.29 
L 722.10 468.78 
L 723.60 469.78 
L 725.10 463.55 
L 726.60 461.40 
L 729.61 461.18 
L 731.11 464.03 
L 732.61 461.77 
L 734.11 461.37 
L 735.61 453.47 
L 737.11 454.13 
L 738.61 459.17 
L 740.11 457.93 
L 741.62 456.03 
L 743.12 457.09 
L 744.62 454.79 
L 746.12 451.27 
L 747.62 447.28 
L 749.12 446.06 
L 750.62 445.87 
L 752.12 444.66 
L 753.62 448.74 
L 755.13 453.23 
L 756.63 452.91 
L 758.13 447.67 
L 759.63 440.06 
L 761.13 439.33 
L 762.63 441.68 
L 764.13 444.23 
L 765.63 443.87 
L 767.14 444.72 
L 768.64 445.14 
L 770.14 441.23 
L 771.64 439.63 
L 773.14 440.22 
L 774.64 438.04 
L 776.14 438.81 
L 777.64 435.40 
L 779.15 431.24 
L 780.65 435.60 
L 782.15 436.69 
L 783.65 434.99 
L 785.15 436.37 
L 786.65 432.68 
L 788.15 432.72 
L 789.65 433.88 
L 791.16 434.66 
L 792.66 432.70 
L 794.16 432.32 
L 795.66 431.62 
L 797.16 431.30 
L 798.66 429.15 
L 800.16 429.27 
L 801.66 431.07 
L 803.16 429.05 
L 804.67 428.08 
L 806.17 425.87 
L 807.67 428.42 
L 809.17 427.72 
L 810.67 426.30 
L 812.17 425.56 
L 813.67 425.59 
L 815.17 424.22 
L 818.18 424.99 
L 819.68 425.51 
L 821.18 424.97 
L 824.18 423.52 
L 825.68 423.65 
L 827.18 423.15 
L 828.69 420.84 
L 830.19 423.09 
L 831.69 422.70 
L 833.19 422.46 
L 834.69 421.04 
L 836.19 420.70 
L 837.69 419.19 
L 839.19 419.88 
L 840.7 419.48 
L 842.20 420.21 
L 843.70 420.18 
L 845.20 419.77 
L 846.70 419.92 
L 848.20 418.78 
L 849.70 418.22 
L 851.20 418.86 
L 852.70 419.01 
L 854.21 418.25 
L 855.71 417.97 
L 857.21 417.87 
L 858.71 416.79 
L 860.21 416.05 
L 861.71 417.00 
L 863.21 415.63 
L 864.71 416.22 
L 866.22 415.13 
L 867.72 414.85 
L 869.22 415.50 
L 870.72 414.65 
L 872.22 414.37 
L 873.72 413.58 
L 875.22 413.99 
L 876.72 414.97 
L 879.73 413.83 
L 881.23 411.92 
L 882.73 412.36 
L 884.23 414.04 
L 885.73 412.19 
L 887.23 410.81 
L 888.73 412.40 
L 890.24 411.03 
L 891.74 410.53 
L 893.24 410.68 
L 894.74 410.43 
L 897.74 410.84 
L 899.24 411.58 
L 900.74 410.25 
L 902.24 410.14 
L 903.75 409.74 
L 905.25 408.83 
L 906.75 407.79 
L 908.25 409.05 
L 909.75 409.03 
L 911.25 409.31 
L 912.75 408.07 
L 914.25 407.61 
L 915.76 408.04 
L 917.26 409.13 
L 918.76 409.02 
L 921.76 407.20 
L 924.76 407.37 
L 926.26 406.97 
L 927.77 406.19 
L 929.27 405.89 
L 930.77 406.38 
L 932.27 406.66 
L 935.27 406.73 
L 938.27 406.00 
L 939.78 406.03 
L 941.28 405.05 
L 942.78 405.77 
L 944.28 406.16 
L 945.78 405.44 
L 947.28 405.15 
L 950.28 405.01 
L 953.29 404.60 
L 954.79 404.02 
L 956.29 404.74 
L 957.79 404.71 
L 959.29 404.02 
L 960.79 403.53 
L 962.29 404.29 
L 963.79 404.50 
L 965.30 404.84 
L 966.80 404.88 
L 968.30 404.51 
L 969.80 403.35 
L 971.30 403.10 
L 972.80 402.66 
L 974.30 402.55 
L 978.81 403.33 
L 980.31 403.28 
L 981.81 403.47 
L 983.31 402.95 
L 984.81 403.78 
L 987.81 403.07 
L 989.32 402.85 
L 990.82 403.06 
L 992.32 402.38 
L 993.82 401.96 
L 995.32 401.92 
L 996.82 401.04 
L 998.32 401.44 
L 999.82 402.66 
L 1002.83 402.58 
L 1004.33 402.82 
L 1005.83 401.99 
L 1007.33 402.05 
L 1008.83 403.38 
L 1010.33 402.57 
L 1011.83 402.01 
L 1013.33 402.38 
L 1014.84 402.10 
L 1016.34 401.69 
L 1017.84 401.09 
L 1019.34 401.18 
L 1020.84 402.00 
L 1023.84 400.67 
L 1025.34 401.53 
L 1026.85 402.10 
L 1028.35 402.30 
L 1029.85 402.03 
L 1031.35 401.90 
L 1032.85 401.58 
L 1034.35 401.11 
L 1035.85 400.81 
L 1037.35 401.34 
L 1038.86 401.74 
L 1040.36 401.03 
L 1043.36 401.62 
L 1044.86 401.17 
L 1046.36 401.07 
L 1047.86 400.75 
L 1050.86 401.78 
L 1053.87 401.10 
L 1058.37 401.18 
L 1059.87 401.09 
L 1061.37 400.73 
L 1062.87 400.60 
L 1064.38 400.83 
L 1065.88 401.26 
L 1065.88 401.26 
" clip-path="url(#pb3a19cb6d7)" style="fill: none; stroke: #f0b0f0; stroke-width: 1.75; stroke-linecap: square"/>
   </g>
   <g id="line2d_93">
    <path d="M 615.51 647.02 
L 617.01 647.02 
L 618.52 638.06 
L 620.02 634.88 
L 621.52 632.94 
L 623.02 619.17 
L 624.52 608.32 
L 626.02 609.68 
L 627.52 609.83 
L 630.53 599.78 
L 632.03 584.42 
L 633.53 578.97 
L 635.03 579.61 
L 638.03 579.25 
L 639.53 578.80 
L 641.03 569.52 
L 642.54 566.74 
L 644.04 557.99 
L 645.54 554.28 
L 647.04 549.28 
L 648.54 549.03 
L 650.04 552.34 
L 651.54 546.83 
L 653.04 545.28 
L 654.54 549.25 
L 656.05 552.02 
L 657.55 545.49 
L 659.05 533.98 
L 660.55 529.11 
L 662.05 528.57 
L 663.55 530.12 
L 665.05 534.97 
L 666.55 526.06 
L 668.06 525.52 
L 669.56 527.93 
L 671.06 519.14 
L 672.56 509.14 
L 674.06 512.10 
L 675.56 515.66 
L 677.06 517.85 
L 678.56 522.44 
L 680.07 512.76 
L 681.57 510.32 
L 684.57 499.53 
L 686.07 500.18 
L 687.57 504.37 
L 689.07 505.62 
L 690.57 499.40 
L 692.08 498.01 
L 693.58 495.75 
L 695.08 501.42 
L 696.58 500.64 
L 698.08 498.66 
L 699.58 494.38 
L 701.08 492.56 
L 702.58 488.44 
L 704.08 494.17 
L 705.59 491.81 
L 707.09 485.54 
L 708.59 482.03 
L 710.09 488.56 
L 711.59 485.65 
L 713.09 480.73 
L 714.59 480.92 
L 716.09 482.01 
L 717.60 486.46 
L 719.10 490.10 
L 720.60 484.81 
L 722.10 477.54 
L 723.60 477.91 
L 725.10 470.71 
L 726.60 470.40 
L 728.10 474.13 
L 729.61 471.73 
L 731.11 477.18 
L 732.61 471.90 
L 734.11 469.22 
L 735.61 475.66 
L 737.11 476.80 
L 738.61 470.53 
L 740.11 464.98 
L 741.62 466.91 
L 743.12 467.52 
L 744.62 469.76 
L 746.12 467.98 
L 747.62 465.04 
L 749.12 460.86 
L 750.62 460.05 
L 752.12 463.92 
L 753.62 461.66 
L 755.13 459.73 
L 756.63 463.30 
L 758.13 470.37 
L 759.63 463.81 
L 761.13 461.45 
L 762.63 457.61 
L 764.13 454.15 
L 765.63 458.22 
L 767.14 461.11 
L 768.64 450.31 
L 770.14 451.14 
L 771.64 455.47 
L 774.64 451.21 
L 776.14 453.38 
L 777.64 454.35 
L 779.15 451.63 
L 780.65 450.51 
L 782.15 449.56 
L 783.65 450.89 
L 785.15 449.15 
L 786.65 451.87 
L 788.15 447.16 
L 789.65 444.94 
L 791.16 444.33 
L 792.66 442.26 
L 794.16 446.49 
L 795.66 446.42 
L 797.16 445.33 
L 798.66 442.18 
L 800.16 440.90 
L 801.66 442.60 
L 803.16 445.15 
L 804.67 439.76 
L 806.17 436.00 
L 807.67 438.18 
L 809.17 439.21 
L 810.67 438.57 
L 812.17 436.66 
L 813.67 437.96 
L 815.17 438.79 
L 816.68 436.81 
L 818.18 437.11 
L 819.68 432.91 
L 821.18 432.91 
L 822.68 434.18 
L 824.18 433.38 
L 827.18 428.98 
L 828.69 432.15 
L 830.19 434.48 
L 831.69 430.83 
L 833.19 431.63 
L 834.69 429.64 
L 836.19 430.21 
L 837.69 432.06 
L 839.19 431.41 
L 840.7 428.12 
L 842.20 425.73 
L 843.70 426.28 
L 845.20 426.67 
L 846.70 426.01 
L 848.20 424.33 
L 849.70 426.68 
L 851.20 427.28 
L 852.70 427.00 
L 854.21 422.55 
L 855.71 420.28 
L 857.21 422.34 
L 858.71 423.85 
L 860.21 424.80 
L 861.71 422.55 
L 863.21 421.17 
L 864.71 422.53 
L 866.22 421.15 
L 867.72 420.32 
L 869.22 419.73 
L 870.72 420.88 
L 872.22 421.43 
L 873.72 420.60 
L 875.22 420.82 
L 876.72 418.65 
L 878.23 417.61 
L 879.73 416.88 
L 881.23 415.78 
L 882.73 416.50 
L 884.23 416.50 
L 885.73 416.88 
L 887.23 417.71 
L 888.73 416.64 
L 890.24 414.38 
L 893.24 414.42 
L 894.74 415.13 
L 896.24 414.89 
L 897.74 414.85 
L 899.24 414.64 
L 900.74 413.24 
L 902.24 412.95 
L 903.75 412.30 
L 905.25 413.09 
L 906.75 414.65 
L 909.75 411.44 
L 911.25 411.22 
L 912.75 411.48 
L 914.25 411.16 
L 915.76 412.03 
L 918.76 411.42 
L 920.26 411.45 
L 921.76 410.36 
L 923.26 410.32 
L 924.76 409.57 
L 926.26 410.32 
L 927.77 410.68 
L 929.27 409.78 
L 930.77 409.85 
L 932.27 409.18 
L 933.77 408.76 
L 935.27 408.88 
L 936.77 409.23 
L 938.27 409.07 
L 939.78 408.58 
L 941.28 407.57 
L 944.28 406.69 
L 947.28 407.69 
L 948.78 407.51 
L 950.28 408.13 
L 951.78 407.87 
L 953.29 407.89 
L 954.79 407.32 
L 956.29 407.01 
L 957.79 406.14 
L 959.29 405.78 
L 960.79 406.39 
L 962.29 406.35 
L 963.79 405.81 
L 965.30 406.04 
L 966.80 405.84 
L 968.30 405.44 
L 969.80 405.44 
L 971.30 405.21 
L 972.80 405.33 
L 974.30 405.93 
L 975.80 405.68 
L 977.31 404.99 
L 978.81 404.94 
L 980.31 404.46 
L 981.81 404.78 
L 984.81 404.99 
L 986.31 404.69 
L 987.81 404.19 
L 990.82 403.59 
L 992.32 403.81 
L 993.82 404.48 
L 995.32 404.12 
L 996.82 403.99 
L 998.32 404.70 
L 999.82 404.57 
L 1001.32 404.22 
L 1002.83 404.00 
L 1004.33 404.25 
L 1005.83 404.32 
L 1007.33 404.22 
L 1008.83 403.55 
L 1010.33 404.32 
L 1011.83 404.10 
L 1013.33 404.72 
L 1014.84 404.89 
L 1016.34 403.51 
L 1017.84 403.44 
L 1019.34 404.25 
L 1020.84 404.59 
L 1022.34 404.17 
L 1023.84 404.01 
L 1025.34 403.64 
L 1026.85 403.68 
L 1029.85 404.53 
L 1031.35 404.13 
L 1032.85 404.02 
L 1034.35 404.39 
L 1035.85 404.51 
L 1037.35 404.24 
L 1041.86 404.32 
L 1043.36 404.11 
L 1044.86 403.64 
L 1046.36 404.17 
L 1047.86 404.43 
L 1049.36 403.95 
L 1050.86 403.77 
L 1053.87 404.16 
L 1055.37 404.41 
L 1058.37 404.47 
L 1059.87 403.81 
L 1061.37 403.68 
L 1062.87 404.39 
L 1064.38 404.39 
L 1065.88 404.15 
L 1065.88 404.15 
" clip-path="url(#pb3a19cb6d7)" style="fill: none; stroke: #ffe600; stroke-width: 1.75; stroke-linecap: square"/>
   </g>
   <g id="line2d_94">
    <path d="M 615.51 622.73 
L 617.01 621.59 
L 618.52 616.66 
L 620.02 610.98 
L 621.52 602.50 
L 623.02 599.81 
L 624.52 588.75 
L 626.02 588.51 
L 627.52 584.45 
L 629.02 573.58 
L 630.53 572.56 
L 632.03 569.30 
L 633.53 562.82 
L 635.03 554.36 
L 636.53 545.10 
L 638.03 544.20 
L 639.53 541.36 
L 641.03 548.49 
L 642.54 546.37 
L 644.04 534.62 
L 645.54 538.80 
L 647.04 536.12 
L 648.54 525.93 
L 650.04 523.93 
L 651.54 524.70 
L 653.04 528.81 
L 654.54 527.43 
L 656.05 522.30 
L 657.55 515.67 
L 659.05 515.85 
L 660.55 515.44 
L 662.05 511.95 
L 663.55 516.45 
L 665.05 514.95 
L 666.55 513.89 
L 668.06 505.73 
L 669.56 500.56 
L 671.06 499.76 
L 672.56 497.57 
L 674.06 498.30 
L 675.56 492.17 
L 677.06 491.04 
L 678.56 490.71 
L 680.07 493.99 
L 681.57 494.20 
L 683.07 490.37 
L 684.57 490.47 
L 686.07 487.88 
L 687.57 482.01 
L 689.07 480.56 
L 690.57 481.33 
L 692.08 484.29 
L 693.58 485.47 
L 695.08 482.56 
L 696.58 481.25 
L 698.08 476.00 
L 699.58 468.56 
L 701.08 471.96 
L 702.58 472.08 
L 704.08 476.96 
L 705.59 476.18 
L 707.09 472.71 
L 708.59 467.67 
L 710.09 468.03 
L 711.59 465.55 
L 713.09 466.33 
L 714.59 468.22 
L 716.09 469.26 
L 717.60 463.91 
L 719.10 468.20 
L 720.60 464.70 
L 722.10 460.86 
L 723.60 463.14 
L 726.60 455.28 
L 728.10 455.97 
L 729.61 455.83 
L 731.11 451.74 
L 732.61 453.41 
L 734.11 449.74 
L 735.61 451.67 
L 737.11 454.00 
L 738.61 451.81 
L 740.11 456.60 
L 741.62 456.29 
L 743.12 453.29 
L 744.62 449.54 
L 746.12 449.56 
L 747.62 447.64 
L 749.12 442.75 
L 750.62 444.80 
L 752.12 446.16 
L 753.62 448.00 
L 755.13 447.54 
L 756.63 447.67 
L 758.13 443.20 
L 759.63 441.24 
L 761.13 443.80 
L 762.63 442.01 
L 764.13 437.89 
L 765.63 442.40 
L 767.14 440.53 
L 768.64 435.99 
L 770.14 438.34 
L 771.64 436.77 
L 773.14 434.94 
L 774.64 437.18 
L 776.14 437.32 
L 777.64 435.73 
L 779.15 438.83 
L 782.15 435.78 
L 783.65 429.43 
L 785.15 430.34 
L 786.65 430.73 
L 788.15 429.50 
L 789.65 430.89 
L 791.16 431.24 
L 792.66 431.75 
L 794.16 429.69 
L 795.66 432.74 
L 797.16 430.39 
L 798.66 428.55 
L 800.16 429.50 
L 801.66 430.23 
L 803.16 428.08 
L 804.67 425.22 
L 806.17 423.85 
L 807.67 424.60 
L 809.17 424.50 
L 810.67 421.90 
L 812.17 424.17 
L 813.67 424.08 
L 815.17 425.63 
L 816.68 427.78 
L 818.18 422.82 
L 819.68 422.36 
L 821.18 423.09 
L 822.68 422.36 
L 824.18 423.92 
L 825.68 422.91 
L 828.69 416.76 
L 830.19 417.65 
L 831.69 420.71 
L 833.19 422.39 
L 834.69 423.28 
L 836.19 421.29 
L 837.69 418.86 
L 839.19 418.43 
L 840.7 416.82 
L 843.70 420.31 
L 845.20 418.04 
L 846.70 418.23 
L 848.20 419.35 
L 849.70 417.37 
L 851.20 416.98 
L 852.70 416.04 
L 854.21 418.27 
L 855.71 417.46 
L 857.21 415.41 
L 858.71 416.03 
L 860.21 416.16 
L 861.71 414.53 
L 863.21 414.65 
L 864.71 414.61 
L 866.22 414.91 
L 867.72 414.55 
L 869.22 413.71 
L 870.72 414.87 
L 872.22 414.60 
L 873.72 412.86 
L 875.22 412.37 
L 876.72 413.06 
L 878.23 412.45 
L 879.73 411.98 
L 881.23 412.20 
L 884.23 411.85 
L 885.73 410.46 
L 888.73 411.61 
L 890.24 411.53 
L 891.74 410.30 
L 893.24 411.34 
L 894.74 409.43 
L 896.24 409.02 
L 897.74 410.48 
L 899.24 409.61 
L 900.74 410.27 
L 903.75 410.05 
L 905.25 409.19 
L 906.75 407.67 
L 908.25 408.44 
L 911.25 408.32 
L 912.75 408.55 
L 914.25 408.39 
L 917.26 407.21 
L 918.76 407.03 
L 920.26 406.44 
L 921.76 406.93 
L 923.26 405.61 
L 924.76 406.37 
L 926.26 406.12 
L 927.77 405.52 
L 929.27 405.19 
L 930.77 406.43 
L 932.27 406.80 
L 933.77 406.51 
L 935.27 405.65 
L 936.77 405.15 
L 938.27 405.62 
L 939.78 405.54 
L 941.28 405.20 
L 942.78 405.14 
L 944.28 404.57 
L 945.78 404.93 
L 947.28 404.82 
L 948.78 404.28 
L 950.28 404.78 
L 951.78 404.33 
L 953.29 404.04 
L 954.79 404.86 
L 956.29 403.94 
L 957.79 403.23 
L 959.29 403.71 
L 960.79 403.19 
L 962.29 403.31 
L 965.30 403.34 
L 966.80 403.49 
L 968.30 404.06 
L 969.80 403.16 
L 971.30 402.62 
L 972.80 403.06 
L 975.80 402.95 
L 978.81 403.34 
L 981.81 402.22 
L 983.31 401.91 
L 987.81 402.14 
L 990.82 401.53 
L 992.32 401.43 
L 993.82 402.06 
L 995.32 401.82 
L 996.82 401.96 
L 998.32 401.62 
L 999.82 402.34 
L 1001.32 402.35 
L 1002.83 401.80 
L 1004.33 401.09 
L 1005.83 401.19 
L 1008.83 402.01 
L 1010.33 401.54 
L 1011.83 400.85 
L 1013.33 401.96 
L 1014.84 401.55 
L 1016.34 400.43 
L 1017.84 400.34 
L 1019.34 400.52 
L 1020.84 401.27 
L 1022.34 401.84 
L 1023.84 401.48 
L 1025.34 400.99 
L 1026.85 400.96 
L 1028.35 401.07 
L 1029.85 400.71 
L 1031.35 401.15 
L 1032.85 400.86 
L 1034.35 401.12 
L 1035.85 401.14 
L 1037.35 400.76 
L 1038.86 400.73 
L 1040.36 400.51 
L 1041.86 400.81 
L 1043.36 400.58 
L 1044.86 401.01 
L 1046.36 400.98 
L 1047.86 400.57 
L 1049.36 400.44 
L 1050.86 400.74 
L 1053.87 400.36 
L 1055.37 400.47 
L 1056.87 400.01 
L 1058.37 400.18 
L 1059.87 400.90 
L 1061.37 400.74 
L 1062.87 400.94 
L 1064.38 400.76 
L 1065.88 400.37 
L 1065.88 400.37 
" clip-path="url(#pb3a19cb6d7)" style="fill: none; stroke: #b8b8b8; stroke-width: 1.75; stroke-linecap: square"/>
   </g>
   <g id="line2d_95">
    <path d="M 615.51 647.02 
L 618.52 647.02 
L 620.02 635.65 
L 621.52 621.42 
L 623.02 609.59 
L 624.52 600.37 
L 626.02 589.58 
L 627.52 589.36 
L 629.02 586.94 
L 630.53 575.49 
L 632.03 572.76 
L 633.53 568.23 
L 635.03 557.67 
L 636.53 557.48 
L 638.03 556.24 
L 639.53 550.66 
L 641.03 554.12 
L 642.54 554.25 
L 644.04 549.46 
L 645.54 534.58 
L 647.04 528.49 
L 648.54 531.49 
L 650.04 535.76 
L 651.54 529.48 
L 653.04 528.94 
L 654.54 524.65 
L 656.05 518.91 
L 657.55 522.30 
L 659.05 520.92 
L 660.55 519.00 
L 662.05 520.40 
L 663.55 518.90 
L 665.05 509.40 
L 666.55 506.60 
L 668.06 509.93 
L 669.56 508.43 
L 671.06 512.53 
L 672.56 511.56 
L 674.06 508.99 
L 675.56 505.94 
L 677.06 501.05 
L 678.56 497.36 
L 680.07 504.64 
L 681.57 500.17 
L 683.07 499.76 
L 684.57 501.22 
L 686.07 492.06 
L 687.57 491.75 
L 689.07 481.81 
L 690.57 483.65 
L 692.08 487.15 
L 693.58 489.77 
L 695.08 493.36 
L 696.58 493.10 
L 698.08 487.42 
L 699.58 490.85 
L 701.08 486.34 
L 702.58 483.68 
L 704.08 480.78 
L 705.59 480.80 
L 707.09 476.43 
L 708.59 478.73 
L 710.09 478.70 
L 711.59 475.73 
L 713.09 475.53 
L 714.59 477.44 
L 716.09 475.12 
L 717.60 472.37 
L 719.10 474.57 
L 720.60 468.48 
L 722.10 473.57 
L 723.60 469.18 
L 725.10 465.30 
L 728.10 470.59 
L 729.61 470.84 
L 731.11 466.64 
L 732.61 461.41 
L 734.11 460.35 
L 735.61 464.45 
L 737.11 460.30 
L 738.61 460.88 
L 740.11 458.92 
L 741.62 460.43 
L 743.12 466.15 
L 744.62 460.42 
L 746.12 456.85 
L 747.62 454.63 
L 749.12 455.75 
L 750.62 454.17 
L 752.12 455.21 
L 753.62 454.44 
L 755.13 456.59 
L 756.63 452.84 
L 758.13 453.15 
L 759.63 452.93 
L 761.13 450.70 
L 762.63 447.49 
L 764.13 451.54 
L 765.63 451.54 
L 767.14 448.26 
L 768.64 444.13 
L 770.14 444.02 
L 771.64 445.31 
L 773.14 444.97 
L 774.64 442.90 
L 776.14 443.41 
L 777.64 442.36 
L 779.15 437.32 
L 780.65 435.83 
L 782.15 438.16 
L 783.65 439.99 
L 785.15 440.08 
L 786.65 434.73 
L 788.15 436.99 
L 789.65 436.14 
L 791.16 433.77 
L 792.66 433.12 
L 794.16 435.08 
L 795.66 434.34 
L 798.66 429.69 
L 800.16 433.80 
L 801.66 432.14 
L 803.16 429.48 
L 804.67 427.06 
L 806.17 426.17 
L 807.67 426.35 
L 810.67 428.10 
L 812.17 427.43 
L 813.67 423.09 
L 815.17 425.07 
L 816.68 423.17 
L 818.18 425.48 
L 819.68 421.38 
L 821.18 422.38 
L 822.68 425.30 
L 824.18 425.50 
L 825.68 424.72 
L 827.18 420.60 
L 828.69 418.06 
L 830.19 417.55 
L 831.69 416.58 
L 833.19 417.36 
L 834.69 417.54 
L 836.19 415.99 
L 837.69 416.26 
L 839.19 415.51 
L 840.7 416.89 
L 842.20 415.90 
L 843.70 413.94 
L 845.20 413.31 
L 846.70 413.83 
L 848.20 411.65 
L 849.70 412.19 
L 851.20 411.65 
L 852.70 411.43 
L 854.21 411.66 
L 855.71 411.70 
L 857.21 410.98 
L 858.71 409.51 
L 860.21 408.70 
L 861.71 408.57 
L 863.21 409.39 
L 864.71 409.04 
L 866.22 408.19 
L 867.72 407.13 
L 869.22 406.50 
L 870.72 407.86 
L 872.22 408.22 
L 873.72 406.08 
L 875.22 405.20 
L 876.72 405.68 
L 878.23 405.74 
L 879.73 406.39 
L 881.23 406.53 
L 882.73 405.12 
L 884.23 405.74 
L 885.73 405.46 
L 887.23 404.70 
L 888.73 403.55 
L 890.24 403.48 
L 891.74 403.18 
L 893.24 402.33 
L 894.74 401.96 
L 896.24 402.29 
L 897.74 402.00 
L 899.24 400.94 
L 900.74 400.50 
L 902.24 400.88 
L 903.75 400.19 
L 905.25 399.28 
L 906.75 399.33 
L 908.25 399.58 
L 909.75 399.32 
L 911.25 397.94 
L 912.75 398.00 
L 914.25 397.91 
L 915.76 398.45 
L 921.76 395.20 
L 923.26 394.93 
L 924.76 396.11 
L 926.26 395.24 
L 927.77 394.17 
L 929.27 393.36 
L 930.77 393.54 
L 932.27 393.34 
L 933.77 392.36 
L 935.27 391.03 
L 936.77 391.49 
L 938.27 392.60 
L 939.78 392.46 
L 941.28 392.12 
L 942.78 391.04 
L 944.28 390.34 
L 945.78 391.18 
L 948.78 390.83 
L 950.28 389.33 
L 951.78 388.35 
L 954.79 388.53 
L 956.29 388.43 
L 959.29 389.44 
L 962.29 388.25 
L 963.79 388.77 
L 965.30 389.14 
L 966.80 388.45 
L 968.30 387.22 
L 969.80 387.19 
L 971.30 387.33 
L 972.80 387.29 
L 974.30 386.96 
L 977.31 385.39 
L 978.81 385.96 
L 980.31 387.07 
L 981.81 387.91 
L 983.31 386.72 
L 984.81 386.03 
L 986.31 385.52 
L 987.81 386.27 
L 989.32 386.64 
L 990.82 386.17 
L 992.32 385.83 
L 993.82 385.37 
L 995.32 385.31 
L 996.82 385.84 
L 998.32 385.30 
L 999.82 385.06 
L 1001.32 384.51 
L 1002.83 384.97 
L 1004.33 385.09 
L 1005.83 384.26 
L 1007.33 384.98 
L 1008.83 386.18 
L 1010.33 385.76 
L 1011.83 384.76 
L 1013.33 384.74 
L 1014.84 384.25 
L 1017.84 385.04 
L 1019.34 384.98 
L 1022.34 383.89 
L 1023.84 384.31 
L 1025.34 384.60 
L 1026.85 384.72 
L 1028.35 385.01 
L 1029.85 383.81 
L 1034.35 383.86 
L 1035.85 384.01 
L 1037.35 383.81 
L 1038.86 384.12 
L 1040.36 383.81 
L 1047.86 383.81 
L 1049.36 383.95 
L 1050.86 383.81 
L 1052.37 383.87 
L 1055.37 383.81 
L 1065.88 383.81 
L 1065.88 383.81 
" clip-path="url(#pb3a19cb6d7)" style="fill: none; stroke: #ff0000; stroke-width: 1.75; stroke-linecap: square"/>
   </g>
   <g id="patch_21">
    <path d="M 593 660.18 
L 593 370.65 
" style="fill: none; stroke: #000000; stroke-width: 0.8; stroke-linejoin: miter; stroke-linecap: square"/>
   </g>
   <g id="patch_22">
    <path d="M 1088.4 660.18 
L 1088.4 370.65 
" style="fill: none; stroke: #000000; stroke-width: 0.8; stroke-linejoin: miter; stroke-linecap: square"/>
   </g>
   <g id="patch_23">
    <path d="M 593 660.18 
L 1088.4 660.18 
" style="fill: none; stroke: #000000; stroke-width: 0.8; stroke-linejoin: miter; stroke-linecap: square"/>
   </g>
   <g id="patch_24">
    <path d="M 593 370.65 
L 1088.4 370.65 
" style="fill: none; stroke: #000000; stroke-width: 0.8; stroke-linejoin: miter; stroke-linecap: square"/>
   </g>
   <g id="text_83">
    <text style="font-size: 12px; font-family: 'DejaVu Sans'; text-anchor: middle" x="840.7" y="364.65" transform="rotate(-0 840.7 364.65)">mAP@50-95</text>
   </g>
   <g id="legend_4">
    <g id="patch_25">
     <path d="M 978.70 656.40 
L 1081.4 656.40 
Q 1083.4 656.40 1083.4 654.40 
L 1083.4 567.33 
Q 1083.4 565.33 1081.4 565.33 
L 978.70 565.33 
Q 976.70 565.33 976.70 567.33 
L 976.70 654.40 
Q 976.70 656.40 978.70 656.40 
z
" style="fill: #ffffff; opacity: 0.8; stroke: #cccccc; stroke-linejoin: miter"/>
    </g>
    <g id="line2d_96">
     <path d="M 980.70 573.43 
L 990.70 573.43 
L 1000.70 573.43 
" style="fill: none; stroke: #10d0f0; stroke-width: 1.75; stroke-linecap: square"/>
    </g>
    <g id="text_84">
     <text style="font-size: 10px; font-family: 'DejaVu Sans'; text-anchor: start" x="1008.70" y="576.93" transform="rotate(-0 1008.70 576.93)">YOLOv5n</text>
    </g>
    <g id="line2d_97">
     <path d="M 980.70 588.10 
L 990.70 588.10 
L 1000.70 588.10 
" style="fill: none; stroke: #30e880; stroke-width: 1.75; stroke-linecap: square"/>
    </g>
    <g id="text_85">
     <text style="font-size: 10px; font-family: 'DejaVu Sans'; text-anchor: start" x="1008.70" y="591.60" transform="rotate(-0 1008.70 591.60)">YOLOv8n</text>
    </g>
    <g id="line2d_98">
     <path d="M 980.70 602.78 
L 990.70 602.78 
L 1000.70 602.78 
" style="fill: none; stroke: #f0b0f0; stroke-width: 1.75; stroke-linecap: square"/>
    </g>
    <g id="text_86">
     <text style="font-size: 10px; font-family: 'DejaVu Sans'; text-anchor: start" x="1008.70" y="606.28" transform="rotate(-0 1008.70 606.28)">YOLOv9t</text>
    </g>
    <g id="line2d_99">
     <path d="M 980.70 617.46 
L 990.70 617.46 
L 1000.70 617.46 
" style="fill: none; stroke: #ffe600; stroke-width: 1.75; stroke-linecap: square"/>
    </g>
    <g id="text_87">
     <text style="font-size: 10px; font-family: 'DejaVu Sans'; text-anchor: start" x="1008.70" y="620.96" transform="rotate(-0 1008.70 620.96)">YOLOv10n</text>
    </g>
    <g id="line2d_100">
     <path d="M 980.70 632.14 
L 990.70 632.14 
L 1000.70 632.14 
" style="fill: none; stroke: #b8b8b8; stroke-width: 1.75; stroke-linecap: square"/>
    </g>
    <g id="text_88">
     <text style="font-size: 10px; font-family: 'DejaVu Sans'; text-anchor: start" x="1008.70" y="635.64" transform="rotate(-0 1008.70 635.64)">YOLOv11n</text>
    </g>
    <g id="line2d_101">
     <path d="M 980.70 646.82 
L 990.70 646.82 
L 1000.70 646.82 
" style="fill: none; stroke: #ff0000; stroke-width: 1.75; stroke-linecap: square"/>
    </g>
    <g id="text_89">
     <text style="font-size: 10px; font-family: 'DejaVu Sans'; text-anchor: start" x="1008.70" y="650.32" transform="rotate(-0 1008.70 650.32)">YOLOv11-EMC</text>
    </g>
   </g>
  </g>
 </g>
 <defs>
  <clipPath id="p830c4c7120">
   <rect x="48.6" y="23.17" width="495" height="289.71"/>
  </clipPath>
  <clipPath id="p3be8a313bc">
   <rect x="593" y="23.17" width="495.4" height="289.71"/>
  </clipPath>
  <clipPath id="pecb8b56a60">
   <rect x="48.6" y="370.65" width="495" height="289.53"/>
  </clipPath>
  <clipPath id="pb3a19cb6d7">
   <rect x="593" y="370.65" width="495.4" height="289.53"/>
  </clipPath>
 </defs>
</svg>

</body></html>
